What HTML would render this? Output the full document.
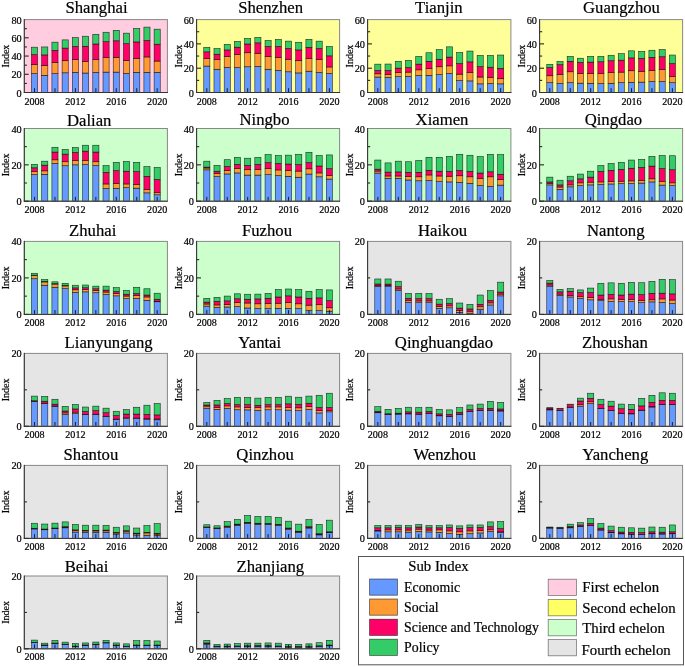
<!DOCTYPE html>
<html><head><meta charset="utf-8"><style>
html,body{margin:0;padding:0;background:#fff;}
svg{display:block;will-change:transform;}
text{font-family:"Liberation Serif",serif;fill:#000;stroke:#000;stroke-width:0.2px;}
</style></head><body>
<svg width="685" height="667" viewBox="0 0 685 667">
<rect width="685" height="667" fill="#fff"/>
<rect x="24.3" y="19.6" width="143.1" height="72.9" fill="#FFCCE0"/>
<rect x="31.46" y="73.6" width="6.13" height="18.9" fill="#6699FF" stroke="#000" stroke-opacity="0.8" stroke-width="0.6"/>
<rect x="31.46" y="64.71" width="6.13" height="8.89" fill="#FF9933" stroke="#000" stroke-opacity="0.8" stroke-width="0.6"/>
<rect x="31.46" y="54.57" width="6.13" height="10.14" fill="#FF0066" stroke="#000" stroke-opacity="0.8" stroke-width="0.6"/>
<rect x="31.46" y="47.17" width="6.13" height="7.4" fill="#33CC66" stroke="#000" stroke-opacity="0.8" stroke-width="0.6"/>
<rect x="41.68" y="75.31" width="6.13" height="17.19" fill="#6699FF" stroke="#000" stroke-opacity="0.8" stroke-width="0.6"/>
<rect x="41.68" y="65.62" width="6.13" height="9.69" fill="#FF9933" stroke="#000" stroke-opacity="0.8" stroke-width="0.6"/>
<rect x="41.68" y="54.91" width="6.13" height="10.71" fill="#FF0066" stroke="#000" stroke-opacity="0.8" stroke-width="0.6"/>
<rect x="41.68" y="46.94" width="6.13" height="7.97" fill="#33CC66" stroke="#000" stroke-opacity="0.8" stroke-width="0.6"/>
<rect x="51.9" y="73.6" width="6.13" height="18.9" fill="#6699FF" stroke="#000" stroke-opacity="0.8" stroke-width="0.6"/>
<rect x="51.9" y="62.43" width="6.13" height="11.17" fill="#FF9933" stroke="#000" stroke-opacity="0.8" stroke-width="0.6"/>
<rect x="51.9" y="50.36" width="6.13" height="12.07" fill="#FF0066" stroke="#000" stroke-opacity="0.8" stroke-width="0.6"/>
<rect x="51.9" y="42.15" width="6.13" height="8.21" fill="#33CC66" stroke="#000" stroke-opacity="0.8" stroke-width="0.6"/>
<rect x="62.12" y="72.8" width="6.13" height="19.7" fill="#6699FF" stroke="#000" stroke-opacity="0.8" stroke-width="0.6"/>
<rect x="62.12" y="60.73" width="6.13" height="12.07" fill="#FF9933" stroke="#000" stroke-opacity="0.8" stroke-width="0.6"/>
<rect x="62.12" y="48.08" width="6.13" height="12.65" fill="#FF0066" stroke="#000" stroke-opacity="0.8" stroke-width="0.6"/>
<rect x="62.12" y="39.88" width="6.13" height="8.2" fill="#33CC66" stroke="#000" stroke-opacity="0.8" stroke-width="0.6"/>
<rect x="72.34" y="72.35" width="6.13" height="20.15" fill="#6699FF" stroke="#000" stroke-opacity="0.8" stroke-width="0.6"/>
<rect x="72.34" y="59.7" width="6.13" height="12.65" fill="#FF9933" stroke="#000" stroke-opacity="0.8" stroke-width="0.6"/>
<rect x="72.34" y="46.48" width="6.13" height="13.22" fill="#FF0066" stroke="#000" stroke-opacity="0.8" stroke-width="0.6"/>
<rect x="72.34" y="37.6" width="6.13" height="8.88" fill="#33CC66" stroke="#000" stroke-opacity="0.8" stroke-width="0.6"/>
<rect x="82.56" y="73.03" width="6.13" height="19.47" fill="#6699FF" stroke="#000" stroke-opacity="0.8" stroke-width="0.6"/>
<rect x="82.56" y="61.29" width="6.13" height="11.74" fill="#FF9933" stroke="#000" stroke-opacity="0.8" stroke-width="0.6"/>
<rect x="82.56" y="46.26" width="6.13" height="15.03" fill="#FF0066" stroke="#000" stroke-opacity="0.8" stroke-width="0.6"/>
<rect x="82.56" y="36.23" width="6.13" height="10.03" fill="#33CC66" stroke="#000" stroke-opacity="0.8" stroke-width="0.6"/>
<rect x="92.78" y="72.46" width="6.13" height="20.04" fill="#6699FF" stroke="#000" stroke-opacity="0.8" stroke-width="0.6"/>
<rect x="92.78" y="59.7" width="6.13" height="12.76" fill="#FF9933" stroke="#000" stroke-opacity="0.8" stroke-width="0.6"/>
<rect x="92.78" y="43.98" width="6.13" height="15.72" fill="#FF0066" stroke="#000" stroke-opacity="0.8" stroke-width="0.6"/>
<rect x="92.78" y="34.29" width="6.13" height="9.69" fill="#33CC66" stroke="#000" stroke-opacity="0.8" stroke-width="0.6"/>
<rect x="103" y="72.12" width="6.13" height="20.38" fill="#6699FF" stroke="#000" stroke-opacity="0.8" stroke-width="0.6"/>
<rect x="103" y="57.65" width="6.13" height="14.47" fill="#FF9933" stroke="#000" stroke-opacity="0.8" stroke-width="0.6"/>
<rect x="103" y="41.7" width="6.13" height="15.95" fill="#FF0066" stroke="#000" stroke-opacity="0.8" stroke-width="0.6"/>
<rect x="103" y="32.24" width="6.13" height="9.46" fill="#33CC66" stroke="#000" stroke-opacity="0.8" stroke-width="0.6"/>
<rect x="113.23" y="72.12" width="6.13" height="20.38" fill="#6699FF" stroke="#000" stroke-opacity="0.8" stroke-width="0.6"/>
<rect x="113.23" y="57.31" width="6.13" height="14.81" fill="#FF9933" stroke="#000" stroke-opacity="0.8" stroke-width="0.6"/>
<rect x="113.23" y="40.79" width="6.13" height="16.52" fill="#FF0066" stroke="#000" stroke-opacity="0.8" stroke-width="0.6"/>
<rect x="113.23" y="30.3" width="6.13" height="10.49" fill="#33CC66" stroke="#000" stroke-opacity="0.8" stroke-width="0.6"/>
<rect x="123.45" y="73.49" width="6.13" height="19.01" fill="#6699FF" stroke="#000" stroke-opacity="0.8" stroke-width="0.6"/>
<rect x="123.45" y="60.5" width="6.13" height="12.99" fill="#FF9933" stroke="#000" stroke-opacity="0.8" stroke-width="0.6"/>
<rect x="123.45" y="43.64" width="6.13" height="16.86" fill="#FF0066" stroke="#000" stroke-opacity="0.8" stroke-width="0.6"/>
<rect x="123.45" y="33.15" width="6.13" height="10.49" fill="#33CC66" stroke="#000" stroke-opacity="0.8" stroke-width="0.6"/>
<rect x="133.67" y="72.35" width="6.13" height="20.15" fill="#6699FF" stroke="#000" stroke-opacity="0.8" stroke-width="0.6"/>
<rect x="133.67" y="58.67" width="6.13" height="13.68" fill="#FF9933" stroke="#000" stroke-opacity="0.8" stroke-width="0.6"/>
<rect x="133.67" y="41.93" width="6.13" height="16.74" fill="#FF0066" stroke="#000" stroke-opacity="0.8" stroke-width="0.6"/>
<rect x="133.67" y="28.48" width="6.13" height="13.45" fill="#33CC66" stroke="#000" stroke-opacity="0.8" stroke-width="0.6"/>
<rect x="143.89" y="72.35" width="6.13" height="20.15" fill="#6699FF" stroke="#000" stroke-opacity="0.8" stroke-width="0.6"/>
<rect x="143.89" y="56.97" width="6.13" height="15.38" fill="#FF9933" stroke="#000" stroke-opacity="0.8" stroke-width="0.6"/>
<rect x="143.89" y="40.45" width="6.13" height="16.52" fill="#FF0066" stroke="#000" stroke-opacity="0.8" stroke-width="0.6"/>
<rect x="143.89" y="27.11" width="6.13" height="13.34" fill="#33CC66" stroke="#000" stroke-opacity="0.8" stroke-width="0.6"/>
<rect x="154.11" y="72.35" width="6.13" height="20.15" fill="#6699FF" stroke="#000" stroke-opacity="0.8" stroke-width="0.6"/>
<rect x="154.11" y="61.07" width="6.13" height="11.28" fill="#FF9933" stroke="#000" stroke-opacity="0.8" stroke-width="0.6"/>
<rect x="154.11" y="44.2" width="6.13" height="16.87" fill="#FF0066" stroke="#000" stroke-opacity="0.8" stroke-width="0.6"/>
<rect x="154.11" y="29.17" width="6.13" height="15.03" fill="#33CC66" stroke="#000" stroke-opacity="0.8" stroke-width="0.6"/>
<line x1="34.52" y1="92.5" x2="34.52" y2="88.2" stroke="#111" stroke-width="0.9"/>
<line x1="54.96" y1="92.5" x2="54.96" y2="88.2" stroke="#111" stroke-width="0.9"/>
<line x1="75.41" y1="92.5" x2="75.41" y2="88.2" stroke="#111" stroke-width="0.9"/>
<line x1="95.85" y1="92.5" x2="95.85" y2="88.2" stroke="#111" stroke-width="0.9"/>
<line x1="116.29" y1="92.5" x2="116.29" y2="88.2" stroke="#111" stroke-width="0.9"/>
<line x1="136.74" y1="92.5" x2="136.74" y2="88.2" stroke="#111" stroke-width="0.9"/>
<line x1="157.18" y1="92.5" x2="157.18" y2="88.2" stroke="#111" stroke-width="0.9"/>
<rect x="24.3" y="19.6" width="143.1" height="72.9" fill="none" stroke="#888" stroke-width="1"/>
<line x1="24.3" y1="92.5" x2="28.7" y2="92.5" stroke="#111" stroke-width="1"/>
<text x="21.7" y="96.5" font-size="10.3" text-anchor="end">0</text>
<line x1="24.3" y1="83.39" x2="26.9" y2="83.39" stroke="#111" stroke-width="1"/>
<line x1="24.3" y1="74.28" x2="28.7" y2="74.28" stroke="#111" stroke-width="1"/>
<text x="21.7" y="78.28" font-size="10.3" text-anchor="end">20</text>
<line x1="24.3" y1="65.16" x2="26.9" y2="65.16" stroke="#111" stroke-width="1"/>
<line x1="24.3" y1="56.05" x2="28.7" y2="56.05" stroke="#111" stroke-width="1"/>
<text x="21.7" y="60.05" font-size="10.3" text-anchor="end">40</text>
<line x1="24.3" y1="46.94" x2="26.9" y2="46.94" stroke="#111" stroke-width="1"/>
<line x1="24.3" y1="37.83" x2="28.7" y2="37.83" stroke="#111" stroke-width="1"/>
<text x="21.7" y="41.83" font-size="10.3" text-anchor="end">60</text>
<line x1="24.3" y1="28.71" x2="26.9" y2="28.71" stroke="#111" stroke-width="1"/>
<text x="21.7" y="23.6" font-size="10.3" text-anchor="end">80</text>
<line x1="23.8" y1="92.5" x2="167.9" y2="92.5" stroke="#333" stroke-width="1"/>
<line x1="24.3" y1="19.1" x2="24.3" y2="93" stroke="#333" stroke-width="1"/>
<text x="34.52" y="104.7" font-size="10.1" text-anchor="middle">2008</text>
<text x="75.41" y="104.7" font-size="10.1" text-anchor="middle">2012</text>
<text x="116.29" y="104.7" font-size="10.1" text-anchor="middle">2016</text>
<text x="157.18" y="104.7" font-size="10.1" text-anchor="middle">2020</text>
<text x="9.5" y="56.05" font-size="10" text-anchor="middle" transform="rotate(-90 9.5 56.05)">Index</text>
<text x="96.5" y="12.8" font-size="16.7" text-anchor="middle">Shanghai</text>
<rect x="196.6" y="19.6" width="143" height="72.9" fill="#FFFF99"/>
<rect x="203.75" y="66.08" width="6.13" height="26.42" fill="#6699FF" stroke="#000" stroke-opacity="0.8" stroke-width="0.6"/>
<rect x="203.75" y="58.67" width="6.13" height="7.41" fill="#FF9933" stroke="#000" stroke-opacity="0.8" stroke-width="0.6"/>
<rect x="203.75" y="51.84" width="6.13" height="6.83" fill="#FF0066" stroke="#000" stroke-opacity="0.8" stroke-width="0.6"/>
<rect x="203.75" y="47.28" width="6.13" height="4.56" fill="#33CC66" stroke="#000" stroke-opacity="0.8" stroke-width="0.6"/>
<rect x="213.96" y="69.27" width="6.13" height="23.23" fill="#6699FF" stroke="#000" stroke-opacity="0.8" stroke-width="0.6"/>
<rect x="213.96" y="59.59" width="6.13" height="9.68" fill="#FF9933" stroke="#000" stroke-opacity="0.8" stroke-width="0.6"/>
<rect x="213.96" y="54.23" width="6.13" height="5.36" fill="#FF0066" stroke="#000" stroke-opacity="0.8" stroke-width="0.6"/>
<rect x="213.96" y="48.53" width="6.13" height="5.7" fill="#33CC66" stroke="#000" stroke-opacity="0.8" stroke-width="0.6"/>
<rect x="224.18" y="67.45" width="6.13" height="25.05" fill="#6699FF" stroke="#000" stroke-opacity="0.8" stroke-width="0.6"/>
<rect x="224.18" y="56.51" width="6.13" height="10.94" fill="#FF9933" stroke="#000" stroke-opacity="0.8" stroke-width="0.6"/>
<rect x="224.18" y="49.9" width="6.13" height="6.61" fill="#FF0066" stroke="#000" stroke-opacity="0.8" stroke-width="0.6"/>
<rect x="224.18" y="44.32" width="6.13" height="5.58" fill="#33CC66" stroke="#000" stroke-opacity="0.8" stroke-width="0.6"/>
<rect x="234.39" y="67.56" width="6.13" height="24.94" fill="#6699FF" stroke="#000" stroke-opacity="0.8" stroke-width="0.6"/>
<rect x="234.39" y="54.46" width="6.13" height="13.1" fill="#FF9933" stroke="#000" stroke-opacity="0.8" stroke-width="0.6"/>
<rect x="234.39" y="47.17" width="6.13" height="7.29" fill="#FF0066" stroke="#000" stroke-opacity="0.8" stroke-width="0.6"/>
<rect x="234.39" y="41.36" width="6.13" height="5.81" fill="#33CC66" stroke="#000" stroke-opacity="0.8" stroke-width="0.6"/>
<rect x="244.61" y="66.76" width="6.13" height="25.74" fill="#6699FF" stroke="#000" stroke-opacity="0.8" stroke-width="0.6"/>
<rect x="244.61" y="52.75" width="6.13" height="14.01" fill="#FF9933" stroke="#000" stroke-opacity="0.8" stroke-width="0.6"/>
<rect x="244.61" y="43.98" width="6.13" height="8.77" fill="#FF0066" stroke="#000" stroke-opacity="0.8" stroke-width="0.6"/>
<rect x="244.61" y="38.51" width="6.13" height="5.47" fill="#33CC66" stroke="#000" stroke-opacity="0.8" stroke-width="0.6"/>
<rect x="254.82" y="66.42" width="6.13" height="26.08" fill="#6699FF" stroke="#000" stroke-opacity="0.8" stroke-width="0.6"/>
<rect x="254.82" y="53.55" width="6.13" height="12.87" fill="#FF9933" stroke="#000" stroke-opacity="0.8" stroke-width="0.6"/>
<rect x="254.82" y="42.84" width="6.13" height="10.71" fill="#FF0066" stroke="#000" stroke-opacity="0.8" stroke-width="0.6"/>
<rect x="254.82" y="37.37" width="6.13" height="5.47" fill="#33CC66" stroke="#000" stroke-opacity="0.8" stroke-width="0.6"/>
<rect x="265.04" y="69.27" width="6.13" height="23.23" fill="#6699FF" stroke="#000" stroke-opacity="0.8" stroke-width="0.6"/>
<rect x="265.04" y="56.51" width="6.13" height="12.76" fill="#FF9933" stroke="#000" stroke-opacity="0.8" stroke-width="0.6"/>
<rect x="265.04" y="46.48" width="6.13" height="10.03" fill="#FF0066" stroke="#000" stroke-opacity="0.8" stroke-width="0.6"/>
<rect x="265.04" y="40.45" width="6.13" height="6.03" fill="#33CC66" stroke="#000" stroke-opacity="0.8" stroke-width="0.6"/>
<rect x="275.25" y="70.41" width="6.13" height="22.09" fill="#6699FF" stroke="#000" stroke-opacity="0.8" stroke-width="0.6"/>
<rect x="275.25" y="57.54" width="6.13" height="12.87" fill="#FF9933" stroke="#000" stroke-opacity="0.8" stroke-width="0.6"/>
<rect x="275.25" y="46.48" width="6.13" height="11.06" fill="#FF0066" stroke="#000" stroke-opacity="0.8" stroke-width="0.6"/>
<rect x="275.25" y="39.42" width="6.13" height="7.06" fill="#33CC66" stroke="#000" stroke-opacity="0.8" stroke-width="0.6"/>
<rect x="285.46" y="71.78" width="6.13" height="20.72" fill="#6699FF" stroke="#000" stroke-opacity="0.8" stroke-width="0.6"/>
<rect x="285.46" y="59.24" width="6.13" height="12.54" fill="#FF9933" stroke="#000" stroke-opacity="0.8" stroke-width="0.6"/>
<rect x="285.46" y="48.42" width="6.13" height="10.82" fill="#FF0066" stroke="#000" stroke-opacity="0.8" stroke-width="0.6"/>
<rect x="285.46" y="41.13" width="6.13" height="7.29" fill="#33CC66" stroke="#000" stroke-opacity="0.8" stroke-width="0.6"/>
<rect x="295.68" y="72.92" width="6.13" height="19.58" fill="#6699FF" stroke="#000" stroke-opacity="0.8" stroke-width="0.6"/>
<rect x="295.68" y="60.73" width="6.13" height="12.19" fill="#FF9933" stroke="#000" stroke-opacity="0.8" stroke-width="0.6"/>
<rect x="295.68" y="49.9" width="6.13" height="10.83" fill="#FF0066" stroke="#000" stroke-opacity="0.8" stroke-width="0.6"/>
<rect x="295.68" y="42.27" width="6.13" height="7.63" fill="#33CC66" stroke="#000" stroke-opacity="0.8" stroke-width="0.6"/>
<rect x="305.89" y="71.21" width="6.13" height="21.29" fill="#6699FF" stroke="#000" stroke-opacity="0.8" stroke-width="0.6"/>
<rect x="305.89" y="58.67" width="6.13" height="12.54" fill="#FF9933" stroke="#000" stroke-opacity="0.8" stroke-width="0.6"/>
<rect x="305.89" y="47.28" width="6.13" height="11.39" fill="#FF0066" stroke="#000" stroke-opacity="0.8" stroke-width="0.6"/>
<rect x="305.89" y="39.31" width="6.13" height="7.97" fill="#33CC66" stroke="#000" stroke-opacity="0.8" stroke-width="0.6"/>
<rect x="316.11" y="72.46" width="6.13" height="20.04" fill="#6699FF" stroke="#000" stroke-opacity="0.8" stroke-width="0.6"/>
<rect x="316.11" y="59.59" width="6.13" height="12.87" fill="#FF9933" stroke="#000" stroke-opacity="0.8" stroke-width="0.6"/>
<rect x="316.11" y="48.53" width="6.13" height="11.06" fill="#FF0066" stroke="#000" stroke-opacity="0.8" stroke-width="0.6"/>
<rect x="316.11" y="41.13" width="6.13" height="7.4" fill="#33CC66" stroke="#000" stroke-opacity="0.8" stroke-width="0.6"/>
<rect x="326.32" y="73.49" width="6.13" height="19.01" fill="#6699FF" stroke="#000" stroke-opacity="0.8" stroke-width="0.6"/>
<rect x="326.32" y="66.99" width="6.13" height="6.5" fill="#FF9933" stroke="#000" stroke-opacity="0.8" stroke-width="0.6"/>
<rect x="326.32" y="55.83" width="6.13" height="11.16" fill="#FF0066" stroke="#000" stroke-opacity="0.8" stroke-width="0.6"/>
<rect x="326.32" y="46.48" width="6.13" height="9.35" fill="#33CC66" stroke="#000" stroke-opacity="0.8" stroke-width="0.6"/>
<line x1="206.81" y1="92.5" x2="206.81" y2="88.2" stroke="#111" stroke-width="0.9"/>
<line x1="227.24" y1="92.5" x2="227.24" y2="88.2" stroke="#111" stroke-width="0.9"/>
<line x1="247.67" y1="92.5" x2="247.67" y2="88.2" stroke="#111" stroke-width="0.9"/>
<line x1="268.1" y1="92.5" x2="268.1" y2="88.2" stroke="#111" stroke-width="0.9"/>
<line x1="288.53" y1="92.5" x2="288.53" y2="88.2" stroke="#111" stroke-width="0.9"/>
<line x1="308.96" y1="92.5" x2="308.96" y2="88.2" stroke="#111" stroke-width="0.9"/>
<line x1="329.39" y1="92.5" x2="329.39" y2="88.2" stroke="#111" stroke-width="0.9"/>
<rect x="196.6" y="19.6" width="143" height="72.9" fill="none" stroke="#888" stroke-width="1"/>
<line x1="196.6" y1="92.5" x2="201" y2="92.5" stroke="#111" stroke-width="1"/>
<text x="194" y="96.5" font-size="10.3" text-anchor="end">0</text>
<line x1="196.6" y1="80.35" x2="199.2" y2="80.35" stroke="#111" stroke-width="1"/>
<line x1="196.6" y1="68.2" x2="201" y2="68.2" stroke="#111" stroke-width="1"/>
<text x="194" y="72.2" font-size="10.3" text-anchor="end">20</text>
<line x1="196.6" y1="56.05" x2="199.2" y2="56.05" stroke="#111" stroke-width="1"/>
<line x1="196.6" y1="43.9" x2="201" y2="43.9" stroke="#111" stroke-width="1"/>
<text x="194" y="47.9" font-size="10.3" text-anchor="end">40</text>
<line x1="196.6" y1="31.75" x2="199.2" y2="31.75" stroke="#111" stroke-width="1"/>
<text x="194" y="23.6" font-size="10.3" text-anchor="end">60</text>
<line x1="196.1" y1="92.5" x2="340.1" y2="92.5" stroke="#333" stroke-width="1"/>
<line x1="196.6" y1="19.1" x2="196.6" y2="93" stroke="#333" stroke-width="1"/>
<text x="206.81" y="104.7" font-size="10.1" text-anchor="middle">2008</text>
<text x="247.67" y="104.7" font-size="10.1" text-anchor="middle">2012</text>
<text x="288.53" y="104.7" font-size="10.1" text-anchor="middle">2016</text>
<text x="329.39" y="104.7" font-size="10.1" text-anchor="middle">2020</text>
<text x="181.8" y="56.05" font-size="10" text-anchor="middle" transform="rotate(-90 181.8 56.05)">Index</text>
<text x="270.6" y="13" font-size="16.7" text-anchor="middle">Shenzhen</text>
<rect x="367.6" y="19.6" width="143.3" height="72.9" fill="#FFFF99"/>
<rect x="374.76" y="77.02" width="6.14" height="15.48" fill="#6699FF" stroke="#000" stroke-opacity="0.8" stroke-width="0.6"/>
<rect x="374.76" y="73.83" width="6.14" height="3.19" fill="#FF9933" stroke="#000" stroke-opacity="0.8" stroke-width="0.6"/>
<rect x="374.76" y="70.41" width="6.14" height="3.42" fill="#FF0066" stroke="#000" stroke-opacity="0.8" stroke-width="0.6"/>
<rect x="374.76" y="64.14" width="6.14" height="6.27" fill="#33CC66" stroke="#000" stroke-opacity="0.8" stroke-width="0.6"/>
<rect x="385" y="77.47" width="6.14" height="15.03" fill="#6699FF" stroke="#000" stroke-opacity="0.8" stroke-width="0.6"/>
<rect x="385" y="74.28" width="6.14" height="3.19" fill="#FF9933" stroke="#000" stroke-opacity="0.8" stroke-width="0.6"/>
<rect x="385" y="70.41" width="6.14" height="3.87" fill="#FF0066" stroke="#000" stroke-opacity="0.8" stroke-width="0.6"/>
<rect x="385" y="64.03" width="6.14" height="6.38" fill="#33CC66" stroke="#000" stroke-opacity="0.8" stroke-width="0.6"/>
<rect x="395.24" y="76.68" width="6.14" height="15.82" fill="#6699FF" stroke="#000" stroke-opacity="0.8" stroke-width="0.6"/>
<rect x="395.24" y="72.69" width="6.14" height="3.99" fill="#FF9933" stroke="#000" stroke-opacity="0.8" stroke-width="0.6"/>
<rect x="395.24" y="68.13" width="6.14" height="4.56" fill="#FF0066" stroke="#000" stroke-opacity="0.8" stroke-width="0.6"/>
<rect x="395.24" y="61.29" width="6.14" height="6.84" fill="#33CC66" stroke="#000" stroke-opacity="0.8" stroke-width="0.6"/>
<rect x="405.47" y="76.45" width="6.14" height="16.05" fill="#6699FF" stroke="#000" stroke-opacity="0.8" stroke-width="0.6"/>
<rect x="405.47" y="72.12" width="6.14" height="4.33" fill="#FF9933" stroke="#000" stroke-opacity="0.8" stroke-width="0.6"/>
<rect x="405.47" y="67.56" width="6.14" height="4.56" fill="#FF0066" stroke="#000" stroke-opacity="0.8" stroke-width="0.6"/>
<rect x="405.47" y="60.38" width="6.14" height="7.18" fill="#33CC66" stroke="#000" stroke-opacity="0.8" stroke-width="0.6"/>
<rect x="415.71" y="75.54" width="6.14" height="16.96" fill="#6699FF" stroke="#000" stroke-opacity="0.8" stroke-width="0.6"/>
<rect x="415.71" y="69.84" width="6.14" height="5.7" fill="#FF9933" stroke="#000" stroke-opacity="0.8" stroke-width="0.6"/>
<rect x="415.71" y="64.14" width="6.14" height="5.7" fill="#FF0066" stroke="#000" stroke-opacity="0.8" stroke-width="0.6"/>
<rect x="415.71" y="56.4" width="6.14" height="7.74" fill="#33CC66" stroke="#000" stroke-opacity="0.8" stroke-width="0.6"/>
<rect x="425.94" y="75.31" width="6.14" height="17.19" fill="#6699FF" stroke="#000" stroke-opacity="0.8" stroke-width="0.6"/>
<rect x="425.94" y="68.7" width="6.14" height="6.61" fill="#FF9933" stroke="#000" stroke-opacity="0.8" stroke-width="0.6"/>
<rect x="425.94" y="61.29" width="6.14" height="7.41" fill="#FF0066" stroke="#000" stroke-opacity="0.8" stroke-width="0.6"/>
<rect x="425.94" y="52.75" width="6.14" height="8.54" fill="#33CC66" stroke="#000" stroke-opacity="0.8" stroke-width="0.6"/>
<rect x="436.18" y="74.63" width="6.14" height="17.87" fill="#6699FF" stroke="#000" stroke-opacity="0.8" stroke-width="0.6"/>
<rect x="436.18" y="66.76" width="6.14" height="7.87" fill="#FF9933" stroke="#000" stroke-opacity="0.8" stroke-width="0.6"/>
<rect x="436.18" y="59.24" width="6.14" height="7.52" fill="#FF0066" stroke="#000" stroke-opacity="0.8" stroke-width="0.6"/>
<rect x="436.18" y="49.56" width="6.14" height="9.68" fill="#33CC66" stroke="#000" stroke-opacity="0.8" stroke-width="0.6"/>
<rect x="446.41" y="73.49" width="6.14" height="19.01" fill="#6699FF" stroke="#000" stroke-opacity="0.8" stroke-width="0.6"/>
<rect x="446.41" y="65.85" width="6.14" height="7.64" fill="#FF9933" stroke="#000" stroke-opacity="0.8" stroke-width="0.6"/>
<rect x="446.41" y="57.08" width="6.14" height="8.77" fill="#FF0066" stroke="#000" stroke-opacity="0.8" stroke-width="0.6"/>
<rect x="446.41" y="46.83" width="6.14" height="10.25" fill="#33CC66" stroke="#000" stroke-opacity="0.8" stroke-width="0.6"/>
<rect x="456.65" y="80.66" width="6.14" height="11.84" fill="#6699FF" stroke="#000" stroke-opacity="0.8" stroke-width="0.6"/>
<rect x="456.65" y="74.17" width="6.14" height="6.49" fill="#FF9933" stroke="#000" stroke-opacity="0.8" stroke-width="0.6"/>
<rect x="456.65" y="63.57" width="6.14" height="10.6" fill="#FF0066" stroke="#000" stroke-opacity="0.8" stroke-width="0.6"/>
<rect x="456.65" y="52.52" width="6.14" height="11.05" fill="#33CC66" stroke="#000" stroke-opacity="0.8" stroke-width="0.6"/>
<rect x="466.89" y="80.89" width="6.14" height="11.61" fill="#6699FF" stroke="#000" stroke-opacity="0.8" stroke-width="0.6"/>
<rect x="466.89" y="72.69" width="6.14" height="8.2" fill="#FF9933" stroke="#000" stroke-opacity="0.8" stroke-width="0.6"/>
<rect x="466.89" y="61.86" width="6.14" height="10.83" fill="#FF0066" stroke="#000" stroke-opacity="0.8" stroke-width="0.6"/>
<rect x="466.89" y="51.04" width="6.14" height="10.82" fill="#33CC66" stroke="#000" stroke-opacity="0.8" stroke-width="0.6"/>
<rect x="477.12" y="83.85" width="6.14" height="8.65" fill="#6699FF" stroke="#000" stroke-opacity="0.8" stroke-width="0.6"/>
<rect x="477.12" y="77.02" width="6.14" height="6.83" fill="#FF9933" stroke="#000" stroke-opacity="0.8" stroke-width="0.6"/>
<rect x="477.12" y="66.65" width="6.14" height="10.37" fill="#FF0066" stroke="#000" stroke-opacity="0.8" stroke-width="0.6"/>
<rect x="477.12" y="55.37" width="6.14" height="11.28" fill="#33CC66" stroke="#000" stroke-opacity="0.8" stroke-width="0.6"/>
<rect x="487.36" y="83.51" width="6.14" height="8.99" fill="#6699FF" stroke="#000" stroke-opacity="0.8" stroke-width="0.6"/>
<rect x="487.36" y="77.47" width="6.14" height="6.04" fill="#FF9933" stroke="#000" stroke-opacity="0.8" stroke-width="0.6"/>
<rect x="487.36" y="67.22" width="6.14" height="10.25" fill="#FF0066" stroke="#000" stroke-opacity="0.8" stroke-width="0.6"/>
<rect x="487.36" y="55.37" width="6.14" height="11.85" fill="#33CC66" stroke="#000" stroke-opacity="0.8" stroke-width="0.6"/>
<rect x="497.59" y="83.85" width="6.14" height="8.65" fill="#6699FF" stroke="#000" stroke-opacity="0.8" stroke-width="0.6"/>
<rect x="497.59" y="78.73" width="6.14" height="5.12" fill="#FF9933" stroke="#000" stroke-opacity="0.8" stroke-width="0.6"/>
<rect x="497.59" y="68.36" width="6.14" height="10.37" fill="#FF0066" stroke="#000" stroke-opacity="0.8" stroke-width="0.6"/>
<rect x="497.59" y="55.03" width="6.14" height="13.33" fill="#33CC66" stroke="#000" stroke-opacity="0.8" stroke-width="0.6"/>
<line x1="377.84" y1="92.5" x2="377.84" y2="88.2" stroke="#111" stroke-width="0.9"/>
<line x1="398.31" y1="92.5" x2="398.31" y2="88.2" stroke="#111" stroke-width="0.9"/>
<line x1="418.78" y1="92.5" x2="418.78" y2="88.2" stroke="#111" stroke-width="0.9"/>
<line x1="439.25" y1="92.5" x2="439.25" y2="88.2" stroke="#111" stroke-width="0.9"/>
<line x1="459.72" y1="92.5" x2="459.72" y2="88.2" stroke="#111" stroke-width="0.9"/>
<line x1="480.19" y1="92.5" x2="480.19" y2="88.2" stroke="#111" stroke-width="0.9"/>
<line x1="500.66" y1="92.5" x2="500.66" y2="88.2" stroke="#111" stroke-width="0.9"/>
<rect x="367.6" y="19.6" width="143.3" height="72.9" fill="none" stroke="#888" stroke-width="1"/>
<line x1="367.6" y1="92.5" x2="372" y2="92.5" stroke="#111" stroke-width="1"/>
<text x="365" y="96.5" font-size="10.3" text-anchor="end">0</text>
<line x1="367.6" y1="80.35" x2="370.2" y2="80.35" stroke="#111" stroke-width="1"/>
<line x1="367.6" y1="68.2" x2="372" y2="68.2" stroke="#111" stroke-width="1"/>
<text x="365" y="72.2" font-size="10.3" text-anchor="end">20</text>
<line x1="367.6" y1="56.05" x2="370.2" y2="56.05" stroke="#111" stroke-width="1"/>
<line x1="367.6" y1="43.9" x2="372" y2="43.9" stroke="#111" stroke-width="1"/>
<text x="365" y="47.9" font-size="10.3" text-anchor="end">40</text>
<line x1="367.6" y1="31.75" x2="370.2" y2="31.75" stroke="#111" stroke-width="1"/>
<text x="365" y="23.6" font-size="10.3" text-anchor="end">60</text>
<line x1="367.1" y1="92.5" x2="511.4" y2="92.5" stroke="#333" stroke-width="1"/>
<line x1="367.6" y1="19.1" x2="367.6" y2="93" stroke="#333" stroke-width="1"/>
<text x="377.84" y="104.7" font-size="10.1" text-anchor="middle">2008</text>
<text x="418.78" y="104.7" font-size="10.1" text-anchor="middle">2012</text>
<text x="459.72" y="104.7" font-size="10.1" text-anchor="middle">2016</text>
<text x="500.66" y="104.7" font-size="10.1" text-anchor="middle">2020</text>
<text x="352.8" y="56.05" font-size="10" text-anchor="middle" transform="rotate(-90 352.8 56.05)">Index</text>
<text x="438.9" y="13" font-size="16.7" text-anchor="middle">Tianjin</text>
<rect x="539.6" y="19.6" width="143" height="72.9" fill="#FFFF99"/>
<rect x="546.75" y="82.71" width="6.13" height="9.79" fill="#6699FF" stroke="#000" stroke-opacity="0.8" stroke-width="0.6"/>
<rect x="546.75" y="75.76" width="6.13" height="6.95" fill="#FF9933" stroke="#000" stroke-opacity="0.8" stroke-width="0.6"/>
<rect x="546.75" y="67.56" width="6.13" height="8.2" fill="#FF0066" stroke="#000" stroke-opacity="0.8" stroke-width="0.6"/>
<rect x="546.75" y="64.37" width="6.13" height="3.19" fill="#33CC66" stroke="#000" stroke-opacity="0.8" stroke-width="0.6"/>
<rect x="556.96" y="83.51" width="6.13" height="8.99" fill="#6699FF" stroke="#000" stroke-opacity="0.8" stroke-width="0.6"/>
<rect x="556.96" y="74.4" width="6.13" height="9.11" fill="#FF9933" stroke="#000" stroke-opacity="0.8" stroke-width="0.6"/>
<rect x="556.96" y="64.71" width="6.13" height="9.69" fill="#FF0066" stroke="#000" stroke-opacity="0.8" stroke-width="0.6"/>
<rect x="556.96" y="61.52" width="6.13" height="3.19" fill="#33CC66" stroke="#000" stroke-opacity="0.8" stroke-width="0.6"/>
<rect x="567.18" y="82.71" width="6.13" height="9.79" fill="#6699FF" stroke="#000" stroke-opacity="0.8" stroke-width="0.6"/>
<rect x="567.18" y="71.78" width="6.13" height="10.93" fill="#FF9933" stroke="#000" stroke-opacity="0.8" stroke-width="0.6"/>
<rect x="567.18" y="61.29" width="6.13" height="10.49" fill="#FF0066" stroke="#000" stroke-opacity="0.8" stroke-width="0.6"/>
<rect x="567.18" y="56.4" width="6.13" height="4.89" fill="#33CC66" stroke="#000" stroke-opacity="0.8" stroke-width="0.6"/>
<rect x="577.39" y="83.17" width="6.13" height="9.33" fill="#6699FF" stroke="#000" stroke-opacity="0.8" stroke-width="0.6"/>
<rect x="577.39" y="73.49" width="6.13" height="9.68" fill="#FF9933" stroke="#000" stroke-opacity="0.8" stroke-width="0.6"/>
<rect x="577.39" y="62.43" width="6.13" height="11.06" fill="#FF0066" stroke="#000" stroke-opacity="0.8" stroke-width="0.6"/>
<rect x="577.39" y="58.22" width="6.13" height="4.21" fill="#33CC66" stroke="#000" stroke-opacity="0.8" stroke-width="0.6"/>
<rect x="587.61" y="83.28" width="6.13" height="9.22" fill="#6699FF" stroke="#000" stroke-opacity="0.8" stroke-width="0.6"/>
<rect x="587.61" y="73.49" width="6.13" height="9.79" fill="#FF9933" stroke="#000" stroke-opacity="0.8" stroke-width="0.6"/>
<rect x="587.61" y="62.09" width="6.13" height="11.4" fill="#FF0066" stroke="#000" stroke-opacity="0.8" stroke-width="0.6"/>
<rect x="587.61" y="56.4" width="6.13" height="5.69" fill="#33CC66" stroke="#000" stroke-opacity="0.8" stroke-width="0.6"/>
<rect x="597.82" y="83.63" width="6.13" height="8.87" fill="#6699FF" stroke="#000" stroke-opacity="0.8" stroke-width="0.6"/>
<rect x="597.82" y="73.6" width="6.13" height="10.03" fill="#FF9933" stroke="#000" stroke-opacity="0.8" stroke-width="0.6"/>
<rect x="597.82" y="61.75" width="6.13" height="11.85" fill="#FF0066" stroke="#000" stroke-opacity="0.8" stroke-width="0.6"/>
<rect x="597.82" y="56.4" width="6.13" height="5.35" fill="#33CC66" stroke="#000" stroke-opacity="0.8" stroke-width="0.6"/>
<rect x="608.04" y="83.28" width="6.13" height="9.22" fill="#6699FF" stroke="#000" stroke-opacity="0.8" stroke-width="0.6"/>
<rect x="608.04" y="72.46" width="6.13" height="10.82" fill="#FF9933" stroke="#000" stroke-opacity="0.8" stroke-width="0.6"/>
<rect x="608.04" y="60.73" width="6.13" height="11.73" fill="#FF0066" stroke="#000" stroke-opacity="0.8" stroke-width="0.6"/>
<rect x="608.04" y="55.26" width="6.13" height="5.47" fill="#33CC66" stroke="#000" stroke-opacity="0.8" stroke-width="0.6"/>
<rect x="618.25" y="82.71" width="6.13" height="9.79" fill="#6699FF" stroke="#000" stroke-opacity="0.8" stroke-width="0.6"/>
<rect x="618.25" y="72.12" width="6.13" height="10.59" fill="#FF9933" stroke="#000" stroke-opacity="0.8" stroke-width="0.6"/>
<rect x="618.25" y="60.16" width="6.13" height="11.96" fill="#FF0066" stroke="#000" stroke-opacity="0.8" stroke-width="0.6"/>
<rect x="618.25" y="53.66" width="6.13" height="6.5" fill="#33CC66" stroke="#000" stroke-opacity="0.8" stroke-width="0.6"/>
<rect x="628.46" y="82.37" width="6.13" height="10.13" fill="#6699FF" stroke="#000" stroke-opacity="0.8" stroke-width="0.6"/>
<rect x="628.46" y="70.75" width="6.13" height="11.62" fill="#FF9933" stroke="#000" stroke-opacity="0.8" stroke-width="0.6"/>
<rect x="628.46" y="57.88" width="6.13" height="12.87" fill="#FF0066" stroke="#000" stroke-opacity="0.8" stroke-width="0.6"/>
<rect x="628.46" y="50.81" width="6.13" height="7.07" fill="#33CC66" stroke="#000" stroke-opacity="0.8" stroke-width="0.6"/>
<rect x="638.68" y="82.14" width="6.13" height="10.36" fill="#6699FF" stroke="#000" stroke-opacity="0.8" stroke-width="0.6"/>
<rect x="638.68" y="71.55" width="6.13" height="10.59" fill="#FF9933" stroke="#000" stroke-opacity="0.8" stroke-width="0.6"/>
<rect x="638.68" y="58.45" width="6.13" height="13.1" fill="#FF0066" stroke="#000" stroke-opacity="0.8" stroke-width="0.6"/>
<rect x="638.68" y="51.38" width="6.13" height="7.07" fill="#33CC66" stroke="#000" stroke-opacity="0.8" stroke-width="0.6"/>
<rect x="648.89" y="81.46" width="6.13" height="11.04" fill="#6699FF" stroke="#000" stroke-opacity="0.8" stroke-width="0.6"/>
<rect x="648.89" y="70.41" width="6.13" height="11.05" fill="#FF9933" stroke="#000" stroke-opacity="0.8" stroke-width="0.6"/>
<rect x="648.89" y="57.31" width="6.13" height="13.1" fill="#FF0066" stroke="#000" stroke-opacity="0.8" stroke-width="0.6"/>
<rect x="648.89" y="50.24" width="6.13" height="7.07" fill="#33CC66" stroke="#000" stroke-opacity="0.8" stroke-width="0.6"/>
<rect x="659.11" y="81.46" width="6.13" height="11.04" fill="#6699FF" stroke="#000" stroke-opacity="0.8" stroke-width="0.6"/>
<rect x="659.11" y="69.5" width="6.13" height="11.96" fill="#FF9933" stroke="#000" stroke-opacity="0.8" stroke-width="0.6"/>
<rect x="659.11" y="56.74" width="6.13" height="12.76" fill="#FF0066" stroke="#000" stroke-opacity="0.8" stroke-width="0.6"/>
<rect x="659.11" y="49.56" width="6.13" height="7.18" fill="#33CC66" stroke="#000" stroke-opacity="0.8" stroke-width="0.6"/>
<rect x="669.32" y="82.71" width="6.13" height="9.79" fill="#6699FF" stroke="#000" stroke-opacity="0.8" stroke-width="0.6"/>
<rect x="669.32" y="76.45" width="6.13" height="6.26" fill="#FF9933" stroke="#000" stroke-opacity="0.8" stroke-width="0.6"/>
<rect x="669.32" y="63.57" width="6.13" height="12.88" fill="#FF0066" stroke="#000" stroke-opacity="0.8" stroke-width="0.6"/>
<rect x="669.32" y="55.03" width="6.13" height="8.54" fill="#33CC66" stroke="#000" stroke-opacity="0.8" stroke-width="0.6"/>
<line x1="549.81" y1="92.5" x2="549.81" y2="88.2" stroke="#111" stroke-width="0.9"/>
<line x1="570.24" y1="92.5" x2="570.24" y2="88.2" stroke="#111" stroke-width="0.9"/>
<line x1="590.67" y1="92.5" x2="590.67" y2="88.2" stroke="#111" stroke-width="0.9"/>
<line x1="611.1" y1="92.5" x2="611.1" y2="88.2" stroke="#111" stroke-width="0.9"/>
<line x1="631.53" y1="92.5" x2="631.53" y2="88.2" stroke="#111" stroke-width="0.9"/>
<line x1="651.96" y1="92.5" x2="651.96" y2="88.2" stroke="#111" stroke-width="0.9"/>
<line x1="672.39" y1="92.5" x2="672.39" y2="88.2" stroke="#111" stroke-width="0.9"/>
<rect x="539.6" y="19.6" width="143" height="72.9" fill="none" stroke="#888" stroke-width="1"/>
<line x1="539.6" y1="92.5" x2="544" y2="92.5" stroke="#111" stroke-width="1"/>
<text x="537" y="96.5" font-size="10.3" text-anchor="end">0</text>
<line x1="539.6" y1="80.35" x2="542.2" y2="80.35" stroke="#111" stroke-width="1"/>
<line x1="539.6" y1="68.2" x2="544" y2="68.2" stroke="#111" stroke-width="1"/>
<text x="537" y="72.2" font-size="10.3" text-anchor="end">20</text>
<line x1="539.6" y1="56.05" x2="542.2" y2="56.05" stroke="#111" stroke-width="1"/>
<line x1="539.6" y1="43.9" x2="544" y2="43.9" stroke="#111" stroke-width="1"/>
<text x="537" y="47.9" font-size="10.3" text-anchor="end">40</text>
<line x1="539.6" y1="31.75" x2="542.2" y2="31.75" stroke="#111" stroke-width="1"/>
<text x="537" y="23.6" font-size="10.3" text-anchor="end">60</text>
<line x1="539.1" y1="92.5" x2="683.1" y2="92.5" stroke="#333" stroke-width="1"/>
<line x1="539.6" y1="19.1" x2="539.6" y2="93" stroke="#333" stroke-width="1"/>
<text x="549.81" y="104.7" font-size="10.1" text-anchor="middle">2008</text>
<text x="590.67" y="104.7" font-size="10.1" text-anchor="middle">2012</text>
<text x="631.53" y="104.7" font-size="10.1" text-anchor="middle">2016</text>
<text x="672.39" y="104.7" font-size="10.1" text-anchor="middle">2020</text>
<text x="524.8" y="56.05" font-size="10" text-anchor="middle" transform="rotate(-90 524.8 56.05)">Index</text>
<text x="621.5" y="13" font-size="16.7" text-anchor="middle">Guangzhou</text>
<rect x="24.3" y="128.5" width="143.1" height="72.7" fill="#CCFFCC"/>
<rect x="31.46" y="174.62" width="6.13" height="26.58" fill="#6699FF" stroke="#000" stroke-opacity="0.8" stroke-width="0.6"/>
<rect x="31.46" y="171.66" width="6.13" height="2.96" fill="#FF9933" stroke="#000" stroke-opacity="0.8" stroke-width="0.6"/>
<rect x="31.46" y="167.79" width="6.13" height="3.87" fill="#FF0066" stroke="#000" stroke-opacity="0.8" stroke-width="0.6"/>
<rect x="31.46" y="164.37" width="6.13" height="3.42" fill="#33CC66" stroke="#000" stroke-opacity="0.8" stroke-width="0.6"/>
<rect x="41.68" y="174.28" width="6.13" height="26.92" fill="#6699FF" stroke="#000" stroke-opacity="0.8" stroke-width="0.6"/>
<rect x="41.68" y="170.86" width="6.13" height="3.42" fill="#FF9933" stroke="#000" stroke-opacity="0.8" stroke-width="0.6"/>
<rect x="41.68" y="165.17" width="6.13" height="5.69" fill="#FF0066" stroke="#000" stroke-opacity="0.8" stroke-width="0.6"/>
<rect x="41.68" y="161.18" width="6.13" height="3.99" fill="#33CC66" stroke="#000" stroke-opacity="0.8" stroke-width="0.6"/>
<rect x="51.9" y="163.46" width="6.13" height="37.74" fill="#6699FF" stroke="#000" stroke-opacity="0.8" stroke-width="0.6"/>
<rect x="51.9" y="159.81" width="6.13" height="3.65" fill="#FF9933" stroke="#000" stroke-opacity="0.8" stroke-width="0.6"/>
<rect x="51.9" y="152.07" width="6.13" height="7.74" fill="#FF0066" stroke="#000" stroke-opacity="0.8" stroke-width="0.6"/>
<rect x="51.9" y="147.28" width="6.13" height="4.79" fill="#33CC66" stroke="#000" stroke-opacity="0.8" stroke-width="0.6"/>
<rect x="62.12" y="165.74" width="6.13" height="35.46" fill="#6699FF" stroke="#000" stroke-opacity="0.8" stroke-width="0.6"/>
<rect x="62.12" y="161.75" width="6.13" height="3.99" fill="#FF9933" stroke="#000" stroke-opacity="0.8" stroke-width="0.6"/>
<rect x="62.12" y="154.12" width="6.13" height="7.63" fill="#FF0066" stroke="#000" stroke-opacity="0.8" stroke-width="0.6"/>
<rect x="62.12" y="149.45" width="6.13" height="4.67" fill="#33CC66" stroke="#000" stroke-opacity="0.8" stroke-width="0.6"/>
<rect x="72.34" y="164.83" width="6.13" height="36.37" fill="#6699FF" stroke="#000" stroke-opacity="0.8" stroke-width="0.6"/>
<rect x="72.34" y="160.61" width="6.13" height="4.22" fill="#FF9933" stroke="#000" stroke-opacity="0.8" stroke-width="0.6"/>
<rect x="72.34" y="152.41" width="6.13" height="8.2" fill="#FF0066" stroke="#000" stroke-opacity="0.8" stroke-width="0.6"/>
<rect x="72.34" y="147.51" width="6.13" height="4.9" fill="#33CC66" stroke="#000" stroke-opacity="0.8" stroke-width="0.6"/>
<rect x="82.56" y="164.6" width="6.13" height="36.6" fill="#6699FF" stroke="#000" stroke-opacity="0.8" stroke-width="0.6"/>
<rect x="82.56" y="160.61" width="6.13" height="3.99" fill="#FF9933" stroke="#000" stroke-opacity="0.8" stroke-width="0.6"/>
<rect x="82.56" y="151.15" width="6.13" height="9.46" fill="#FF0066" stroke="#000" stroke-opacity="0.8" stroke-width="0.6"/>
<rect x="82.56" y="145.23" width="6.13" height="5.92" fill="#33CC66" stroke="#000" stroke-opacity="0.8" stroke-width="0.6"/>
<rect x="92.78" y="165.51" width="6.13" height="35.69" fill="#6699FF" stroke="#000" stroke-opacity="0.8" stroke-width="0.6"/>
<rect x="92.78" y="161.75" width="6.13" height="3.76" fill="#FF9933" stroke="#000" stroke-opacity="0.8" stroke-width="0.6"/>
<rect x="92.78" y="152.07" width="6.13" height="9.68" fill="#FF0066" stroke="#000" stroke-opacity="0.8" stroke-width="0.6"/>
<rect x="92.78" y="145.23" width="6.13" height="6.84" fill="#33CC66" stroke="#000" stroke-opacity="0.8" stroke-width="0.6"/>
<rect x="103" y="188.52" width="6.13" height="12.68" fill="#6699FF" stroke="#000" stroke-opacity="0.8" stroke-width="0.6"/>
<rect x="103" y="183.97" width="6.13" height="4.55" fill="#FF9933" stroke="#000" stroke-opacity="0.8" stroke-width="0.6"/>
<rect x="103" y="172.35" width="6.13" height="11.62" fill="#FF0066" stroke="#000" stroke-opacity="0.8" stroke-width="0.6"/>
<rect x="103" y="165.51" width="6.13" height="6.84" fill="#33CC66" stroke="#000" stroke-opacity="0.8" stroke-width="0.6"/>
<rect x="113.23" y="188.3" width="6.13" height="12.9" fill="#6699FF" stroke="#000" stroke-opacity="0.8" stroke-width="0.6"/>
<rect x="113.23" y="183.4" width="6.13" height="4.9" fill="#FF9933" stroke="#000" stroke-opacity="0.8" stroke-width="0.6"/>
<rect x="113.23" y="170.64" width="6.13" height="12.76" fill="#FF0066" stroke="#000" stroke-opacity="0.8" stroke-width="0.6"/>
<rect x="113.23" y="162.32" width="6.13" height="8.32" fill="#33CC66" stroke="#000" stroke-opacity="0.8" stroke-width="0.6"/>
<rect x="123.45" y="187.61" width="6.13" height="13.59" fill="#6699FF" stroke="#000" stroke-opacity="0.8" stroke-width="0.6"/>
<rect x="123.45" y="183.97" width="6.13" height="3.64" fill="#FF9933" stroke="#000" stroke-opacity="0.8" stroke-width="0.6"/>
<rect x="123.45" y="171.21" width="6.13" height="12.76" fill="#FF0066" stroke="#000" stroke-opacity="0.8" stroke-width="0.6"/>
<rect x="123.45" y="161.41" width="6.13" height="9.8" fill="#33CC66" stroke="#000" stroke-opacity="0.8" stroke-width="0.6"/>
<rect x="133.67" y="188.18" width="6.13" height="13.02" fill="#6699FF" stroke="#000" stroke-opacity="0.8" stroke-width="0.6"/>
<rect x="133.67" y="184.31" width="6.13" height="3.87" fill="#FF9933" stroke="#000" stroke-opacity="0.8" stroke-width="0.6"/>
<rect x="133.67" y="171.66" width="6.13" height="12.65" fill="#FF0066" stroke="#000" stroke-opacity="0.8" stroke-width="0.6"/>
<rect x="133.67" y="162.32" width="6.13" height="9.34" fill="#33CC66" stroke="#000" stroke-opacity="0.8" stroke-width="0.6"/>
<rect x="143.89" y="192.85" width="6.13" height="8.35" fill="#6699FF" stroke="#000" stroke-opacity="0.8" stroke-width="0.6"/>
<rect x="143.89" y="189.44" width="6.13" height="3.41" fill="#FF9933" stroke="#000" stroke-opacity="0.8" stroke-width="0.6"/>
<rect x="143.89" y="176.33" width="6.13" height="13.11" fill="#FF0066" stroke="#000" stroke-opacity="0.8" stroke-width="0.6"/>
<rect x="143.89" y="166.65" width="6.13" height="9.68" fill="#33CC66" stroke="#000" stroke-opacity="0.8" stroke-width="0.6"/>
<rect x="154.11" y="194.79" width="6.13" height="6.41" fill="#6699FF" stroke="#000" stroke-opacity="0.8" stroke-width="0.6"/>
<rect x="154.11" y="192.74" width="6.13" height="2.05" fill="#FF9933" stroke="#000" stroke-opacity="0.8" stroke-width="0.6"/>
<rect x="154.11" y="179.41" width="6.13" height="13.33" fill="#FF0066" stroke="#000" stroke-opacity="0.8" stroke-width="0.6"/>
<rect x="154.11" y="167.45" width="6.13" height="11.96" fill="#33CC66" stroke="#000" stroke-opacity="0.8" stroke-width="0.6"/>
<line x1="34.52" y1="201.2" x2="34.52" y2="196.9" stroke="#111" stroke-width="0.9"/>
<line x1="54.96" y1="201.2" x2="54.96" y2="196.9" stroke="#111" stroke-width="0.9"/>
<line x1="75.41" y1="201.2" x2="75.41" y2="196.9" stroke="#111" stroke-width="0.9"/>
<line x1="95.85" y1="201.2" x2="95.85" y2="196.9" stroke="#111" stroke-width="0.9"/>
<line x1="116.29" y1="201.2" x2="116.29" y2="196.9" stroke="#111" stroke-width="0.9"/>
<line x1="136.74" y1="201.2" x2="136.74" y2="196.9" stroke="#111" stroke-width="0.9"/>
<line x1="157.18" y1="201.2" x2="157.18" y2="196.9" stroke="#111" stroke-width="0.9"/>
<rect x="24.3" y="128.5" width="143.1" height="72.7" fill="none" stroke="#888" stroke-width="1"/>
<line x1="24.3" y1="201.2" x2="28.7" y2="201.2" stroke="#111" stroke-width="1"/>
<text x="21.7" y="205.2" font-size="10.3" text-anchor="end">0</text>
<line x1="24.3" y1="183.02" x2="26.9" y2="183.02" stroke="#111" stroke-width="1"/>
<line x1="24.3" y1="164.85" x2="28.7" y2="164.85" stroke="#111" stroke-width="1"/>
<text x="21.7" y="168.85" font-size="10.3" text-anchor="end">20</text>
<line x1="24.3" y1="146.68" x2="26.9" y2="146.68" stroke="#111" stroke-width="1"/>
<text x="21.7" y="132.5" font-size="10.3" text-anchor="end">40</text>
<line x1="23.8" y1="201.2" x2="167.9" y2="201.2" stroke="#333" stroke-width="1"/>
<line x1="24.3" y1="128" x2="24.3" y2="201.7" stroke="#333" stroke-width="1"/>
<text x="34.52" y="212.8" font-size="10.1" text-anchor="middle">2008</text>
<text x="75.41" y="212.8" font-size="10.1" text-anchor="middle">2012</text>
<text x="116.29" y="212.8" font-size="10.1" text-anchor="middle">2016</text>
<text x="157.18" y="212.8" font-size="10.1" text-anchor="middle">2020</text>
<text x="9.5" y="164.85" font-size="10" text-anchor="middle" transform="rotate(-90 9.5 164.85)">Index</text>
<text x="89.2" y="125.7" font-size="16.7" text-anchor="middle">Dalian</text>
<rect x="196.6" y="128.5" width="143" height="72.7" fill="#CCFFCC"/>
<rect x="203.75" y="169.84" width="6.13" height="31.36" fill="#6699FF" stroke="#000" stroke-opacity="0.8" stroke-width="0.6"/>
<rect x="203.75" y="168.02" width="6.13" height="1.82" fill="#FF9933" stroke="#000" stroke-opacity="0.8" stroke-width="0.6"/>
<rect x="203.75" y="167.1" width="6.13" height="0.92" fill="#FF0066" stroke="#000" stroke-opacity="0.8" stroke-width="0.6"/>
<rect x="203.75" y="161.18" width="6.13" height="5.92" fill="#33CC66" stroke="#000" stroke-opacity="0.8" stroke-width="0.6"/>
<rect x="213.96" y="176.56" width="6.13" height="24.64" fill="#6699FF" stroke="#000" stroke-opacity="0.8" stroke-width="0.6"/>
<rect x="213.96" y="173.49" width="6.13" height="3.07" fill="#FF9933" stroke="#000" stroke-opacity="0.8" stroke-width="0.6"/>
<rect x="213.96" y="171.21" width="6.13" height="2.28" fill="#FF0066" stroke="#000" stroke-opacity="0.8" stroke-width="0.6"/>
<rect x="213.96" y="165.4" width="6.13" height="5.81" fill="#33CC66" stroke="#000" stroke-opacity="0.8" stroke-width="0.6"/>
<rect x="224.18" y="173.94" width="6.13" height="27.26" fill="#6699FF" stroke="#000" stroke-opacity="0.8" stroke-width="0.6"/>
<rect x="224.18" y="170.29" width="6.13" height="3.65" fill="#FF9933" stroke="#000" stroke-opacity="0.8" stroke-width="0.6"/>
<rect x="224.18" y="166.54" width="6.13" height="3.75" fill="#FF0066" stroke="#000" stroke-opacity="0.8" stroke-width="0.6"/>
<rect x="224.18" y="159.7" width="6.13" height="6.84" fill="#33CC66" stroke="#000" stroke-opacity="0.8" stroke-width="0.6"/>
<rect x="234.39" y="172.92" width="6.13" height="28.28" fill="#6699FF" stroke="#000" stroke-opacity="0.8" stroke-width="0.6"/>
<rect x="234.39" y="168.36" width="6.13" height="4.56" fill="#FF9933" stroke="#000" stroke-opacity="0.8" stroke-width="0.6"/>
<rect x="234.39" y="164.37" width="6.13" height="3.99" fill="#FF0066" stroke="#000" stroke-opacity="0.8" stroke-width="0.6"/>
<rect x="234.39" y="157.42" width="6.13" height="6.95" fill="#33CC66" stroke="#000" stroke-opacity="0.8" stroke-width="0.6"/>
<rect x="244.61" y="175.08" width="6.13" height="26.12" fill="#6699FF" stroke="#000" stroke-opacity="0.8" stroke-width="0.6"/>
<rect x="244.61" y="169.73" width="6.13" height="5.35" fill="#FF9933" stroke="#000" stroke-opacity="0.8" stroke-width="0.6"/>
<rect x="244.61" y="165.4" width="6.13" height="4.33" fill="#FF0066" stroke="#000" stroke-opacity="0.8" stroke-width="0.6"/>
<rect x="244.61" y="158.22" width="6.13" height="7.18" fill="#33CC66" stroke="#000" stroke-opacity="0.8" stroke-width="0.6"/>
<rect x="254.82" y="175.08" width="6.13" height="26.12" fill="#6699FF" stroke="#000" stroke-opacity="0.8" stroke-width="0.6"/>
<rect x="254.82" y="169.5" width="6.13" height="5.58" fill="#FF9933" stroke="#000" stroke-opacity="0.8" stroke-width="0.6"/>
<rect x="254.82" y="164.37" width="6.13" height="5.13" fill="#FF0066" stroke="#000" stroke-opacity="0.8" stroke-width="0.6"/>
<rect x="254.82" y="157.42" width="6.13" height="6.95" fill="#33CC66" stroke="#000" stroke-opacity="0.8" stroke-width="0.6"/>
<rect x="265.04" y="174.62" width="6.13" height="26.58" fill="#6699FF" stroke="#000" stroke-opacity="0.8" stroke-width="0.6"/>
<rect x="265.04" y="168.7" width="6.13" height="5.92" fill="#FF9933" stroke="#000" stroke-opacity="0.8" stroke-width="0.6"/>
<rect x="265.04" y="162.66" width="6.13" height="6.04" fill="#FF0066" stroke="#000" stroke-opacity="0.8" stroke-width="0.6"/>
<rect x="265.04" y="154.57" width="6.13" height="8.09" fill="#33CC66" stroke="#000" stroke-opacity="0.8" stroke-width="0.6"/>
<rect x="275.25" y="175.65" width="6.13" height="25.55" fill="#6699FF" stroke="#000" stroke-opacity="0.8" stroke-width="0.6"/>
<rect x="275.25" y="169.95" width="6.13" height="5.7" fill="#FF9933" stroke="#000" stroke-opacity="0.8" stroke-width="0.6"/>
<rect x="275.25" y="163.46" width="6.13" height="6.49" fill="#FF0066" stroke="#000" stroke-opacity="0.8" stroke-width="0.6"/>
<rect x="275.25" y="155.48" width="6.13" height="7.98" fill="#33CC66" stroke="#000" stroke-opacity="0.8" stroke-width="0.6"/>
<rect x="285.46" y="176.33" width="6.13" height="24.87" fill="#6699FF" stroke="#000" stroke-opacity="0.8" stroke-width="0.6"/>
<rect x="285.46" y="170.52" width="6.13" height="5.81" fill="#FF9933" stroke="#000" stroke-opacity="0.8" stroke-width="0.6"/>
<rect x="285.46" y="164.03" width="6.13" height="6.49" fill="#FF0066" stroke="#000" stroke-opacity="0.8" stroke-width="0.6"/>
<rect x="285.46" y="155.14" width="6.13" height="8.89" fill="#33CC66" stroke="#000" stroke-opacity="0.8" stroke-width="0.6"/>
<rect x="295.68" y="177.24" width="6.13" height="23.96" fill="#6699FF" stroke="#000" stroke-opacity="0.8" stroke-width="0.6"/>
<rect x="295.68" y="171.09" width="6.13" height="6.15" fill="#FF9933" stroke="#000" stroke-opacity="0.8" stroke-width="0.6"/>
<rect x="295.68" y="164.6" width="6.13" height="6.49" fill="#FF0066" stroke="#000" stroke-opacity="0.8" stroke-width="0.6"/>
<rect x="295.68" y="154.34" width="6.13" height="10.26" fill="#33CC66" stroke="#000" stroke-opacity="0.8" stroke-width="0.6"/>
<rect x="305.89" y="174.05" width="6.13" height="27.15" fill="#6699FF" stroke="#000" stroke-opacity="0.8" stroke-width="0.6"/>
<rect x="305.89" y="168.81" width="6.13" height="5.24" fill="#FF9933" stroke="#000" stroke-opacity="0.8" stroke-width="0.6"/>
<rect x="305.89" y="162.55" width="6.13" height="6.26" fill="#FF0066" stroke="#000" stroke-opacity="0.8" stroke-width="0.6"/>
<rect x="305.89" y="152.29" width="6.13" height="10.26" fill="#33CC66" stroke="#000" stroke-opacity="0.8" stroke-width="0.6"/>
<rect x="316.11" y="176.79" width="6.13" height="24.41" fill="#6699FF" stroke="#000" stroke-opacity="0.8" stroke-width="0.6"/>
<rect x="316.11" y="172.92" width="6.13" height="3.87" fill="#FF9933" stroke="#000" stroke-opacity="0.8" stroke-width="0.6"/>
<rect x="316.11" y="165.97" width="6.13" height="6.95" fill="#FF0066" stroke="#000" stroke-opacity="0.8" stroke-width="0.6"/>
<rect x="316.11" y="155.48" width="6.13" height="10.49" fill="#33CC66" stroke="#000" stroke-opacity="0.8" stroke-width="0.6"/>
<rect x="326.32" y="179.07" width="6.13" height="22.13" fill="#6699FF" stroke="#000" stroke-opacity="0.8" stroke-width="0.6"/>
<rect x="326.32" y="175.65" width="6.13" height="3.42" fill="#FF9933" stroke="#000" stroke-opacity="0.8" stroke-width="0.6"/>
<rect x="326.32" y="168.7" width="6.13" height="6.95" fill="#FF0066" stroke="#000" stroke-opacity="0.8" stroke-width="0.6"/>
<rect x="326.32" y="154.91" width="6.13" height="13.79" fill="#33CC66" stroke="#000" stroke-opacity="0.8" stroke-width="0.6"/>
<line x1="206.81" y1="201.2" x2="206.81" y2="196.9" stroke="#111" stroke-width="0.9"/>
<line x1="227.24" y1="201.2" x2="227.24" y2="196.9" stroke="#111" stroke-width="0.9"/>
<line x1="247.67" y1="201.2" x2="247.67" y2="196.9" stroke="#111" stroke-width="0.9"/>
<line x1="268.1" y1="201.2" x2="268.1" y2="196.9" stroke="#111" stroke-width="0.9"/>
<line x1="288.53" y1="201.2" x2="288.53" y2="196.9" stroke="#111" stroke-width="0.9"/>
<line x1="308.96" y1="201.2" x2="308.96" y2="196.9" stroke="#111" stroke-width="0.9"/>
<line x1="329.39" y1="201.2" x2="329.39" y2="196.9" stroke="#111" stroke-width="0.9"/>
<rect x="196.6" y="128.5" width="143" height="72.7" fill="none" stroke="#888" stroke-width="1"/>
<line x1="196.6" y1="201.2" x2="201" y2="201.2" stroke="#111" stroke-width="1"/>
<text x="194" y="205.2" font-size="10.3" text-anchor="end">0</text>
<line x1="196.6" y1="183.02" x2="199.2" y2="183.02" stroke="#111" stroke-width="1"/>
<line x1="196.6" y1="164.85" x2="201" y2="164.85" stroke="#111" stroke-width="1"/>
<text x="194" y="168.85" font-size="10.3" text-anchor="end">20</text>
<line x1="196.6" y1="146.68" x2="199.2" y2="146.68" stroke="#111" stroke-width="1"/>
<text x="194" y="132.5" font-size="10.3" text-anchor="end">40</text>
<line x1="196.1" y1="201.2" x2="340.1" y2="201.2" stroke="#333" stroke-width="1"/>
<line x1="196.6" y1="128" x2="196.6" y2="201.7" stroke="#333" stroke-width="1"/>
<text x="206.81" y="212.8" font-size="10.1" text-anchor="middle">2008</text>
<text x="247.67" y="212.8" font-size="10.1" text-anchor="middle">2012</text>
<text x="288.53" y="212.8" font-size="10.1" text-anchor="middle">2016</text>
<text x="329.39" y="212.8" font-size="10.1" text-anchor="middle">2020</text>
<text x="181.8" y="164.85" font-size="10" text-anchor="middle" transform="rotate(-90 181.8 164.85)">Index</text>
<text x="264.5" y="125" font-size="16.7" text-anchor="middle">Ningbo</text>
<rect x="367.6" y="128.5" width="143.3" height="72.7" fill="#CCFFCC"/>
<rect x="374.76" y="173.03" width="6.14" height="28.17" fill="#6699FF" stroke="#000" stroke-opacity="0.8" stroke-width="0.6"/>
<rect x="374.76" y="171.09" width="6.14" height="1.94" fill="#FF9933" stroke="#000" stroke-opacity="0.8" stroke-width="0.6"/>
<rect x="374.76" y="169.16" width="6.14" height="1.93" fill="#FF0066" stroke="#000" stroke-opacity="0.8" stroke-width="0.6"/>
<rect x="374.76" y="160.04" width="6.14" height="9.12" fill="#33CC66" stroke="#000" stroke-opacity="0.8" stroke-width="0.6"/>
<rect x="385" y="178.27" width="6.14" height="22.93" fill="#6699FF" stroke="#000" stroke-opacity="0.8" stroke-width="0.6"/>
<rect x="385" y="175.99" width="6.14" height="2.28" fill="#FF9933" stroke="#000" stroke-opacity="0.8" stroke-width="0.6"/>
<rect x="385" y="172.12" width="6.14" height="3.87" fill="#FF0066" stroke="#000" stroke-opacity="0.8" stroke-width="0.6"/>
<rect x="385" y="162.89" width="6.14" height="9.23" fill="#33CC66" stroke="#000" stroke-opacity="0.8" stroke-width="0.6"/>
<rect x="395.24" y="178.27" width="6.14" height="22.93" fill="#6699FF" stroke="#000" stroke-opacity="0.8" stroke-width="0.6"/>
<rect x="395.24" y="175.99" width="6.14" height="2.28" fill="#FF9933" stroke="#000" stroke-opacity="0.8" stroke-width="0.6"/>
<rect x="395.24" y="171.89" width="6.14" height="4.1" fill="#FF0066" stroke="#000" stroke-opacity="0.8" stroke-width="0.6"/>
<rect x="395.24" y="161.18" width="6.14" height="10.71" fill="#33CC66" stroke="#000" stroke-opacity="0.8" stroke-width="0.6"/>
<rect x="405.47" y="179.98" width="6.14" height="21.22" fill="#6699FF" stroke="#000" stroke-opacity="0.8" stroke-width="0.6"/>
<rect x="405.47" y="176.56" width="6.14" height="3.42" fill="#FF9933" stroke="#000" stroke-opacity="0.8" stroke-width="0.6"/>
<rect x="405.47" y="172.35" width="6.14" height="4.21" fill="#FF0066" stroke="#000" stroke-opacity="0.8" stroke-width="0.6"/>
<rect x="405.47" y="161.75" width="6.14" height="10.6" fill="#33CC66" stroke="#000" stroke-opacity="0.8" stroke-width="0.6"/>
<rect x="415.71" y="180.78" width="6.14" height="20.42" fill="#6699FF" stroke="#000" stroke-opacity="0.8" stroke-width="0.6"/>
<rect x="415.71" y="176.79" width="6.14" height="3.99" fill="#FF9933" stroke="#000" stroke-opacity="0.8" stroke-width="0.6"/>
<rect x="415.71" y="172.35" width="6.14" height="4.44" fill="#FF0066" stroke="#000" stroke-opacity="0.8" stroke-width="0.6"/>
<rect x="415.71" y="160.5" width="6.14" height="11.85" fill="#33CC66" stroke="#000" stroke-opacity="0.8" stroke-width="0.6"/>
<rect x="425.94" y="180.55" width="6.14" height="20.65" fill="#6699FF" stroke="#000" stroke-opacity="0.8" stroke-width="0.6"/>
<rect x="425.94" y="174.97" width="6.14" height="5.58" fill="#FF9933" stroke="#000" stroke-opacity="0.8" stroke-width="0.6"/>
<rect x="425.94" y="170.29" width="6.14" height="4.68" fill="#FF0066" stroke="#000" stroke-opacity="0.8" stroke-width="0.6"/>
<rect x="425.94" y="157.31" width="6.14" height="12.98" fill="#33CC66" stroke="#000" stroke-opacity="0.8" stroke-width="0.6"/>
<rect x="436.18" y="181.69" width="6.14" height="19.51" fill="#6699FF" stroke="#000" stroke-opacity="0.8" stroke-width="0.6"/>
<rect x="436.18" y="175.99" width="6.14" height="5.7" fill="#FF9933" stroke="#000" stroke-opacity="0.8" stroke-width="0.6"/>
<rect x="436.18" y="171.21" width="6.14" height="4.78" fill="#FF0066" stroke="#000" stroke-opacity="0.8" stroke-width="0.6"/>
<rect x="436.18" y="157.31" width="6.14" height="13.9" fill="#33CC66" stroke="#000" stroke-opacity="0.8" stroke-width="0.6"/>
<rect x="446.41" y="181.92" width="6.14" height="19.28" fill="#6699FF" stroke="#000" stroke-opacity="0.8" stroke-width="0.6"/>
<rect x="446.41" y="176.22" width="6.14" height="5.7" fill="#FF9933" stroke="#000" stroke-opacity="0.8" stroke-width="0.6"/>
<rect x="446.41" y="171.43" width="6.14" height="4.79" fill="#FF0066" stroke="#000" stroke-opacity="0.8" stroke-width="0.6"/>
<rect x="446.41" y="156.4" width="6.14" height="15.03" fill="#33CC66" stroke="#000" stroke-opacity="0.8" stroke-width="0.6"/>
<rect x="456.65" y="182.49" width="6.14" height="18.71" fill="#6699FF" stroke="#000" stroke-opacity="0.8" stroke-width="0.6"/>
<rect x="456.65" y="175.76" width="6.14" height="6.73" fill="#FF9933" stroke="#000" stroke-opacity="0.8" stroke-width="0.6"/>
<rect x="456.65" y="170.52" width="6.14" height="5.24" fill="#FF0066" stroke="#000" stroke-opacity="0.8" stroke-width="0.6"/>
<rect x="456.65" y="154.34" width="6.14" height="16.18" fill="#33CC66" stroke="#000" stroke-opacity="0.8" stroke-width="0.6"/>
<rect x="466.89" y="183.4" width="6.14" height="17.8" fill="#6699FF" stroke="#000" stroke-opacity="0.8" stroke-width="0.6"/>
<rect x="466.89" y="176.79" width="6.14" height="6.61" fill="#FF9933" stroke="#000" stroke-opacity="0.8" stroke-width="0.6"/>
<rect x="466.89" y="171.43" width="6.14" height="5.36" fill="#FF0066" stroke="#000" stroke-opacity="0.8" stroke-width="0.6"/>
<rect x="466.89" y="155.26" width="6.14" height="16.17" fill="#33CC66" stroke="#000" stroke-opacity="0.8" stroke-width="0.6"/>
<rect x="477.12" y="185.56" width="6.14" height="15.64" fill="#6699FF" stroke="#000" stroke-opacity="0.8" stroke-width="0.6"/>
<rect x="477.12" y="178.27" width="6.14" height="7.29" fill="#FF9933" stroke="#000" stroke-opacity="0.8" stroke-width="0.6"/>
<rect x="477.12" y="173.03" width="6.14" height="5.24" fill="#FF0066" stroke="#000" stroke-opacity="0.8" stroke-width="0.6"/>
<rect x="477.12" y="156.62" width="6.14" height="16.41" fill="#33CC66" stroke="#000" stroke-opacity="0.8" stroke-width="0.6"/>
<rect x="487.36" y="186.47" width="6.14" height="14.73" fill="#6699FF" stroke="#000" stroke-opacity="0.8" stroke-width="0.6"/>
<rect x="487.36" y="176.79" width="6.14" height="9.68" fill="#FF9933" stroke="#000" stroke-opacity="0.8" stroke-width="0.6"/>
<rect x="487.36" y="171.78" width="6.14" height="5.01" fill="#FF0066" stroke="#000" stroke-opacity="0.8" stroke-width="0.6"/>
<rect x="487.36" y="154.34" width="6.14" height="17.44" fill="#33CC66" stroke="#000" stroke-opacity="0.8" stroke-width="0.6"/>
<rect x="497.59" y="185.11" width="6.14" height="16.09" fill="#6699FF" stroke="#000" stroke-opacity="0.8" stroke-width="0.6"/>
<rect x="497.59" y="179.64" width="6.14" height="5.47" fill="#FF9933" stroke="#000" stroke-opacity="0.8" stroke-width="0.6"/>
<rect x="497.59" y="174.28" width="6.14" height="5.36" fill="#FF0066" stroke="#000" stroke-opacity="0.8" stroke-width="0.6"/>
<rect x="497.59" y="154.69" width="6.14" height="19.59" fill="#33CC66" stroke="#000" stroke-opacity="0.8" stroke-width="0.6"/>
<line x1="377.84" y1="201.2" x2="377.84" y2="196.9" stroke="#111" stroke-width="0.9"/>
<line x1="398.31" y1="201.2" x2="398.31" y2="196.9" stroke="#111" stroke-width="0.9"/>
<line x1="418.78" y1="201.2" x2="418.78" y2="196.9" stroke="#111" stroke-width="0.9"/>
<line x1="439.25" y1="201.2" x2="439.25" y2="196.9" stroke="#111" stroke-width="0.9"/>
<line x1="459.72" y1="201.2" x2="459.72" y2="196.9" stroke="#111" stroke-width="0.9"/>
<line x1="480.19" y1="201.2" x2="480.19" y2="196.9" stroke="#111" stroke-width="0.9"/>
<line x1="500.66" y1="201.2" x2="500.66" y2="196.9" stroke="#111" stroke-width="0.9"/>
<rect x="367.6" y="128.5" width="143.3" height="72.7" fill="none" stroke="#888" stroke-width="1"/>
<line x1="367.6" y1="201.2" x2="372" y2="201.2" stroke="#111" stroke-width="1"/>
<text x="365" y="205.2" font-size="10.3" text-anchor="end">0</text>
<line x1="367.6" y1="183.02" x2="370.2" y2="183.02" stroke="#111" stroke-width="1"/>
<line x1="367.6" y1="164.85" x2="372" y2="164.85" stroke="#111" stroke-width="1"/>
<text x="365" y="168.85" font-size="10.3" text-anchor="end">20</text>
<line x1="367.6" y1="146.68" x2="370.2" y2="146.68" stroke="#111" stroke-width="1"/>
<text x="365" y="132.5" font-size="10.3" text-anchor="end">40</text>
<line x1="367.1" y1="201.2" x2="511.4" y2="201.2" stroke="#333" stroke-width="1"/>
<line x1="367.6" y1="128" x2="367.6" y2="201.7" stroke="#333" stroke-width="1"/>
<text x="377.84" y="212.8" font-size="10.1" text-anchor="middle">2008</text>
<text x="418.78" y="212.8" font-size="10.1" text-anchor="middle">2012</text>
<text x="459.72" y="212.8" font-size="10.1" text-anchor="middle">2016</text>
<text x="500.66" y="212.8" font-size="10.1" text-anchor="middle">2020</text>
<text x="352.8" y="164.85" font-size="10" text-anchor="middle" transform="rotate(-90 352.8 164.85)">Index</text>
<text x="442" y="125" font-size="16.7" text-anchor="middle">Xiamen</text>
<rect x="539.6" y="128.5" width="143" height="72.7" fill="#CCFFCC"/>
<rect x="546.75" y="184.88" width="6.13" height="16.32" fill="#6699FF" stroke="#000" stroke-opacity="0.8" stroke-width="0.6"/>
<rect x="546.75" y="183.28" width="6.13" height="1.6" fill="#FF9933" stroke="#000" stroke-opacity="0.8" stroke-width="0.6"/>
<rect x="546.75" y="181.92" width="6.13" height="1.36" fill="#FF0066" stroke="#000" stroke-opacity="0.8" stroke-width="0.6"/>
<rect x="546.75" y="177.13" width="6.13" height="4.79" fill="#33CC66" stroke="#000" stroke-opacity="0.8" stroke-width="0.6"/>
<rect x="556.96" y="189.32" width="6.13" height="11.88" fill="#6699FF" stroke="#000" stroke-opacity="0.8" stroke-width="0.6"/>
<rect x="556.96" y="187.04" width="6.13" height="2.28" fill="#FF9933" stroke="#000" stroke-opacity="0.8" stroke-width="0.6"/>
<rect x="556.96" y="184.88" width="6.13" height="2.16" fill="#FF0066" stroke="#000" stroke-opacity="0.8" stroke-width="0.6"/>
<rect x="556.96" y="180.21" width="6.13" height="4.67" fill="#33CC66" stroke="#000" stroke-opacity="0.8" stroke-width="0.6"/>
<rect x="567.18" y="186.82" width="6.13" height="14.38" fill="#6699FF" stroke="#000" stroke-opacity="0.8" stroke-width="0.6"/>
<rect x="567.18" y="184.88" width="6.13" height="1.94" fill="#FF9933" stroke="#000" stroke-opacity="0.8" stroke-width="0.6"/>
<rect x="567.18" y="180.78" width="6.13" height="4.1" fill="#FF0066" stroke="#000" stroke-opacity="0.8" stroke-width="0.6"/>
<rect x="567.18" y="176.22" width="6.13" height="4.56" fill="#33CC66" stroke="#000" stroke-opacity="0.8" stroke-width="0.6"/>
<rect x="577.39" y="185.68" width="6.13" height="15.52" fill="#6699FF" stroke="#000" stroke-opacity="0.8" stroke-width="0.6"/>
<rect x="577.39" y="182.83" width="6.13" height="2.85" fill="#FF9933" stroke="#000" stroke-opacity="0.8" stroke-width="0.6"/>
<rect x="577.39" y="178.84" width="6.13" height="3.99" fill="#FF0066" stroke="#000" stroke-opacity="0.8" stroke-width="0.6"/>
<rect x="577.39" y="174.05" width="6.13" height="4.79" fill="#33CC66" stroke="#000" stroke-opacity="0.8" stroke-width="0.6"/>
<rect x="587.61" y="184.88" width="6.13" height="16.32" fill="#6699FF" stroke="#000" stroke-opacity="0.8" stroke-width="0.6"/>
<rect x="587.61" y="182.14" width="6.13" height="2.74" fill="#FF9933" stroke="#000" stroke-opacity="0.8" stroke-width="0.6"/>
<rect x="587.61" y="177.13" width="6.13" height="5.01" fill="#FF0066" stroke="#000" stroke-opacity="0.8" stroke-width="0.6"/>
<rect x="587.61" y="171.21" width="6.13" height="5.92" fill="#33CC66" stroke="#000" stroke-opacity="0.8" stroke-width="0.6"/>
<rect x="597.82" y="184.54" width="6.13" height="16.66" fill="#6699FF" stroke="#000" stroke-opacity="0.8" stroke-width="0.6"/>
<rect x="597.82" y="181.92" width="6.13" height="2.62" fill="#FF9933" stroke="#000" stroke-opacity="0.8" stroke-width="0.6"/>
<rect x="597.82" y="171.43" width="6.13" height="10.49" fill="#FF0066" stroke="#000" stroke-opacity="0.8" stroke-width="0.6"/>
<rect x="597.82" y="165.51" width="6.13" height="5.92" fill="#33CC66" stroke="#000" stroke-opacity="0.8" stroke-width="0.6"/>
<rect x="608.04" y="183.97" width="6.13" height="17.23" fill="#6699FF" stroke="#000" stroke-opacity="0.8" stroke-width="0.6"/>
<rect x="608.04" y="181.69" width="6.13" height="2.28" fill="#FF9933" stroke="#000" stroke-opacity="0.8" stroke-width="0.6"/>
<rect x="608.04" y="170.29" width="6.13" height="11.4" fill="#FF0066" stroke="#000" stroke-opacity="0.8" stroke-width="0.6"/>
<rect x="608.04" y="163.46" width="6.13" height="6.83" fill="#33CC66" stroke="#000" stroke-opacity="0.8" stroke-width="0.6"/>
<rect x="618.25" y="183.63" width="6.13" height="17.57" fill="#6699FF" stroke="#000" stroke-opacity="0.8" stroke-width="0.6"/>
<rect x="618.25" y="181.23" width="6.13" height="2.4" fill="#FF9933" stroke="#000" stroke-opacity="0.8" stroke-width="0.6"/>
<rect x="618.25" y="169.38" width="6.13" height="11.85" fill="#FF0066" stroke="#000" stroke-opacity="0.8" stroke-width="0.6"/>
<rect x="618.25" y="162.32" width="6.13" height="7.06" fill="#33CC66" stroke="#000" stroke-opacity="0.8" stroke-width="0.6"/>
<rect x="628.46" y="183.63" width="6.13" height="17.57" fill="#6699FF" stroke="#000" stroke-opacity="0.8" stroke-width="0.6"/>
<rect x="628.46" y="180.89" width="6.13" height="2.74" fill="#FF9933" stroke="#000" stroke-opacity="0.8" stroke-width="0.6"/>
<rect x="628.46" y="168.24" width="6.13" height="12.65" fill="#FF0066" stroke="#000" stroke-opacity="0.8" stroke-width="0.6"/>
<rect x="628.46" y="160.04" width="6.13" height="8.2" fill="#33CC66" stroke="#000" stroke-opacity="0.8" stroke-width="0.6"/>
<rect x="638.68" y="183.06" width="6.13" height="18.14" fill="#6699FF" stroke="#000" stroke-opacity="0.8" stroke-width="0.6"/>
<rect x="638.68" y="180.55" width="6.13" height="2.51" fill="#FF9933" stroke="#000" stroke-opacity="0.8" stroke-width="0.6"/>
<rect x="638.68" y="167.45" width="6.13" height="13.1" fill="#FF0066" stroke="#000" stroke-opacity="0.8" stroke-width="0.6"/>
<rect x="638.68" y="159.47" width="6.13" height="7.98" fill="#33CC66" stroke="#000" stroke-opacity="0.8" stroke-width="0.6"/>
<rect x="648.89" y="181.92" width="6.13" height="19.28" fill="#6699FF" stroke="#000" stroke-opacity="0.8" stroke-width="0.6"/>
<rect x="648.89" y="178.84" width="6.13" height="3.08" fill="#FF9933" stroke="#000" stroke-opacity="0.8" stroke-width="0.6"/>
<rect x="648.89" y="166.08" width="6.13" height="12.76" fill="#FF0066" stroke="#000" stroke-opacity="0.8" stroke-width="0.6"/>
<rect x="648.89" y="156.4" width="6.13" height="9.68" fill="#33CC66" stroke="#000" stroke-opacity="0.8" stroke-width="0.6"/>
<rect x="659.11" y="185.11" width="6.13" height="16.09" fill="#6699FF" stroke="#000" stroke-opacity="0.8" stroke-width="0.6"/>
<rect x="659.11" y="181.46" width="6.13" height="3.65" fill="#FF9933" stroke="#000" stroke-opacity="0.8" stroke-width="0.6"/>
<rect x="659.11" y="168.59" width="6.13" height="12.87" fill="#FF0066" stroke="#000" stroke-opacity="0.8" stroke-width="0.6"/>
<rect x="659.11" y="155.48" width="6.13" height="13.11" fill="#33CC66" stroke="#000" stroke-opacity="0.8" stroke-width="0.6"/>
<rect x="669.32" y="185.68" width="6.13" height="15.52" fill="#6699FF" stroke="#000" stroke-opacity="0.8" stroke-width="0.6"/>
<rect x="669.32" y="182.83" width="6.13" height="2.85" fill="#FF9933" stroke="#000" stroke-opacity="0.8" stroke-width="0.6"/>
<rect x="669.32" y="169.73" width="6.13" height="13.1" fill="#FF0066" stroke="#000" stroke-opacity="0.8" stroke-width="0.6"/>
<rect x="669.32" y="155.71" width="6.13" height="14.02" fill="#33CC66" stroke="#000" stroke-opacity="0.8" stroke-width="0.6"/>
<line x1="549.81" y1="201.2" x2="549.81" y2="196.9" stroke="#111" stroke-width="0.9"/>
<line x1="570.24" y1="201.2" x2="570.24" y2="196.9" stroke="#111" stroke-width="0.9"/>
<line x1="590.67" y1="201.2" x2="590.67" y2="196.9" stroke="#111" stroke-width="0.9"/>
<line x1="611.1" y1="201.2" x2="611.1" y2="196.9" stroke="#111" stroke-width="0.9"/>
<line x1="631.53" y1="201.2" x2="631.53" y2="196.9" stroke="#111" stroke-width="0.9"/>
<line x1="651.96" y1="201.2" x2="651.96" y2="196.9" stroke="#111" stroke-width="0.9"/>
<line x1="672.39" y1="201.2" x2="672.39" y2="196.9" stroke="#111" stroke-width="0.9"/>
<rect x="539.6" y="128.5" width="143" height="72.7" fill="none" stroke="#888" stroke-width="1"/>
<line x1="539.6" y1="201.2" x2="544" y2="201.2" stroke="#111" stroke-width="1"/>
<text x="537" y="205.2" font-size="10.3" text-anchor="end">0</text>
<line x1="539.6" y1="183.02" x2="542.2" y2="183.02" stroke="#111" stroke-width="1"/>
<line x1="539.6" y1="164.85" x2="544" y2="164.85" stroke="#111" stroke-width="1"/>
<text x="537" y="168.85" font-size="10.3" text-anchor="end">20</text>
<line x1="539.6" y1="146.68" x2="542.2" y2="146.68" stroke="#111" stroke-width="1"/>
<text x="537" y="132.5" font-size="10.3" text-anchor="end">40</text>
<line x1="539.1" y1="201.2" x2="683.1" y2="201.2" stroke="#333" stroke-width="1"/>
<line x1="539.6" y1="128" x2="539.6" y2="201.7" stroke="#333" stroke-width="1"/>
<text x="549.81" y="212.8" font-size="10.1" text-anchor="middle">2008</text>
<text x="590.67" y="212.8" font-size="10.1" text-anchor="middle">2012</text>
<text x="631.53" y="212.8" font-size="10.1" text-anchor="middle">2016</text>
<text x="672.39" y="212.8" font-size="10.1" text-anchor="middle">2020</text>
<text x="524.8" y="164.85" font-size="10" text-anchor="middle" transform="rotate(-90 524.8 164.85)">Index</text>
<text x="613.4" y="125" font-size="16.7" text-anchor="middle">Qingdao</text>
<rect x="24.3" y="241.4" width="143.1" height="73" fill="#CCFFCC"/>
<rect x="31.46" y="278.74" width="6.13" height="35.66" fill="#6699FF" stroke="#000" stroke-opacity="0.8" stroke-width="0.6"/>
<rect x="31.46" y="275.55" width="6.13" height="3.19" fill="#FF9933" stroke="#000" stroke-opacity="0.8" stroke-width="0.6"/>
<rect x="31.46" y="275.21" width="6.13" height="0.34" fill="#FF0066" stroke="#000" stroke-opacity="0.8" stroke-width="0.6"/>
<rect x="31.46" y="273.27" width="6.13" height="1.94" fill="#33CC66" stroke="#000" stroke-opacity="0.8" stroke-width="0.6"/>
<rect x="41.68" y="285.23" width="6.13" height="29.17" fill="#6699FF" stroke="#000" stroke-opacity="0.8" stroke-width="0.6"/>
<rect x="41.68" y="281.93" width="6.13" height="3.3" fill="#FF9933" stroke="#000" stroke-opacity="0.8" stroke-width="0.6"/>
<rect x="41.68" y="281.47" width="6.13" height="0.46" fill="#FF0066" stroke="#000" stroke-opacity="0.8" stroke-width="0.6"/>
<rect x="41.68" y="279.54" width="6.13" height="1.93" fill="#33CC66" stroke="#000" stroke-opacity="0.8" stroke-width="0.6"/>
<rect x="51.9" y="287.28" width="6.13" height="27.12" fill="#6699FF" stroke="#000" stroke-opacity="0.8" stroke-width="0.6"/>
<rect x="51.9" y="284.09" width="6.13" height="3.19" fill="#FF9933" stroke="#000" stroke-opacity="0.8" stroke-width="0.6"/>
<rect x="51.9" y="283.64" width="6.13" height="0.45" fill="#FF0066" stroke="#000" stroke-opacity="0.8" stroke-width="0.6"/>
<rect x="51.9" y="281.81" width="6.13" height="1.83" fill="#33CC66" stroke="#000" stroke-opacity="0.8" stroke-width="0.6"/>
<rect x="62.12" y="288.65" width="6.13" height="25.75" fill="#6699FF" stroke="#000" stroke-opacity="0.8" stroke-width="0.6"/>
<rect x="62.12" y="285.92" width="6.13" height="2.73" fill="#FF9933" stroke="#000" stroke-opacity="0.8" stroke-width="0.6"/>
<rect x="62.12" y="285.46" width="6.13" height="0.46" fill="#FF0066" stroke="#000" stroke-opacity="0.8" stroke-width="0.6"/>
<rect x="62.12" y="283.29" width="6.13" height="2.17" fill="#33CC66" stroke="#000" stroke-opacity="0.8" stroke-width="0.6"/>
<rect x="72.34" y="292.41" width="6.13" height="21.99" fill="#6699FF" stroke="#000" stroke-opacity="0.8" stroke-width="0.6"/>
<rect x="72.34" y="289.79" width="6.13" height="2.62" fill="#FF9933" stroke="#000" stroke-opacity="0.8" stroke-width="0.6"/>
<rect x="72.34" y="287.85" width="6.13" height="1.94" fill="#FF0066" stroke="#000" stroke-opacity="0.8" stroke-width="0.6"/>
<rect x="72.34" y="285.23" width="6.13" height="2.62" fill="#33CC66" stroke="#000" stroke-opacity="0.8" stroke-width="0.6"/>
<rect x="82.56" y="291.84" width="6.13" height="22.56" fill="#6699FF" stroke="#000" stroke-opacity="0.8" stroke-width="0.6"/>
<rect x="82.56" y="289.68" width="6.13" height="2.16" fill="#FF9933" stroke="#000" stroke-opacity="0.8" stroke-width="0.6"/>
<rect x="82.56" y="287.74" width="6.13" height="1.94" fill="#FF0066" stroke="#000" stroke-opacity="0.8" stroke-width="0.6"/>
<rect x="82.56" y="285" width="6.13" height="2.74" fill="#33CC66" stroke="#000" stroke-opacity="0.8" stroke-width="0.6"/>
<rect x="92.78" y="292.75" width="6.13" height="21.65" fill="#6699FF" stroke="#000" stroke-opacity="0.8" stroke-width="0.6"/>
<rect x="92.78" y="290.7" width="6.13" height="2.05" fill="#FF9933" stroke="#000" stroke-opacity="0.8" stroke-width="0.6"/>
<rect x="92.78" y="288.76" width="6.13" height="1.94" fill="#FF0066" stroke="#000" stroke-opacity="0.8" stroke-width="0.6"/>
<rect x="92.78" y="286.14" width="6.13" height="2.62" fill="#33CC66" stroke="#000" stroke-opacity="0.8" stroke-width="0.6"/>
<rect x="103" y="294.46" width="6.13" height="19.94" fill="#6699FF" stroke="#000" stroke-opacity="0.8" stroke-width="0.6"/>
<rect x="103" y="292.07" width="6.13" height="2.39" fill="#FF9933" stroke="#000" stroke-opacity="0.8" stroke-width="0.6"/>
<rect x="103" y="290.13" width="6.13" height="1.94" fill="#FF0066" stroke="#000" stroke-opacity="0.8" stroke-width="0.6"/>
<rect x="103" y="286.14" width="6.13" height="3.99" fill="#33CC66" stroke="#000" stroke-opacity="0.8" stroke-width="0.6"/>
<rect x="113.23" y="295.83" width="6.13" height="18.57" fill="#6699FF" stroke="#000" stroke-opacity="0.8" stroke-width="0.6"/>
<rect x="113.23" y="293.55" width="6.13" height="2.28" fill="#FF9933" stroke="#000" stroke-opacity="0.8" stroke-width="0.6"/>
<rect x="113.23" y="291.5" width="6.13" height="2.05" fill="#FF0066" stroke="#000" stroke-opacity="0.8" stroke-width="0.6"/>
<rect x="113.23" y="287.62" width="6.13" height="3.88" fill="#33CC66" stroke="#000" stroke-opacity="0.8" stroke-width="0.6"/>
<rect x="123.45" y="298.68" width="6.13" height="15.72" fill="#6699FF" stroke="#000" stroke-opacity="0.8" stroke-width="0.6"/>
<rect x="123.45" y="296.06" width="6.13" height="2.62" fill="#FF9933" stroke="#000" stroke-opacity="0.8" stroke-width="0.6"/>
<rect x="123.45" y="294.23" width="6.13" height="1.83" fill="#FF0066" stroke="#000" stroke-opacity="0.8" stroke-width="0.6"/>
<rect x="123.45" y="290.36" width="6.13" height="3.87" fill="#33CC66" stroke="#000" stroke-opacity="0.8" stroke-width="0.6"/>
<rect x="133.67" y="298.45" width="6.13" height="15.95" fill="#6699FF" stroke="#000" stroke-opacity="0.8" stroke-width="0.6"/>
<rect x="133.67" y="295.49" width="6.13" height="2.96" fill="#FF9933" stroke="#000" stroke-opacity="0.8" stroke-width="0.6"/>
<rect x="133.67" y="293.55" width="6.13" height="1.94" fill="#FF0066" stroke="#000" stroke-opacity="0.8" stroke-width="0.6"/>
<rect x="133.67" y="287.28" width="6.13" height="6.27" fill="#33CC66" stroke="#000" stroke-opacity="0.8" stroke-width="0.6"/>
<rect x="143.89" y="300.39" width="6.13" height="14.01" fill="#6699FF" stroke="#000" stroke-opacity="0.8" stroke-width="0.6"/>
<rect x="143.89" y="296.97" width="6.13" height="3.42" fill="#FF9933" stroke="#000" stroke-opacity="0.8" stroke-width="0.6"/>
<rect x="143.89" y="295.03" width="6.13" height="1.94" fill="#FF0066" stroke="#000" stroke-opacity="0.8" stroke-width="0.6"/>
<rect x="143.89" y="288.76" width="6.13" height="6.27" fill="#33CC66" stroke="#000" stroke-opacity="0.8" stroke-width="0.6"/>
<rect x="154.11" y="301.75" width="6.13" height="12.65" fill="#6699FF" stroke="#000" stroke-opacity="0.8" stroke-width="0.6"/>
<rect x="154.11" y="301.3" width="6.13" height="0.45" fill="#FF9933" stroke="#000" stroke-opacity="0.8" stroke-width="0.6"/>
<rect x="154.11" y="299.25" width="6.13" height="2.05" fill="#FF0066" stroke="#000" stroke-opacity="0.8" stroke-width="0.6"/>
<rect x="154.11" y="293.21" width="6.13" height="6.04" fill="#33CC66" stroke="#000" stroke-opacity="0.8" stroke-width="0.6"/>
<line x1="34.52" y1="314.4" x2="34.52" y2="310.1" stroke="#111" stroke-width="0.9"/>
<line x1="54.96" y1="314.4" x2="54.96" y2="310.1" stroke="#111" stroke-width="0.9"/>
<line x1="75.41" y1="314.4" x2="75.41" y2="310.1" stroke="#111" stroke-width="0.9"/>
<line x1="95.85" y1="314.4" x2="95.85" y2="310.1" stroke="#111" stroke-width="0.9"/>
<line x1="116.29" y1="314.4" x2="116.29" y2="310.1" stroke="#111" stroke-width="0.9"/>
<line x1="136.74" y1="314.4" x2="136.74" y2="310.1" stroke="#111" stroke-width="0.9"/>
<line x1="157.18" y1="314.4" x2="157.18" y2="310.1" stroke="#111" stroke-width="0.9"/>
<rect x="24.3" y="241.4" width="143.1" height="73" fill="none" stroke="#888" stroke-width="1"/>
<line x1="24.3" y1="314.4" x2="28.7" y2="314.4" stroke="#111" stroke-width="1"/>
<text x="21.7" y="318.4" font-size="10.3" text-anchor="end">0</text>
<line x1="24.3" y1="296.15" x2="26.9" y2="296.15" stroke="#111" stroke-width="1"/>
<line x1="24.3" y1="277.9" x2="28.7" y2="277.9" stroke="#111" stroke-width="1"/>
<text x="21.7" y="281.9" font-size="10.3" text-anchor="end">20</text>
<line x1="24.3" y1="259.65" x2="26.9" y2="259.65" stroke="#111" stroke-width="1"/>
<text x="21.7" y="245.4" font-size="10.3" text-anchor="end">40</text>
<line x1="23.8" y1="314.4" x2="167.9" y2="314.4" stroke="#333" stroke-width="1"/>
<line x1="24.3" y1="240.9" x2="24.3" y2="314.9" stroke="#333" stroke-width="1"/>
<text x="34.52" y="326" font-size="10.1" text-anchor="middle">2008</text>
<text x="75.41" y="326" font-size="10.1" text-anchor="middle">2012</text>
<text x="116.29" y="326" font-size="10.1" text-anchor="middle">2016</text>
<text x="157.18" y="326" font-size="10.1" text-anchor="middle">2020</text>
<text x="9.5" y="277.9" font-size="10" text-anchor="middle" transform="rotate(-90 9.5 277.9)">Index</text>
<text x="92.7" y="235.5" font-size="16.7" text-anchor="middle">Zhuhai</text>
<rect x="196.6" y="241.4" width="143" height="73" fill="#CCFFCC"/>
<rect x="203.75" y="306.08" width="6.13" height="8.32" fill="#6699FF" stroke="#000" stroke-opacity="0.8" stroke-width="0.6"/>
<rect x="203.75" y="304.03" width="6.13" height="2.05" fill="#FF9933" stroke="#000" stroke-opacity="0.8" stroke-width="0.6"/>
<rect x="203.75" y="302.09" width="6.13" height="1.94" fill="#FF0066" stroke="#000" stroke-opacity="0.8" stroke-width="0.6"/>
<rect x="203.75" y="298.33" width="6.13" height="3.76" fill="#33CC66" stroke="#000" stroke-opacity="0.8" stroke-width="0.6"/>
<rect x="213.96" y="307.45" width="6.13" height="6.95" fill="#6699FF" stroke="#000" stroke-opacity="0.8" stroke-width="0.6"/>
<rect x="213.96" y="304.94" width="6.13" height="2.51" fill="#FF9933" stroke="#000" stroke-opacity="0.8" stroke-width="0.6"/>
<rect x="213.96" y="301.3" width="6.13" height="3.64" fill="#FF0066" stroke="#000" stroke-opacity="0.8" stroke-width="0.6"/>
<rect x="213.96" y="297.31" width="6.13" height="3.99" fill="#33CC66" stroke="#000" stroke-opacity="0.8" stroke-width="0.6"/>
<rect x="224.18" y="306.99" width="6.13" height="7.41" fill="#6699FF" stroke="#000" stroke-opacity="0.8" stroke-width="0.6"/>
<rect x="224.18" y="304.71" width="6.13" height="2.28" fill="#FF9933" stroke="#000" stroke-opacity="0.8" stroke-width="0.6"/>
<rect x="224.18" y="300.84" width="6.13" height="3.87" fill="#FF0066" stroke="#000" stroke-opacity="0.8" stroke-width="0.6"/>
<rect x="224.18" y="296.06" width="6.13" height="4.78" fill="#33CC66" stroke="#000" stroke-opacity="0.8" stroke-width="0.6"/>
<rect x="234.39" y="306.65" width="6.13" height="7.75" fill="#6699FF" stroke="#000" stroke-opacity="0.8" stroke-width="0.6"/>
<rect x="234.39" y="302.66" width="6.13" height="3.99" fill="#FF9933" stroke="#000" stroke-opacity="0.8" stroke-width="0.6"/>
<rect x="234.39" y="298.79" width="6.13" height="3.87" fill="#FF0066" stroke="#000" stroke-opacity="0.8" stroke-width="0.6"/>
<rect x="234.39" y="293.78" width="6.13" height="5.01" fill="#33CC66" stroke="#000" stroke-opacity="0.8" stroke-width="0.6"/>
<rect x="244.61" y="308.02" width="6.13" height="6.38" fill="#6699FF" stroke="#000" stroke-opacity="0.8" stroke-width="0.6"/>
<rect x="244.61" y="303.01" width="6.13" height="5.01" fill="#FF9933" stroke="#000" stroke-opacity="0.8" stroke-width="0.6"/>
<rect x="244.61" y="299.25" width="6.13" height="3.76" fill="#FF0066" stroke="#000" stroke-opacity="0.8" stroke-width="0.6"/>
<rect x="244.61" y="294.23" width="6.13" height="5.02" fill="#33CC66" stroke="#000" stroke-opacity="0.8" stroke-width="0.6"/>
<rect x="254.82" y="308.59" width="6.13" height="5.81" fill="#6699FF" stroke="#000" stroke-opacity="0.8" stroke-width="0.6"/>
<rect x="254.82" y="303.8" width="6.13" height="4.79" fill="#FF9933" stroke="#000" stroke-opacity="0.8" stroke-width="0.6"/>
<rect x="254.82" y="298.9" width="6.13" height="4.9" fill="#FF0066" stroke="#000" stroke-opacity="0.8" stroke-width="0.6"/>
<rect x="254.82" y="294.12" width="6.13" height="4.78" fill="#33CC66" stroke="#000" stroke-opacity="0.8" stroke-width="0.6"/>
<rect x="265.04" y="308.59" width="6.13" height="5.81" fill="#6699FF" stroke="#000" stroke-opacity="0.8" stroke-width="0.6"/>
<rect x="265.04" y="303.46" width="6.13" height="5.13" fill="#FF9933" stroke="#000" stroke-opacity="0.8" stroke-width="0.6"/>
<rect x="265.04" y="298.33" width="6.13" height="5.13" fill="#FF0066" stroke="#000" stroke-opacity="0.8" stroke-width="0.6"/>
<rect x="265.04" y="293.32" width="6.13" height="5.01" fill="#33CC66" stroke="#000" stroke-opacity="0.8" stroke-width="0.6"/>
<rect x="275.25" y="308.36" width="6.13" height="6.04" fill="#6699FF" stroke="#000" stroke-opacity="0.8" stroke-width="0.6"/>
<rect x="275.25" y="303.23" width="6.13" height="5.13" fill="#FF9933" stroke="#000" stroke-opacity="0.8" stroke-width="0.6"/>
<rect x="275.25" y="296.97" width="6.13" height="6.26" fill="#FF0066" stroke="#000" stroke-opacity="0.8" stroke-width="0.6"/>
<rect x="275.25" y="289.56" width="6.13" height="7.41" fill="#33CC66" stroke="#000" stroke-opacity="0.8" stroke-width="0.6"/>
<rect x="285.46" y="308.36" width="6.13" height="6.04" fill="#6699FF" stroke="#000" stroke-opacity="0.8" stroke-width="0.6"/>
<rect x="285.46" y="302.66" width="6.13" height="5.7" fill="#FF9933" stroke="#000" stroke-opacity="0.8" stroke-width="0.6"/>
<rect x="285.46" y="295.83" width="6.13" height="6.83" fill="#FF0066" stroke="#000" stroke-opacity="0.8" stroke-width="0.6"/>
<rect x="285.46" y="288.99" width="6.13" height="6.84" fill="#33CC66" stroke="#000" stroke-opacity="0.8" stroke-width="0.6"/>
<rect x="295.68" y="308.7" width="6.13" height="5.7" fill="#6699FF" stroke="#000" stroke-opacity="0.8" stroke-width="0.6"/>
<rect x="295.68" y="303.8" width="6.13" height="4.9" fill="#FF9933" stroke="#000" stroke-opacity="0.8" stroke-width="0.6"/>
<rect x="295.68" y="296.97" width="6.13" height="6.83" fill="#FF0066" stroke="#000" stroke-opacity="0.8" stroke-width="0.6"/>
<rect x="295.68" y="289.56" width="6.13" height="7.41" fill="#33CC66" stroke="#000" stroke-opacity="0.8" stroke-width="0.6"/>
<rect x="305.89" y="310.64" width="6.13" height="3.76" fill="#6699FF" stroke="#000" stroke-opacity="0.8" stroke-width="0.6"/>
<rect x="305.89" y="305.17" width="6.13" height="5.47" fill="#FF9933" stroke="#000" stroke-opacity="0.8" stroke-width="0.6"/>
<rect x="305.89" y="298.33" width="6.13" height="6.84" fill="#FF0066" stroke="#000" stroke-opacity="0.8" stroke-width="0.6"/>
<rect x="305.89" y="291.27" width="6.13" height="7.06" fill="#33CC66" stroke="#000" stroke-opacity="0.8" stroke-width="0.6"/>
<rect x="316.11" y="310.64" width="6.13" height="3.76" fill="#6699FF" stroke="#000" stroke-opacity="0.8" stroke-width="0.6"/>
<rect x="316.11" y="304.71" width="6.13" height="5.93" fill="#FF9933" stroke="#000" stroke-opacity="0.8" stroke-width="0.6"/>
<rect x="316.11" y="297.88" width="6.13" height="6.83" fill="#FF0066" stroke="#000" stroke-opacity="0.8" stroke-width="0.6"/>
<rect x="316.11" y="289.56" width="6.13" height="8.32" fill="#33CC66" stroke="#000" stroke-opacity="0.8" stroke-width="0.6"/>
<rect x="326.32" y="311.21" width="6.13" height="3.19" fill="#6699FF" stroke="#000" stroke-opacity="0.8" stroke-width="0.6"/>
<rect x="326.32" y="307.79" width="6.13" height="3.42" fill="#FF9933" stroke="#000" stroke-opacity="0.8" stroke-width="0.6"/>
<rect x="326.32" y="300.61" width="6.13" height="7.18" fill="#FF0066" stroke="#000" stroke-opacity="0.8" stroke-width="0.6"/>
<rect x="326.32" y="289.9" width="6.13" height="10.71" fill="#33CC66" stroke="#000" stroke-opacity="0.8" stroke-width="0.6"/>
<line x1="206.81" y1="314.4" x2="206.81" y2="310.1" stroke="#111" stroke-width="0.9"/>
<line x1="227.24" y1="314.4" x2="227.24" y2="310.1" stroke="#111" stroke-width="0.9"/>
<line x1="247.67" y1="314.4" x2="247.67" y2="310.1" stroke="#111" stroke-width="0.9"/>
<line x1="268.1" y1="314.4" x2="268.1" y2="310.1" stroke="#111" stroke-width="0.9"/>
<line x1="288.53" y1="314.4" x2="288.53" y2="310.1" stroke="#111" stroke-width="0.9"/>
<line x1="308.96" y1="314.4" x2="308.96" y2="310.1" stroke="#111" stroke-width="0.9"/>
<line x1="329.39" y1="314.4" x2="329.39" y2="310.1" stroke="#111" stroke-width="0.9"/>
<rect x="196.6" y="241.4" width="143" height="73" fill="none" stroke="#888" stroke-width="1"/>
<line x1="196.6" y1="314.4" x2="201" y2="314.4" stroke="#111" stroke-width="1"/>
<text x="194" y="318.4" font-size="10.3" text-anchor="end">0</text>
<line x1="196.6" y1="296.15" x2="199.2" y2="296.15" stroke="#111" stroke-width="1"/>
<line x1="196.6" y1="277.9" x2="201" y2="277.9" stroke="#111" stroke-width="1"/>
<text x="194" y="281.9" font-size="10.3" text-anchor="end">20</text>
<line x1="196.6" y1="259.65" x2="199.2" y2="259.65" stroke="#111" stroke-width="1"/>
<text x="194" y="245.4" font-size="10.3" text-anchor="end">40</text>
<line x1="196.1" y1="314.4" x2="340.1" y2="314.4" stroke="#333" stroke-width="1"/>
<line x1="196.6" y1="240.9" x2="196.6" y2="314.9" stroke="#333" stroke-width="1"/>
<text x="206.81" y="326" font-size="10.1" text-anchor="middle">2008</text>
<text x="247.67" y="326" font-size="10.1" text-anchor="middle">2012</text>
<text x="288.53" y="326" font-size="10.1" text-anchor="middle">2016</text>
<text x="329.39" y="326" font-size="10.1" text-anchor="middle">2020</text>
<text x="181.8" y="277.9" font-size="10" text-anchor="middle" transform="rotate(-90 181.8 277.9)">Index</text>
<text x="267" y="236" font-size="16.7" text-anchor="middle">Fuzhou</text>
<rect x="367.6" y="241.4" width="143.3" height="73" fill="#E5E5E5"/>
<rect x="374.76" y="286.37" width="6.14" height="28.03" fill="#6699FF" stroke="#000" stroke-opacity="0.8" stroke-width="0.6"/>
<rect x="374.76" y="285.35" width="6.14" height="1.02" fill="#FF9933" stroke="#000" stroke-opacity="0.8" stroke-width="0.6"/>
<rect x="374.76" y="283.98" width="6.14" height="1.37" fill="#FF0066" stroke="#000" stroke-opacity="0.8" stroke-width="0.6"/>
<rect x="374.76" y="278.97" width="6.14" height="5.01" fill="#33CC66" stroke="#000" stroke-opacity="0.8" stroke-width="0.6"/>
<rect x="385" y="286.14" width="6.14" height="28.26" fill="#6699FF" stroke="#000" stroke-opacity="0.8" stroke-width="0.6"/>
<rect x="385" y="285.35" width="6.14" height="0.79" fill="#FF9933" stroke="#000" stroke-opacity="0.8" stroke-width="0.6"/>
<rect x="385" y="284.09" width="6.14" height="1.26" fill="#FF0066" stroke="#000" stroke-opacity="0.8" stroke-width="0.6"/>
<rect x="385" y="278.97" width="6.14" height="5.12" fill="#33CC66" stroke="#000" stroke-opacity="0.8" stroke-width="0.6"/>
<rect x="395.24" y="290.47" width="6.14" height="23.93" fill="#6699FF" stroke="#000" stroke-opacity="0.8" stroke-width="0.6"/>
<rect x="395.24" y="288.99" width="6.14" height="1.48" fill="#FF9933" stroke="#000" stroke-opacity="0.8" stroke-width="0.6"/>
<rect x="395.24" y="286.71" width="6.14" height="2.28" fill="#FF0066" stroke="#000" stroke-opacity="0.8" stroke-width="0.6"/>
<rect x="395.24" y="281.24" width="6.14" height="5.47" fill="#33CC66" stroke="#000" stroke-opacity="0.8" stroke-width="0.6"/>
<rect x="405.47" y="302.44" width="6.14" height="11.96" fill="#6699FF" stroke="#000" stroke-opacity="0.8" stroke-width="0.6"/>
<rect x="405.47" y="300.73" width="6.14" height="1.71" fill="#FF9933" stroke="#000" stroke-opacity="0.8" stroke-width="0.6"/>
<rect x="405.47" y="298.33" width="6.14" height="2.4" fill="#FF0066" stroke="#000" stroke-opacity="0.8" stroke-width="0.6"/>
<rect x="405.47" y="293.32" width="6.14" height="5.01" fill="#33CC66" stroke="#000" stroke-opacity="0.8" stroke-width="0.6"/>
<rect x="415.71" y="302.66" width="6.14" height="11.74" fill="#6699FF" stroke="#000" stroke-opacity="0.8" stroke-width="0.6"/>
<rect x="415.71" y="300.95" width="6.14" height="1.71" fill="#FF9933" stroke="#000" stroke-opacity="0.8" stroke-width="0.6"/>
<rect x="415.71" y="298.68" width="6.14" height="2.27" fill="#FF0066" stroke="#000" stroke-opacity="0.8" stroke-width="0.6"/>
<rect x="415.71" y="293.32" width="6.14" height="5.36" fill="#33CC66" stroke="#000" stroke-opacity="0.8" stroke-width="0.6"/>
<rect x="425.94" y="302.66" width="6.14" height="11.74" fill="#6699FF" stroke="#000" stroke-opacity="0.8" stroke-width="0.6"/>
<rect x="425.94" y="300.95" width="6.14" height="1.71" fill="#FF9933" stroke="#000" stroke-opacity="0.8" stroke-width="0.6"/>
<rect x="425.94" y="298.68" width="6.14" height="2.27" fill="#FF0066" stroke="#000" stroke-opacity="0.8" stroke-width="0.6"/>
<rect x="425.94" y="293.55" width="6.14" height="5.13" fill="#33CC66" stroke="#000" stroke-opacity="0.8" stroke-width="0.6"/>
<rect x="436.18" y="308.36" width="6.14" height="6.04" fill="#6699FF" stroke="#000" stroke-opacity="0.8" stroke-width="0.6"/>
<rect x="436.18" y="306.31" width="6.14" height="2.05" fill="#FF9933" stroke="#000" stroke-opacity="0.8" stroke-width="0.6"/>
<rect x="436.18" y="304.14" width="6.14" height="2.17" fill="#FF0066" stroke="#000" stroke-opacity="0.8" stroke-width="0.6"/>
<rect x="436.18" y="299.25" width="6.14" height="4.89" fill="#33CC66" stroke="#000" stroke-opacity="0.8" stroke-width="0.6"/>
<rect x="446.41" y="307.79" width="6.14" height="6.61" fill="#6699FF" stroke="#000" stroke-opacity="0.8" stroke-width="0.6"/>
<rect x="446.41" y="305.85" width="6.14" height="1.94" fill="#FF9933" stroke="#000" stroke-opacity="0.8" stroke-width="0.6"/>
<rect x="446.41" y="303.58" width="6.14" height="2.27" fill="#FF0066" stroke="#000" stroke-opacity="0.8" stroke-width="0.6"/>
<rect x="446.41" y="298.68" width="6.14" height="4.9" fill="#33CC66" stroke="#000" stroke-opacity="0.8" stroke-width="0.6"/>
<rect x="456.65" y="312.35" width="6.14" height="2.05" fill="#6699FF" stroke="#000" stroke-opacity="0.8" stroke-width="0.6"/>
<rect x="456.65" y="310.41" width="6.14" height="1.94" fill="#FF9933" stroke="#000" stroke-opacity="0.8" stroke-width="0.6"/>
<rect x="456.65" y="308.13" width="6.14" height="2.28" fill="#FF0066" stroke="#000" stroke-opacity="0.8" stroke-width="0.6"/>
<rect x="456.65" y="303.01" width="6.14" height="5.12" fill="#33CC66" stroke="#000" stroke-opacity="0.8" stroke-width="0.6"/>
<rect x="466.89" y="313.15" width="6.14" height="1.25" fill="#6699FF" stroke="#000" stroke-opacity="0.8" stroke-width="0.6"/>
<rect x="466.89" y="311.21" width="6.14" height="1.94" fill="#FF9933" stroke="#000" stroke-opacity="0.8" stroke-width="0.6"/>
<rect x="466.89" y="308.93" width="6.14" height="2.28" fill="#FF0066" stroke="#000" stroke-opacity="0.8" stroke-width="0.6"/>
<rect x="466.89" y="304.37" width="6.14" height="4.56" fill="#33CC66" stroke="#000" stroke-opacity="0.8" stroke-width="0.6"/>
<rect x="477.12" y="309.16" width="6.14" height="5.24" fill="#6699FF" stroke="#000" stroke-opacity="0.8" stroke-width="0.6"/>
<rect x="477.12" y="306.77" width="6.14" height="2.39" fill="#FF9933" stroke="#000" stroke-opacity="0.8" stroke-width="0.6"/>
<rect x="477.12" y="304.37" width="6.14" height="2.4" fill="#FF0066" stroke="#000" stroke-opacity="0.8" stroke-width="0.6"/>
<rect x="477.12" y="295.03" width="6.14" height="9.34" fill="#33CC66" stroke="#000" stroke-opacity="0.8" stroke-width="0.6"/>
<rect x="487.36" y="304.94" width="6.14" height="9.46" fill="#6699FF" stroke="#000" stroke-opacity="0.8" stroke-width="0.6"/>
<rect x="487.36" y="302.89" width="6.14" height="2.05" fill="#FF9933" stroke="#000" stroke-opacity="0.8" stroke-width="0.6"/>
<rect x="487.36" y="300.39" width="6.14" height="2.5" fill="#FF0066" stroke="#000" stroke-opacity="0.8" stroke-width="0.6"/>
<rect x="487.36" y="290.47" width="6.14" height="9.92" fill="#33CC66" stroke="#000" stroke-opacity="0.8" stroke-width="0.6"/>
<rect x="497.59" y="295.83" width="6.14" height="18.57" fill="#6699FF" stroke="#000" stroke-opacity="0.8" stroke-width="0.6"/>
<rect x="497.59" y="294.12" width="6.14" height="1.71" fill="#FF9933" stroke="#000" stroke-opacity="0.8" stroke-width="0.6"/>
<rect x="497.59" y="292.07" width="6.14" height="2.05" fill="#FF0066" stroke="#000" stroke-opacity="0.8" stroke-width="0.6"/>
<rect x="497.59" y="282.16" width="6.14" height="9.91" fill="#33CC66" stroke="#000" stroke-opacity="0.8" stroke-width="0.6"/>
<line x1="377.84" y1="314.4" x2="377.84" y2="310.1" stroke="#111" stroke-width="0.9"/>
<line x1="398.31" y1="314.4" x2="398.31" y2="310.1" stroke="#111" stroke-width="0.9"/>
<line x1="418.78" y1="314.4" x2="418.78" y2="310.1" stroke="#111" stroke-width="0.9"/>
<line x1="439.25" y1="314.4" x2="439.25" y2="310.1" stroke="#111" stroke-width="0.9"/>
<line x1="459.72" y1="314.4" x2="459.72" y2="310.1" stroke="#111" stroke-width="0.9"/>
<line x1="480.19" y1="314.4" x2="480.19" y2="310.1" stroke="#111" stroke-width="0.9"/>
<line x1="500.66" y1="314.4" x2="500.66" y2="310.1" stroke="#111" stroke-width="0.9"/>
<rect x="367.6" y="241.4" width="143.3" height="73" fill="none" stroke="#888" stroke-width="1"/>
<line x1="367.6" y1="314.4" x2="372" y2="314.4" stroke="#111" stroke-width="1"/>
<text x="365" y="318.4" font-size="10.3" text-anchor="end">0</text>
<line x1="367.6" y1="277.9" x2="370.2" y2="277.9" stroke="#111" stroke-width="1"/>
<text x="365" y="245.4" font-size="10.3" text-anchor="end">20</text>
<line x1="367.1" y1="314.4" x2="511.4" y2="314.4" stroke="#333" stroke-width="1"/>
<line x1="367.6" y1="240.9" x2="367.6" y2="314.9" stroke="#333" stroke-width="1"/>
<text x="377.84" y="326" font-size="10.1" text-anchor="middle">2008</text>
<text x="418.78" y="326" font-size="10.1" text-anchor="middle">2012</text>
<text x="459.72" y="326" font-size="10.1" text-anchor="middle">2016</text>
<text x="500.66" y="326" font-size="10.1" text-anchor="middle">2020</text>
<text x="352.8" y="277.9" font-size="10" text-anchor="middle" transform="rotate(-90 352.8 277.9)">Index</text>
<text x="442.6" y="236" font-size="16.7" text-anchor="middle">Haikou</text>
<rect x="539.6" y="241.4" width="143" height="73" fill="#E5E5E5"/>
<rect x="546.75" y="286.14" width="6.13" height="28.26" fill="#6699FF" stroke="#000" stroke-opacity="0.8" stroke-width="0.6"/>
<rect x="546.75" y="285" width="6.13" height="1.14" fill="#FF9933" stroke="#000" stroke-opacity="0.8" stroke-width="0.6"/>
<rect x="546.75" y="283.07" width="6.13" height="1.93" fill="#FF0066" stroke="#000" stroke-opacity="0.8" stroke-width="0.6"/>
<rect x="546.75" y="280.45" width="6.13" height="2.62" fill="#33CC66" stroke="#000" stroke-opacity="0.8" stroke-width="0.6"/>
<rect x="556.96" y="295.49" width="6.13" height="18.91" fill="#6699FF" stroke="#000" stroke-opacity="0.8" stroke-width="0.6"/>
<rect x="556.96" y="294.12" width="6.13" height="1.37" fill="#FF9933" stroke="#000" stroke-opacity="0.8" stroke-width="0.6"/>
<rect x="556.96" y="291.84" width="6.13" height="2.28" fill="#FF0066" stroke="#000" stroke-opacity="0.8" stroke-width="0.6"/>
<rect x="556.96" y="289.33" width="6.13" height="2.51" fill="#33CC66" stroke="#000" stroke-opacity="0.8" stroke-width="0.6"/>
<rect x="567.18" y="296.97" width="6.13" height="17.43" fill="#6699FF" stroke="#000" stroke-opacity="0.8" stroke-width="0.6"/>
<rect x="567.18" y="295.49" width="6.13" height="1.48" fill="#FF9933" stroke="#000" stroke-opacity="0.8" stroke-width="0.6"/>
<rect x="567.18" y="291.27" width="6.13" height="4.22" fill="#FF0066" stroke="#000" stroke-opacity="0.8" stroke-width="0.6"/>
<rect x="567.18" y="288.65" width="6.13" height="2.62" fill="#33CC66" stroke="#000" stroke-opacity="0.8" stroke-width="0.6"/>
<rect x="577.39" y="298.45" width="6.13" height="15.95" fill="#6699FF" stroke="#000" stroke-opacity="0.8" stroke-width="0.6"/>
<rect x="577.39" y="296.74" width="6.13" height="1.71" fill="#FF9933" stroke="#000" stroke-opacity="0.8" stroke-width="0.6"/>
<rect x="577.39" y="292.64" width="6.13" height="4.1" fill="#FF0066" stroke="#000" stroke-opacity="0.8" stroke-width="0.6"/>
<rect x="577.39" y="289.9" width="6.13" height="2.74" fill="#33CC66" stroke="#000" stroke-opacity="0.8" stroke-width="0.6"/>
<rect x="587.61" y="299.82" width="6.13" height="14.58" fill="#6699FF" stroke="#000" stroke-opacity="0.8" stroke-width="0.6"/>
<rect x="587.61" y="297.54" width="6.13" height="2.28" fill="#FF9933" stroke="#000" stroke-opacity="0.8" stroke-width="0.6"/>
<rect x="587.61" y="292.64" width="6.13" height="4.9" fill="#FF0066" stroke="#000" stroke-opacity="0.8" stroke-width="0.6"/>
<rect x="587.61" y="288.08" width="6.13" height="4.56" fill="#33CC66" stroke="#000" stroke-opacity="0.8" stroke-width="0.6"/>
<rect x="597.82" y="300.61" width="6.13" height="13.79" fill="#6699FF" stroke="#000" stroke-opacity="0.8" stroke-width="0.6"/>
<rect x="597.82" y="299.25" width="6.13" height="1.36" fill="#FF9933" stroke="#000" stroke-opacity="0.8" stroke-width="0.6"/>
<rect x="597.82" y="295.03" width="6.13" height="4.22" fill="#FF0066" stroke="#000" stroke-opacity="0.8" stroke-width="0.6"/>
<rect x="597.82" y="283.29" width="6.13" height="11.74" fill="#33CC66" stroke="#000" stroke-opacity="0.8" stroke-width="0.6"/>
<rect x="608.04" y="301.52" width="6.13" height="12.88" fill="#6699FF" stroke="#000" stroke-opacity="0.8" stroke-width="0.6"/>
<rect x="608.04" y="298.9" width="6.13" height="2.62" fill="#FF9933" stroke="#000" stroke-opacity="0.8" stroke-width="0.6"/>
<rect x="608.04" y="294.46" width="6.13" height="4.44" fill="#FF0066" stroke="#000" stroke-opacity="0.8" stroke-width="0.6"/>
<rect x="608.04" y="282.84" width="6.13" height="11.62" fill="#33CC66" stroke="#000" stroke-opacity="0.8" stroke-width="0.6"/>
<rect x="618.25" y="301.52" width="6.13" height="12.88" fill="#6699FF" stroke="#000" stroke-opacity="0.8" stroke-width="0.6"/>
<rect x="618.25" y="299.47" width="6.13" height="2.05" fill="#FF9933" stroke="#000" stroke-opacity="0.8" stroke-width="0.6"/>
<rect x="618.25" y="295.03" width="6.13" height="4.44" fill="#FF0066" stroke="#000" stroke-opacity="0.8" stroke-width="0.6"/>
<rect x="618.25" y="283.29" width="6.13" height="11.74" fill="#33CC66" stroke="#000" stroke-opacity="0.8" stroke-width="0.6"/>
<rect x="628.46" y="301.52" width="6.13" height="12.88" fill="#6699FF" stroke="#000" stroke-opacity="0.8" stroke-width="0.6"/>
<rect x="628.46" y="299.47" width="6.13" height="2.05" fill="#FF9933" stroke="#000" stroke-opacity="0.8" stroke-width="0.6"/>
<rect x="628.46" y="294.12" width="6.13" height="5.35" fill="#FF0066" stroke="#000" stroke-opacity="0.8" stroke-width="0.6"/>
<rect x="628.46" y="282.38" width="6.13" height="11.74" fill="#33CC66" stroke="#000" stroke-opacity="0.8" stroke-width="0.6"/>
<rect x="638.68" y="302.66" width="6.13" height="11.74" fill="#6699FF" stroke="#000" stroke-opacity="0.8" stroke-width="0.6"/>
<rect x="638.68" y="300.61" width="6.13" height="2.05" fill="#FF9933" stroke="#000" stroke-opacity="0.8" stroke-width="0.6"/>
<rect x="638.68" y="294.69" width="6.13" height="5.92" fill="#FF0066" stroke="#000" stroke-opacity="0.8" stroke-width="0.6"/>
<rect x="638.68" y="282.73" width="6.13" height="11.96" fill="#33CC66" stroke="#000" stroke-opacity="0.8" stroke-width="0.6"/>
<rect x="648.89" y="301.87" width="6.13" height="12.53" fill="#6699FF" stroke="#000" stroke-opacity="0.8" stroke-width="0.6"/>
<rect x="648.89" y="299.82" width="6.13" height="2.05" fill="#FF9933" stroke="#000" stroke-opacity="0.8" stroke-width="0.6"/>
<rect x="648.89" y="293.32" width="6.13" height="6.5" fill="#FF0066" stroke="#000" stroke-opacity="0.8" stroke-width="0.6"/>
<rect x="648.89" y="281.36" width="6.13" height="11.96" fill="#33CC66" stroke="#000" stroke-opacity="0.8" stroke-width="0.6"/>
<rect x="659.11" y="302.44" width="6.13" height="11.96" fill="#6699FF" stroke="#000" stroke-opacity="0.8" stroke-width="0.6"/>
<rect x="659.11" y="298.9" width="6.13" height="3.54" fill="#FF9933" stroke="#000" stroke-opacity="0.8" stroke-width="0.6"/>
<rect x="659.11" y="293.21" width="6.13" height="5.69" fill="#FF0066" stroke="#000" stroke-opacity="0.8" stroke-width="0.6"/>
<rect x="659.11" y="279.31" width="6.13" height="13.9" fill="#33CC66" stroke="#000" stroke-opacity="0.8" stroke-width="0.6"/>
<rect x="669.32" y="303.58" width="6.13" height="10.82" fill="#6699FF" stroke="#000" stroke-opacity="0.8" stroke-width="0.6"/>
<rect x="669.32" y="300.04" width="6.13" height="3.54" fill="#FF9933" stroke="#000" stroke-opacity="0.8" stroke-width="0.6"/>
<rect x="669.32" y="293.89" width="6.13" height="6.15" fill="#FF0066" stroke="#000" stroke-opacity="0.8" stroke-width="0.6"/>
<rect x="669.32" y="279.65" width="6.13" height="14.24" fill="#33CC66" stroke="#000" stroke-opacity="0.8" stroke-width="0.6"/>
<line x1="549.81" y1="314.4" x2="549.81" y2="310.1" stroke="#111" stroke-width="0.9"/>
<line x1="570.24" y1="314.4" x2="570.24" y2="310.1" stroke="#111" stroke-width="0.9"/>
<line x1="590.67" y1="314.4" x2="590.67" y2="310.1" stroke="#111" stroke-width="0.9"/>
<line x1="611.1" y1="314.4" x2="611.1" y2="310.1" stroke="#111" stroke-width="0.9"/>
<line x1="631.53" y1="314.4" x2="631.53" y2="310.1" stroke="#111" stroke-width="0.9"/>
<line x1="651.96" y1="314.4" x2="651.96" y2="310.1" stroke="#111" stroke-width="0.9"/>
<line x1="672.39" y1="314.4" x2="672.39" y2="310.1" stroke="#111" stroke-width="0.9"/>
<rect x="539.6" y="241.4" width="143" height="73" fill="none" stroke="#888" stroke-width="1"/>
<line x1="539.6" y1="314.4" x2="544" y2="314.4" stroke="#111" stroke-width="1"/>
<text x="537" y="318.4" font-size="10.3" text-anchor="end">0</text>
<line x1="539.6" y1="277.9" x2="542.2" y2="277.9" stroke="#111" stroke-width="1"/>
<text x="537" y="245.4" font-size="10.3" text-anchor="end">20</text>
<line x1="539.1" y1="314.4" x2="683.1" y2="314.4" stroke="#333" stroke-width="1"/>
<line x1="539.6" y1="240.9" x2="539.6" y2="314.9" stroke="#333" stroke-width="1"/>
<text x="549.81" y="326" font-size="10.1" text-anchor="middle">2008</text>
<text x="590.67" y="326" font-size="10.1" text-anchor="middle">2012</text>
<text x="631.53" y="326" font-size="10.1" text-anchor="middle">2016</text>
<text x="672.39" y="326" font-size="10.1" text-anchor="middle">2020</text>
<text x="524.8" y="277.9" font-size="10" text-anchor="middle" transform="rotate(-90 524.8 277.9)">Index</text>
<text x="615.75" y="236" font-size="16.7" text-anchor="middle">Nantong</text>
<rect x="24.3" y="353.4" width="143.1" height="72.9" fill="#E5E5E5"/>
<rect x="31.46" y="401.56" width="6.13" height="24.74" fill="#6699FF" stroke="#000" stroke-opacity="0.8" stroke-width="0.6"/>
<rect x="31.46" y="401.22" width="6.13" height="0.34" fill="#FF9933" stroke="#000" stroke-opacity="0.8" stroke-width="0.6"/>
<rect x="31.46" y="400.76" width="6.13" height="0.46" fill="#FF0066" stroke="#000" stroke-opacity="0.8" stroke-width="0.6"/>
<rect x="31.46" y="396.09" width="6.13" height="4.67" fill="#33CC66" stroke="#000" stroke-opacity="0.8" stroke-width="0.6"/>
<rect x="41.68" y="403.5" width="6.13" height="22.8" fill="#6699FF" stroke="#000" stroke-opacity="0.8" stroke-width="0.6"/>
<rect x="41.68" y="403.16" width="6.13" height="0.34" fill="#FF9933" stroke="#000" stroke-opacity="0.8" stroke-width="0.6"/>
<rect x="41.68" y="401.22" width="6.13" height="1.94" fill="#FF0066" stroke="#000" stroke-opacity="0.8" stroke-width="0.6"/>
<rect x="41.68" y="396.43" width="6.13" height="4.79" fill="#33CC66" stroke="#000" stroke-opacity="0.8" stroke-width="0.6"/>
<rect x="51.9" y="406.35" width="6.13" height="19.95" fill="#6699FF" stroke="#000" stroke-opacity="0.8" stroke-width="0.6"/>
<rect x="51.9" y="406" width="6.13" height="0.35" fill="#FF9933" stroke="#000" stroke-opacity="0.8" stroke-width="0.6"/>
<rect x="51.9" y="404.18" width="6.13" height="1.82" fill="#FF0066" stroke="#000" stroke-opacity="0.8" stroke-width="0.6"/>
<rect x="51.9" y="399.28" width="6.13" height="4.9" fill="#33CC66" stroke="#000" stroke-opacity="0.8" stroke-width="0.6"/>
<rect x="62.12" y="414.44" width="6.13" height="11.86" fill="#6699FF" stroke="#000" stroke-opacity="0.8" stroke-width="0.6"/>
<rect x="62.12" y="412.95" width="6.13" height="1.49" fill="#FF9933" stroke="#000" stroke-opacity="0.8" stroke-width="0.6"/>
<rect x="62.12" y="411.02" width="6.13" height="1.93" fill="#FF0066" stroke="#000" stroke-opacity="0.8" stroke-width="0.6"/>
<rect x="62.12" y="406.35" width="6.13" height="4.67" fill="#33CC66" stroke="#000" stroke-opacity="0.8" stroke-width="0.6"/>
<rect x="72.34" y="413.52" width="6.13" height="12.78" fill="#6699FF" stroke="#000" stroke-opacity="0.8" stroke-width="0.6"/>
<rect x="72.34" y="412.16" width="6.13" height="1.36" fill="#FF9933" stroke="#000" stroke-opacity="0.8" stroke-width="0.6"/>
<rect x="72.34" y="408.97" width="6.13" height="3.19" fill="#FF0066" stroke="#000" stroke-opacity="0.8" stroke-width="0.6"/>
<rect x="72.34" y="404.41" width="6.13" height="4.56" fill="#33CC66" stroke="#000" stroke-opacity="0.8" stroke-width="0.6"/>
<rect x="82.56" y="414.66" width="6.13" height="11.64" fill="#6699FF" stroke="#000" stroke-opacity="0.8" stroke-width="0.6"/>
<rect x="82.56" y="414.32" width="6.13" height="0.34" fill="#FF9933" stroke="#000" stroke-opacity="0.8" stroke-width="0.6"/>
<rect x="82.56" y="411.47" width="6.13" height="2.85" fill="#FF0066" stroke="#000" stroke-opacity="0.8" stroke-width="0.6"/>
<rect x="82.56" y="407.03" width="6.13" height="4.44" fill="#33CC66" stroke="#000" stroke-opacity="0.8" stroke-width="0.6"/>
<rect x="92.78" y="414.44" width="6.13" height="11.86" fill="#6699FF" stroke="#000" stroke-opacity="0.8" stroke-width="0.6"/>
<rect x="92.78" y="414.21" width="6.13" height="0.23" fill="#FF9933" stroke="#000" stroke-opacity="0.8" stroke-width="0.6"/>
<rect x="92.78" y="410.68" width="6.13" height="3.53" fill="#FF0066" stroke="#000" stroke-opacity="0.8" stroke-width="0.6"/>
<rect x="92.78" y="406.12" width="6.13" height="4.56" fill="#33CC66" stroke="#000" stroke-opacity="0.8" stroke-width="0.6"/>
<rect x="103" y="416.6" width="6.13" height="9.7" fill="#6699FF" stroke="#000" stroke-opacity="0.8" stroke-width="0.6"/>
<rect x="103" y="416.26" width="6.13" height="0.34" fill="#FF9933" stroke="#000" stroke-opacity="0.8" stroke-width="0.6"/>
<rect x="103" y="412.73" width="6.13" height="3.53" fill="#FF0066" stroke="#000" stroke-opacity="0.8" stroke-width="0.6"/>
<rect x="103" y="408.17" width="6.13" height="4.56" fill="#33CC66" stroke="#000" stroke-opacity="0.8" stroke-width="0.6"/>
<rect x="113.23" y="419.45" width="6.13" height="6.85" fill="#6699FF" stroke="#000" stroke-opacity="0.8" stroke-width="0.6"/>
<rect x="113.23" y="419.11" width="6.13" height="0.34" fill="#FF9933" stroke="#000" stroke-opacity="0.8" stroke-width="0.6"/>
<rect x="113.23" y="415.58" width="6.13" height="3.53" fill="#FF0066" stroke="#000" stroke-opacity="0.8" stroke-width="0.6"/>
<rect x="113.23" y="411.25" width="6.13" height="4.33" fill="#33CC66" stroke="#000" stroke-opacity="0.8" stroke-width="0.6"/>
<rect x="123.45" y="418.65" width="6.13" height="7.65" fill="#6699FF" stroke="#000" stroke-opacity="0.8" stroke-width="0.6"/>
<rect x="123.45" y="417.85" width="6.13" height="0.8" fill="#FF9933" stroke="#000" stroke-opacity="0.8" stroke-width="0.6"/>
<rect x="123.45" y="414.09" width="6.13" height="3.76" fill="#FF0066" stroke="#000" stroke-opacity="0.8" stroke-width="0.6"/>
<rect x="123.45" y="409.54" width="6.13" height="4.55" fill="#33CC66" stroke="#000" stroke-opacity="0.8" stroke-width="0.6"/>
<rect x="133.67" y="418.65" width="6.13" height="7.65" fill="#6699FF" stroke="#000" stroke-opacity="0.8" stroke-width="0.6"/>
<rect x="133.67" y="418.08" width="6.13" height="0.57" fill="#FF9933" stroke="#000" stroke-opacity="0.8" stroke-width="0.6"/>
<rect x="133.67" y="414.09" width="6.13" height="3.99" fill="#FF0066" stroke="#000" stroke-opacity="0.8" stroke-width="0.6"/>
<rect x="133.67" y="407.26" width="6.13" height="6.83" fill="#33CC66" stroke="#000" stroke-opacity="0.8" stroke-width="0.6"/>
<rect x="143.89" y="419.22" width="6.13" height="7.08" fill="#6699FF" stroke="#000" stroke-opacity="0.8" stroke-width="0.6"/>
<rect x="143.89" y="418.65" width="6.13" height="0.57" fill="#FF9933" stroke="#000" stroke-opacity="0.8" stroke-width="0.6"/>
<rect x="143.89" y="414.44" width="6.13" height="4.21" fill="#FF0066" stroke="#000" stroke-opacity="0.8" stroke-width="0.6"/>
<rect x="143.89" y="405.21" width="6.13" height="9.23" fill="#33CC66" stroke="#000" stroke-opacity="0.8" stroke-width="0.6"/>
<rect x="154.11" y="419.79" width="6.13" height="6.51" fill="#6699FF" stroke="#000" stroke-opacity="0.8" stroke-width="0.6"/>
<rect x="154.11" y="418.99" width="6.13" height="0.8" fill="#FF9933" stroke="#000" stroke-opacity="0.8" stroke-width="0.6"/>
<rect x="154.11" y="414.89" width="6.13" height="4.1" fill="#FF0066" stroke="#000" stroke-opacity="0.8" stroke-width="0.6"/>
<rect x="154.11" y="403.5" width="6.13" height="11.39" fill="#33CC66" stroke="#000" stroke-opacity="0.8" stroke-width="0.6"/>
<line x1="34.52" y1="426.3" x2="34.52" y2="422" stroke="#111" stroke-width="0.9"/>
<line x1="54.96" y1="426.3" x2="54.96" y2="422" stroke="#111" stroke-width="0.9"/>
<line x1="75.41" y1="426.3" x2="75.41" y2="422" stroke="#111" stroke-width="0.9"/>
<line x1="95.85" y1="426.3" x2="95.85" y2="422" stroke="#111" stroke-width="0.9"/>
<line x1="116.29" y1="426.3" x2="116.29" y2="422" stroke="#111" stroke-width="0.9"/>
<line x1="136.74" y1="426.3" x2="136.74" y2="422" stroke="#111" stroke-width="0.9"/>
<line x1="157.18" y1="426.3" x2="157.18" y2="422" stroke="#111" stroke-width="0.9"/>
<rect x="24.3" y="353.4" width="143.1" height="72.9" fill="none" stroke="#888" stroke-width="1"/>
<line x1="24.3" y1="426.3" x2="28.7" y2="426.3" stroke="#111" stroke-width="1"/>
<text x="21.7" y="430.3" font-size="10.3" text-anchor="end">0</text>
<line x1="24.3" y1="389.85" x2="26.9" y2="389.85" stroke="#111" stroke-width="1"/>
<text x="21.7" y="357.4" font-size="10.3" text-anchor="end">20</text>
<line x1="23.8" y1="426.3" x2="167.9" y2="426.3" stroke="#333" stroke-width="1"/>
<line x1="24.3" y1="352.9" x2="24.3" y2="426.8" stroke="#333" stroke-width="1"/>
<text x="34.52" y="437.9" font-size="10.1" text-anchor="middle">2008</text>
<text x="75.41" y="437.9" font-size="10.1" text-anchor="middle">2012</text>
<text x="116.29" y="437.9" font-size="10.1" text-anchor="middle">2016</text>
<text x="157.18" y="437.9" font-size="10.1" text-anchor="middle">2020</text>
<text x="9.5" y="389.85" font-size="10" text-anchor="middle" transform="rotate(-90 9.5 389.85)">Index</text>
<text x="108.6" y="348.1" font-size="16.7" text-anchor="middle">Lianyungang</text>
<rect x="196.6" y="353.4" width="143" height="72.9" fill="#E5E5E5"/>
<rect x="203.75" y="408.17" width="6.13" height="18.13" fill="#6699FF" stroke="#000" stroke-opacity="0.8" stroke-width="0.6"/>
<rect x="203.75" y="406.12" width="6.13" height="2.05" fill="#FF9933" stroke="#000" stroke-opacity="0.8" stroke-width="0.6"/>
<rect x="203.75" y="404.98" width="6.13" height="1.14" fill="#FF0066" stroke="#000" stroke-opacity="0.8" stroke-width="0.6"/>
<rect x="203.75" y="402.36" width="6.13" height="2.62" fill="#33CC66" stroke="#000" stroke-opacity="0.8" stroke-width="0.6"/>
<rect x="213.96" y="409.31" width="6.13" height="16.99" fill="#6699FF" stroke="#000" stroke-opacity="0.8" stroke-width="0.6"/>
<rect x="213.96" y="407.6" width="6.13" height="1.71" fill="#FF9933" stroke="#000" stroke-opacity="0.8" stroke-width="0.6"/>
<rect x="213.96" y="404.98" width="6.13" height="2.62" fill="#FF0066" stroke="#000" stroke-opacity="0.8" stroke-width="0.6"/>
<rect x="213.96" y="400.31" width="6.13" height="4.67" fill="#33CC66" stroke="#000" stroke-opacity="0.8" stroke-width="0.6"/>
<rect x="224.18" y="408.4" width="6.13" height="17.9" fill="#6699FF" stroke="#000" stroke-opacity="0.8" stroke-width="0.6"/>
<rect x="224.18" y="405.89" width="6.13" height="2.51" fill="#FF9933" stroke="#000" stroke-opacity="0.8" stroke-width="0.6"/>
<rect x="224.18" y="403.5" width="6.13" height="2.39" fill="#FF0066" stroke="#000" stroke-opacity="0.8" stroke-width="0.6"/>
<rect x="224.18" y="398.49" width="6.13" height="5.01" fill="#33CC66" stroke="#000" stroke-opacity="0.8" stroke-width="0.6"/>
<rect x="234.39" y="409.76" width="6.13" height="16.54" fill="#6699FF" stroke="#000" stroke-opacity="0.8" stroke-width="0.6"/>
<rect x="234.39" y="406.92" width="6.13" height="2.84" fill="#FF9933" stroke="#000" stroke-opacity="0.8" stroke-width="0.6"/>
<rect x="234.39" y="404.64" width="6.13" height="2.28" fill="#FF0066" stroke="#000" stroke-opacity="0.8" stroke-width="0.6"/>
<rect x="234.39" y="397.35" width="6.13" height="7.29" fill="#33CC66" stroke="#000" stroke-opacity="0.8" stroke-width="0.6"/>
<rect x="244.61" y="409.88" width="6.13" height="16.42" fill="#6699FF" stroke="#000" stroke-opacity="0.8" stroke-width="0.6"/>
<rect x="244.61" y="407.37" width="6.13" height="2.51" fill="#FF9933" stroke="#000" stroke-opacity="0.8" stroke-width="0.6"/>
<rect x="244.61" y="404.64" width="6.13" height="2.73" fill="#FF0066" stroke="#000" stroke-opacity="0.8" stroke-width="0.6"/>
<rect x="244.61" y="397.46" width="6.13" height="7.18" fill="#33CC66" stroke="#000" stroke-opacity="0.8" stroke-width="0.6"/>
<rect x="254.82" y="410.45" width="6.13" height="15.85" fill="#6699FF" stroke="#000" stroke-opacity="0.8" stroke-width="0.6"/>
<rect x="254.82" y="407.6" width="6.13" height="2.85" fill="#FF9933" stroke="#000" stroke-opacity="0.8" stroke-width="0.6"/>
<rect x="254.82" y="405.32" width="6.13" height="2.28" fill="#FF0066" stroke="#000" stroke-opacity="0.8" stroke-width="0.6"/>
<rect x="254.82" y="398.14" width="6.13" height="7.18" fill="#33CC66" stroke="#000" stroke-opacity="0.8" stroke-width="0.6"/>
<rect x="265.04" y="409.76" width="6.13" height="16.54" fill="#6699FF" stroke="#000" stroke-opacity="0.8" stroke-width="0.6"/>
<rect x="265.04" y="406.92" width="6.13" height="2.84" fill="#FF9933" stroke="#000" stroke-opacity="0.8" stroke-width="0.6"/>
<rect x="265.04" y="404.64" width="6.13" height="2.28" fill="#FF0066" stroke="#000" stroke-opacity="0.8" stroke-width="0.6"/>
<rect x="265.04" y="397.35" width="6.13" height="7.29" fill="#33CC66" stroke="#000" stroke-opacity="0.8" stroke-width="0.6"/>
<rect x="275.25" y="409.76" width="6.13" height="16.54" fill="#6699FF" stroke="#000" stroke-opacity="0.8" stroke-width="0.6"/>
<rect x="275.25" y="406.92" width="6.13" height="2.84" fill="#FF9933" stroke="#000" stroke-opacity="0.8" stroke-width="0.6"/>
<rect x="275.25" y="404.64" width="6.13" height="2.28" fill="#FF0066" stroke="#000" stroke-opacity="0.8" stroke-width="0.6"/>
<rect x="275.25" y="397.35" width="6.13" height="7.29" fill="#33CC66" stroke="#000" stroke-opacity="0.8" stroke-width="0.6"/>
<rect x="285.46" y="410.11" width="6.13" height="16.19" fill="#6699FF" stroke="#000" stroke-opacity="0.8" stroke-width="0.6"/>
<rect x="285.46" y="407.26" width="6.13" height="2.85" fill="#FF9933" stroke="#000" stroke-opacity="0.8" stroke-width="0.6"/>
<rect x="285.46" y="403.84" width="6.13" height="3.42" fill="#FF0066" stroke="#000" stroke-opacity="0.8" stroke-width="0.6"/>
<rect x="285.46" y="396.21" width="6.13" height="7.63" fill="#33CC66" stroke="#000" stroke-opacity="0.8" stroke-width="0.6"/>
<rect x="295.68" y="410.68" width="6.13" height="15.62" fill="#6699FF" stroke="#000" stroke-opacity="0.8" stroke-width="0.6"/>
<rect x="295.68" y="407.83" width="6.13" height="2.85" fill="#FF9933" stroke="#000" stroke-opacity="0.8" stroke-width="0.6"/>
<rect x="295.68" y="404.41" width="6.13" height="3.42" fill="#FF0066" stroke="#000" stroke-opacity="0.8" stroke-width="0.6"/>
<rect x="295.68" y="397.23" width="6.13" height="7.18" fill="#33CC66" stroke="#000" stroke-opacity="0.8" stroke-width="0.6"/>
<rect x="305.89" y="409.54" width="6.13" height="16.76" fill="#6699FF" stroke="#000" stroke-opacity="0.8" stroke-width="0.6"/>
<rect x="305.89" y="406.69" width="6.13" height="2.85" fill="#FF9933" stroke="#000" stroke-opacity="0.8" stroke-width="0.6"/>
<rect x="305.89" y="403.27" width="6.13" height="3.42" fill="#FF0066" stroke="#000" stroke-opacity="0.8" stroke-width="0.6"/>
<rect x="305.89" y="396.09" width="6.13" height="7.18" fill="#33CC66" stroke="#000" stroke-opacity="0.8" stroke-width="0.6"/>
<rect x="316.11" y="412.95" width="6.13" height="13.35" fill="#6699FF" stroke="#000" stroke-opacity="0.8" stroke-width="0.6"/>
<rect x="316.11" y="410.68" width="6.13" height="2.27" fill="#FF9933" stroke="#000" stroke-opacity="0.8" stroke-width="0.6"/>
<rect x="316.11" y="407.49" width="6.13" height="3.19" fill="#FF0066" stroke="#000" stroke-opacity="0.8" stroke-width="0.6"/>
<rect x="316.11" y="395.29" width="6.13" height="12.2" fill="#33CC66" stroke="#000" stroke-opacity="0.8" stroke-width="0.6"/>
<rect x="326.32" y="411.82" width="6.13" height="14.48" fill="#6699FF" stroke="#000" stroke-opacity="0.8" stroke-width="0.6"/>
<rect x="326.32" y="410.68" width="6.13" height="1.14" fill="#FF9933" stroke="#000" stroke-opacity="0.8" stroke-width="0.6"/>
<rect x="326.32" y="407.49" width="6.13" height="3.19" fill="#FF0066" stroke="#000" stroke-opacity="0.8" stroke-width="0.6"/>
<rect x="326.32" y="393.24" width="6.13" height="14.25" fill="#33CC66" stroke="#000" stroke-opacity="0.8" stroke-width="0.6"/>
<line x1="206.81" y1="426.3" x2="206.81" y2="422" stroke="#111" stroke-width="0.9"/>
<line x1="227.24" y1="426.3" x2="227.24" y2="422" stroke="#111" stroke-width="0.9"/>
<line x1="247.67" y1="426.3" x2="247.67" y2="422" stroke="#111" stroke-width="0.9"/>
<line x1="268.1" y1="426.3" x2="268.1" y2="422" stroke="#111" stroke-width="0.9"/>
<line x1="288.53" y1="426.3" x2="288.53" y2="422" stroke="#111" stroke-width="0.9"/>
<line x1="308.96" y1="426.3" x2="308.96" y2="422" stroke="#111" stroke-width="0.9"/>
<line x1="329.39" y1="426.3" x2="329.39" y2="422" stroke="#111" stroke-width="0.9"/>
<rect x="196.6" y="353.4" width="143" height="72.9" fill="none" stroke="#888" stroke-width="1"/>
<line x1="196.6" y1="426.3" x2="201" y2="426.3" stroke="#111" stroke-width="1"/>
<text x="194" y="430.3" font-size="10.3" text-anchor="end">0</text>
<line x1="196.6" y1="389.85" x2="199.2" y2="389.85" stroke="#111" stroke-width="1"/>
<text x="194" y="357.4" font-size="10.3" text-anchor="end">20</text>
<line x1="196.1" y1="426.3" x2="340.1" y2="426.3" stroke="#333" stroke-width="1"/>
<line x1="196.6" y1="352.9" x2="196.6" y2="426.8" stroke="#333" stroke-width="1"/>
<text x="206.81" y="437.9" font-size="10.1" text-anchor="middle">2008</text>
<text x="247.67" y="437.9" font-size="10.1" text-anchor="middle">2012</text>
<text x="288.53" y="437.9" font-size="10.1" text-anchor="middle">2016</text>
<text x="329.39" y="437.9" font-size="10.1" text-anchor="middle">2020</text>
<text x="181.8" y="389.85" font-size="10" text-anchor="middle" transform="rotate(-90 181.8 389.85)">Index</text>
<text x="259.75" y="348" font-size="16.7" text-anchor="middle">Yantai</text>
<rect x="367.6" y="353.4" width="143.3" height="72.9" fill="#E5E5E5"/>
<rect x="374.76" y="412.73" width="6.14" height="13.57" fill="#6699FF" stroke="#000" stroke-opacity="0.8" stroke-width="0.6"/>
<rect x="374.76" y="412.39" width="6.14" height="0.34" fill="#FF9933" stroke="#000" stroke-opacity="0.8" stroke-width="0.6"/>
<rect x="374.76" y="411.25" width="6.14" height="1.14" fill="#FF0066" stroke="#000" stroke-opacity="0.8" stroke-width="0.6"/>
<rect x="374.76" y="406.69" width="6.14" height="4.56" fill="#33CC66" stroke="#000" stroke-opacity="0.8" stroke-width="0.6"/>
<rect x="385" y="414.66" width="6.14" height="11.64" fill="#6699FF" stroke="#000" stroke-opacity="0.8" stroke-width="0.6"/>
<rect x="385" y="414.44" width="6.14" height="0.22" fill="#FF9933" stroke="#000" stroke-opacity="0.8" stroke-width="0.6"/>
<rect x="385" y="413.75" width="6.14" height="0.69" fill="#FF0066" stroke="#000" stroke-opacity="0.8" stroke-width="0.6"/>
<rect x="385" y="409.31" width="6.14" height="4.44" fill="#33CC66" stroke="#000" stroke-opacity="0.8" stroke-width="0.6"/>
<rect x="395.24" y="414.09" width="6.14" height="12.21" fill="#6699FF" stroke="#000" stroke-opacity="0.8" stroke-width="0.6"/>
<rect x="395.24" y="413.87" width="6.14" height="0.22" fill="#FF9933" stroke="#000" stroke-opacity="0.8" stroke-width="0.6"/>
<rect x="395.24" y="413.18" width="6.14" height="0.69" fill="#FF0066" stroke="#000" stroke-opacity="0.8" stroke-width="0.6"/>
<rect x="395.24" y="408.4" width="6.14" height="4.78" fill="#33CC66" stroke="#000" stroke-opacity="0.8" stroke-width="0.6"/>
<rect x="405.47" y="413.87" width="6.14" height="12.43" fill="#6699FF" stroke="#000" stroke-opacity="0.8" stroke-width="0.6"/>
<rect x="405.47" y="413.52" width="6.14" height="0.35" fill="#FF9933" stroke="#000" stroke-opacity="0.8" stroke-width="0.6"/>
<rect x="405.47" y="411.82" width="6.14" height="1.7" fill="#FF0066" stroke="#000" stroke-opacity="0.8" stroke-width="0.6"/>
<rect x="405.47" y="407.26" width="6.14" height="4.56" fill="#33CC66" stroke="#000" stroke-opacity="0.8" stroke-width="0.6"/>
<rect x="415.71" y="414.44" width="6.14" height="11.86" fill="#6699FF" stroke="#000" stroke-opacity="0.8" stroke-width="0.6"/>
<rect x="415.71" y="414.09" width="6.14" height="0.35" fill="#FF9933" stroke="#000" stroke-opacity="0.8" stroke-width="0.6"/>
<rect x="415.71" y="412.16" width="6.14" height="1.93" fill="#FF0066" stroke="#000" stroke-opacity="0.8" stroke-width="0.6"/>
<rect x="415.71" y="407.49" width="6.14" height="4.67" fill="#33CC66" stroke="#000" stroke-opacity="0.8" stroke-width="0.6"/>
<rect x="425.94" y="413.52" width="6.14" height="12.78" fill="#6699FF" stroke="#000" stroke-opacity="0.8" stroke-width="0.6"/>
<rect x="425.94" y="413.18" width="6.14" height="0.34" fill="#FF9933" stroke="#000" stroke-opacity="0.8" stroke-width="0.6"/>
<rect x="425.94" y="411.47" width="6.14" height="1.71" fill="#FF0066" stroke="#000" stroke-opacity="0.8" stroke-width="0.6"/>
<rect x="425.94" y="407.26" width="6.14" height="4.21" fill="#33CC66" stroke="#000" stroke-opacity="0.8" stroke-width="0.6"/>
<rect x="436.18" y="415.8" width="6.14" height="10.5" fill="#6699FF" stroke="#000" stroke-opacity="0.8" stroke-width="0.6"/>
<rect x="436.18" y="415.46" width="6.14" height="0.34" fill="#FF9933" stroke="#000" stroke-opacity="0.8" stroke-width="0.6"/>
<rect x="436.18" y="413.87" width="6.14" height="1.59" fill="#FF0066" stroke="#000" stroke-opacity="0.8" stroke-width="0.6"/>
<rect x="436.18" y="409.31" width="6.14" height="4.56" fill="#33CC66" stroke="#000" stroke-opacity="0.8" stroke-width="0.6"/>
<rect x="446.41" y="416.6" width="6.14" height="9.7" fill="#6699FF" stroke="#000" stroke-opacity="0.8" stroke-width="0.6"/>
<rect x="446.41" y="416.26" width="6.14" height="0.34" fill="#FF9933" stroke="#000" stroke-opacity="0.8" stroke-width="0.6"/>
<rect x="446.41" y="414.44" width="6.14" height="1.82" fill="#FF0066" stroke="#000" stroke-opacity="0.8" stroke-width="0.6"/>
<rect x="446.41" y="409.88" width="6.14" height="4.56" fill="#33CC66" stroke="#000" stroke-opacity="0.8" stroke-width="0.6"/>
<rect x="456.65" y="414.44" width="6.14" height="11.86" fill="#6699FF" stroke="#000" stroke-opacity="0.8" stroke-width="0.6"/>
<rect x="456.65" y="414.09" width="6.14" height="0.35" fill="#FF9933" stroke="#000" stroke-opacity="0.8" stroke-width="0.6"/>
<rect x="456.65" y="412.39" width="6.14" height="1.7" fill="#FF0066" stroke="#000" stroke-opacity="0.8" stroke-width="0.6"/>
<rect x="456.65" y="407.6" width="6.14" height="4.79" fill="#33CC66" stroke="#000" stroke-opacity="0.8" stroke-width="0.6"/>
<rect x="466.89" y="411.59" width="6.14" height="14.71" fill="#6699FF" stroke="#000" stroke-opacity="0.8" stroke-width="0.6"/>
<rect x="466.89" y="411.25" width="6.14" height="0.34" fill="#FF9933" stroke="#000" stroke-opacity="0.8" stroke-width="0.6"/>
<rect x="466.89" y="409.54" width="6.14" height="1.71" fill="#FF0066" stroke="#000" stroke-opacity="0.8" stroke-width="0.6"/>
<rect x="466.89" y="404.98" width="6.14" height="4.56" fill="#33CC66" stroke="#000" stroke-opacity="0.8" stroke-width="0.6"/>
<rect x="477.12" y="410.68" width="6.14" height="15.62" fill="#6699FF" stroke="#000" stroke-opacity="0.8" stroke-width="0.6"/>
<rect x="477.12" y="410.33" width="6.14" height="0.35" fill="#FF9933" stroke="#000" stroke-opacity="0.8" stroke-width="0.6"/>
<rect x="477.12" y="408.63" width="6.14" height="1.7" fill="#FF0066" stroke="#000" stroke-opacity="0.8" stroke-width="0.6"/>
<rect x="477.12" y="404.07" width="6.14" height="4.56" fill="#33CC66" stroke="#000" stroke-opacity="0.8" stroke-width="0.6"/>
<rect x="487.36" y="410.45" width="6.14" height="15.85" fill="#6699FF" stroke="#000" stroke-opacity="0.8" stroke-width="0.6"/>
<rect x="487.36" y="410.11" width="6.14" height="0.34" fill="#FF9933" stroke="#000" stroke-opacity="0.8" stroke-width="0.6"/>
<rect x="487.36" y="408.4" width="6.14" height="1.71" fill="#FF0066" stroke="#000" stroke-opacity="0.8" stroke-width="0.6"/>
<rect x="487.36" y="401.33" width="6.14" height="7.07" fill="#33CC66" stroke="#000" stroke-opacity="0.8" stroke-width="0.6"/>
<rect x="497.59" y="411.02" width="6.14" height="15.28" fill="#6699FF" stroke="#000" stroke-opacity="0.8" stroke-width="0.6"/>
<rect x="497.59" y="410.68" width="6.14" height="0.34" fill="#FF9933" stroke="#000" stroke-opacity="0.8" stroke-width="0.6"/>
<rect x="497.59" y="408.97" width="6.14" height="1.71" fill="#FF0066" stroke="#000" stroke-opacity="0.8" stroke-width="0.6"/>
<rect x="497.59" y="402.36" width="6.14" height="6.61" fill="#33CC66" stroke="#000" stroke-opacity="0.8" stroke-width="0.6"/>
<line x1="377.84" y1="426.3" x2="377.84" y2="422" stroke="#111" stroke-width="0.9"/>
<line x1="398.31" y1="426.3" x2="398.31" y2="422" stroke="#111" stroke-width="0.9"/>
<line x1="418.78" y1="426.3" x2="418.78" y2="422" stroke="#111" stroke-width="0.9"/>
<line x1="439.25" y1="426.3" x2="439.25" y2="422" stroke="#111" stroke-width="0.9"/>
<line x1="459.72" y1="426.3" x2="459.72" y2="422" stroke="#111" stroke-width="0.9"/>
<line x1="480.19" y1="426.3" x2="480.19" y2="422" stroke="#111" stroke-width="0.9"/>
<line x1="500.66" y1="426.3" x2="500.66" y2="422" stroke="#111" stroke-width="0.9"/>
<rect x="367.6" y="353.4" width="143.3" height="72.9" fill="none" stroke="#888" stroke-width="1"/>
<line x1="367.6" y1="426.3" x2="372" y2="426.3" stroke="#111" stroke-width="1"/>
<text x="365" y="430.3" font-size="10.3" text-anchor="end">0</text>
<line x1="367.6" y1="389.85" x2="370.2" y2="389.85" stroke="#111" stroke-width="1"/>
<text x="365" y="357.4" font-size="10.3" text-anchor="end">20</text>
<line x1="367.1" y1="426.3" x2="511.4" y2="426.3" stroke="#333" stroke-width="1"/>
<line x1="367.6" y1="352.9" x2="367.6" y2="426.8" stroke="#333" stroke-width="1"/>
<text x="377.84" y="437.9" font-size="10.1" text-anchor="middle">2008</text>
<text x="418.78" y="437.9" font-size="10.1" text-anchor="middle">2012</text>
<text x="459.72" y="437.9" font-size="10.1" text-anchor="middle">2016</text>
<text x="500.66" y="437.9" font-size="10.1" text-anchor="middle">2020</text>
<text x="352.8" y="389.85" font-size="10" text-anchor="middle" transform="rotate(-90 352.8 389.85)">Index</text>
<text x="444" y="348" font-size="16.7" text-anchor="middle">Qinghuangdao</text>
<rect x="539.6" y="353.4" width="143" height="72.9" fill="#E5E5E5"/>
<rect x="546.75" y="409.88" width="6.13" height="16.42" fill="#6699FF" stroke="#000" stroke-opacity="0.8" stroke-width="0.6"/>
<rect x="546.75" y="409.54" width="6.13" height="0.34" fill="#FF9933" stroke="#000" stroke-opacity="0.8" stroke-width="0.6"/>
<rect x="546.75" y="408.06" width="6.13" height="1.48" fill="#FF0066" stroke="#000" stroke-opacity="0.8" stroke-width="0.6"/>
<rect x="546.75" y="407.71" width="6.13" height="0.35" fill="#33CC66" stroke="#000" stroke-opacity="0.8" stroke-width="0.6"/>
<rect x="556.96" y="410.68" width="6.13" height="15.62" fill="#6699FF" stroke="#000" stroke-opacity="0.8" stroke-width="0.6"/>
<rect x="556.96" y="410.33" width="6.13" height="0.35" fill="#FF9933" stroke="#000" stroke-opacity="0.8" stroke-width="0.6"/>
<rect x="556.96" y="408.63" width="6.13" height="1.7" fill="#FF0066" stroke="#000" stroke-opacity="0.8" stroke-width="0.6"/>
<rect x="556.96" y="408.28" width="6.13" height="0.35" fill="#33CC66" stroke="#000" stroke-opacity="0.8" stroke-width="0.6"/>
<rect x="567.18" y="407.49" width="6.13" height="18.81" fill="#6699FF" stroke="#000" stroke-opacity="0.8" stroke-width="0.6"/>
<rect x="567.18" y="407.14" width="6.13" height="0.35" fill="#FF9933" stroke="#000" stroke-opacity="0.8" stroke-width="0.6"/>
<rect x="567.18" y="404.64" width="6.13" height="2.5" fill="#FF0066" stroke="#000" stroke-opacity="0.8" stroke-width="0.6"/>
<rect x="567.18" y="404.18" width="6.13" height="0.46" fill="#33CC66" stroke="#000" stroke-opacity="0.8" stroke-width="0.6"/>
<rect x="577.39" y="406.12" width="6.13" height="20.18" fill="#6699FF" stroke="#000" stroke-opacity="0.8" stroke-width="0.6"/>
<rect x="577.39" y="404.64" width="6.13" height="1.48" fill="#FF9933" stroke="#000" stroke-opacity="0.8" stroke-width="0.6"/>
<rect x="577.39" y="400.99" width="6.13" height="3.65" fill="#FF0066" stroke="#000" stroke-opacity="0.8" stroke-width="0.6"/>
<rect x="577.39" y="398.14" width="6.13" height="2.85" fill="#33CC66" stroke="#000" stroke-opacity="0.8" stroke-width="0.6"/>
<rect x="587.61" y="403.61" width="6.13" height="22.69" fill="#6699FF" stroke="#000" stroke-opacity="0.8" stroke-width="0.6"/>
<rect x="587.61" y="401.79" width="6.13" height="1.82" fill="#FF9933" stroke="#000" stroke-opacity="0.8" stroke-width="0.6"/>
<rect x="587.61" y="398.37" width="6.13" height="3.42" fill="#FF0066" stroke="#000" stroke-opacity="0.8" stroke-width="0.6"/>
<rect x="587.61" y="393.24" width="6.13" height="5.13" fill="#33CC66" stroke="#000" stroke-opacity="0.8" stroke-width="0.6"/>
<rect x="597.82" y="408.63" width="6.13" height="17.67" fill="#6699FF" stroke="#000" stroke-opacity="0.8" stroke-width="0.6"/>
<rect x="597.82" y="408.28" width="6.13" height="0.35" fill="#FF9933" stroke="#000" stroke-opacity="0.8" stroke-width="0.6"/>
<rect x="597.82" y="404.64" width="6.13" height="3.64" fill="#FF0066" stroke="#000" stroke-opacity="0.8" stroke-width="0.6"/>
<rect x="597.82" y="399.28" width="6.13" height="5.36" fill="#33CC66" stroke="#000" stroke-opacity="0.8" stroke-width="0.6"/>
<rect x="608.04" y="410.68" width="6.13" height="15.62" fill="#6699FF" stroke="#000" stroke-opacity="0.8" stroke-width="0.6"/>
<rect x="608.04" y="410.33" width="6.13" height="0.35" fill="#FF9933" stroke="#000" stroke-opacity="0.8" stroke-width="0.6"/>
<rect x="608.04" y="406.12" width="6.13" height="4.21" fill="#FF0066" stroke="#000" stroke-opacity="0.8" stroke-width="0.6"/>
<rect x="608.04" y="401.22" width="6.13" height="4.9" fill="#33CC66" stroke="#000" stroke-opacity="0.8" stroke-width="0.6"/>
<rect x="618.25" y="413.52" width="6.13" height="12.78" fill="#6699FF" stroke="#000" stroke-opacity="0.8" stroke-width="0.6"/>
<rect x="618.25" y="413.18" width="6.13" height="0.34" fill="#FF9933" stroke="#000" stroke-opacity="0.8" stroke-width="0.6"/>
<rect x="618.25" y="408.74" width="6.13" height="4.44" fill="#FF0066" stroke="#000" stroke-opacity="0.8" stroke-width="0.6"/>
<rect x="618.25" y="404.07" width="6.13" height="4.67" fill="#33CC66" stroke="#000" stroke-opacity="0.8" stroke-width="0.6"/>
<rect x="628.46" y="413.87" width="6.13" height="12.43" fill="#6699FF" stroke="#000" stroke-opacity="0.8" stroke-width="0.6"/>
<rect x="628.46" y="413.52" width="6.13" height="0.35" fill="#FF9933" stroke="#000" stroke-opacity="0.8" stroke-width="0.6"/>
<rect x="628.46" y="409.31" width="6.13" height="4.21" fill="#FF0066" stroke="#000" stroke-opacity="0.8" stroke-width="0.6"/>
<rect x="628.46" y="404.41" width="6.13" height="4.9" fill="#33CC66" stroke="#000" stroke-opacity="0.8" stroke-width="0.6"/>
<rect x="638.68" y="410.45" width="6.13" height="15.85" fill="#6699FF" stroke="#000" stroke-opacity="0.8" stroke-width="0.6"/>
<rect x="638.68" y="410.11" width="6.13" height="0.34" fill="#FF9933" stroke="#000" stroke-opacity="0.8" stroke-width="0.6"/>
<rect x="638.68" y="405.89" width="6.13" height="4.22" fill="#FF0066" stroke="#000" stroke-opacity="0.8" stroke-width="0.6"/>
<rect x="638.68" y="398.37" width="6.13" height="7.52" fill="#33CC66" stroke="#000" stroke-opacity="0.8" stroke-width="0.6"/>
<rect x="648.89" y="407.03" width="6.13" height="19.27" fill="#6699FF" stroke="#000" stroke-opacity="0.8" stroke-width="0.6"/>
<rect x="648.89" y="406.69" width="6.13" height="0.34" fill="#FF9933" stroke="#000" stroke-opacity="0.8" stroke-width="0.6"/>
<rect x="648.89" y="402.36" width="6.13" height="4.33" fill="#FF0066" stroke="#000" stroke-opacity="0.8" stroke-width="0.6"/>
<rect x="648.89" y="395.29" width="6.13" height="7.07" fill="#33CC66" stroke="#000" stroke-opacity="0.8" stroke-width="0.6"/>
<rect x="659.11" y="404.64" width="6.13" height="21.66" fill="#6699FF" stroke="#000" stroke-opacity="0.8" stroke-width="0.6"/>
<rect x="659.11" y="404.3" width="6.13" height="0.34" fill="#FF9933" stroke="#000" stroke-opacity="0.8" stroke-width="0.6"/>
<rect x="659.11" y="400.42" width="6.13" height="3.88" fill="#FF0066" stroke="#000" stroke-opacity="0.8" stroke-width="0.6"/>
<rect x="659.11" y="392.79" width="6.13" height="7.63" fill="#33CC66" stroke="#000" stroke-opacity="0.8" stroke-width="0.6"/>
<rect x="669.32" y="404.64" width="6.13" height="21.66" fill="#6699FF" stroke="#000" stroke-opacity="0.8" stroke-width="0.6"/>
<rect x="669.32" y="404.3" width="6.13" height="0.34" fill="#FF9933" stroke="#000" stroke-opacity="0.8" stroke-width="0.6"/>
<rect x="669.32" y="400.42" width="6.13" height="3.88" fill="#FF0066" stroke="#000" stroke-opacity="0.8" stroke-width="0.6"/>
<rect x="669.32" y="393.24" width="6.13" height="7.18" fill="#33CC66" stroke="#000" stroke-opacity="0.8" stroke-width="0.6"/>
<line x1="549.81" y1="426.3" x2="549.81" y2="422" stroke="#111" stroke-width="0.9"/>
<line x1="570.24" y1="426.3" x2="570.24" y2="422" stroke="#111" stroke-width="0.9"/>
<line x1="590.67" y1="426.3" x2="590.67" y2="422" stroke="#111" stroke-width="0.9"/>
<line x1="611.1" y1="426.3" x2="611.1" y2="422" stroke="#111" stroke-width="0.9"/>
<line x1="631.53" y1="426.3" x2="631.53" y2="422" stroke="#111" stroke-width="0.9"/>
<line x1="651.96" y1="426.3" x2="651.96" y2="422" stroke="#111" stroke-width="0.9"/>
<line x1="672.39" y1="426.3" x2="672.39" y2="422" stroke="#111" stroke-width="0.9"/>
<rect x="539.6" y="353.4" width="143" height="72.9" fill="none" stroke="#888" stroke-width="1"/>
<line x1="539.6" y1="426.3" x2="544" y2="426.3" stroke="#111" stroke-width="1"/>
<text x="537" y="430.3" font-size="10.3" text-anchor="end">0</text>
<line x1="539.6" y1="389.85" x2="542.2" y2="389.85" stroke="#111" stroke-width="1"/>
<text x="537" y="357.4" font-size="10.3" text-anchor="end">20</text>
<line x1="539.1" y1="426.3" x2="683.1" y2="426.3" stroke="#333" stroke-width="1"/>
<line x1="539.6" y1="352.9" x2="539.6" y2="426.8" stroke="#333" stroke-width="1"/>
<text x="549.81" y="437.9" font-size="10.1" text-anchor="middle">2008</text>
<text x="590.67" y="437.9" font-size="10.1" text-anchor="middle">2012</text>
<text x="631.53" y="437.9" font-size="10.1" text-anchor="middle">2016</text>
<text x="672.39" y="437.9" font-size="10.1" text-anchor="middle">2020</text>
<text x="524.8" y="389.85" font-size="10" text-anchor="middle" transform="rotate(-90 524.8 389.85)">Index</text>
<text x="614.9" y="348" font-size="16.7" text-anchor="middle">Zhoushan</text>
<rect x="24.3" y="465.4" width="143.1" height="73" fill="#E5E5E5"/>
<rect x="31.46" y="528.94" width="6.13" height="9.46" fill="#6699FF" stroke="#000" stroke-opacity="0.8" stroke-width="0.6"/>
<rect x="31.46" y="528.6" width="6.13" height="0.34" fill="#FF9933" stroke="#000" stroke-opacity="0.8" stroke-width="0.6"/>
<rect x="31.46" y="528.26" width="6.13" height="0.34" fill="#FF0066" stroke="#000" stroke-opacity="0.8" stroke-width="0.6"/>
<rect x="31.46" y="523.25" width="6.13" height="5.01" fill="#33CC66" stroke="#000" stroke-opacity="0.8" stroke-width="0.6"/>
<rect x="41.68" y="529.74" width="6.13" height="8.66" fill="#6699FF" stroke="#000" stroke-opacity="0.8" stroke-width="0.6"/>
<rect x="41.68" y="529.4" width="6.13" height="0.34" fill="#FF9933" stroke="#000" stroke-opacity="0.8" stroke-width="0.6"/>
<rect x="41.68" y="529.06" width="6.13" height="0.34" fill="#FF0066" stroke="#000" stroke-opacity="0.8" stroke-width="0.6"/>
<rect x="41.68" y="524.04" width="6.13" height="5.02" fill="#33CC66" stroke="#000" stroke-opacity="0.8" stroke-width="0.6"/>
<rect x="51.9" y="528.71" width="6.13" height="9.69" fill="#6699FF" stroke="#000" stroke-opacity="0.8" stroke-width="0.6"/>
<rect x="51.9" y="528.37" width="6.13" height="0.34" fill="#FF9933" stroke="#000" stroke-opacity="0.8" stroke-width="0.6"/>
<rect x="51.9" y="528.03" width="6.13" height="0.34" fill="#FF0066" stroke="#000" stroke-opacity="0.8" stroke-width="0.6"/>
<rect x="51.9" y="523.13" width="6.13" height="4.9" fill="#33CC66" stroke="#000" stroke-opacity="0.8" stroke-width="0.6"/>
<rect x="62.12" y="527.8" width="6.13" height="10.6" fill="#6699FF" stroke="#000" stroke-opacity="0.8" stroke-width="0.6"/>
<rect x="62.12" y="527.23" width="6.13" height="0.57" fill="#FF9933" stroke="#000" stroke-opacity="0.8" stroke-width="0.6"/>
<rect x="62.12" y="526.66" width="6.13" height="0.57" fill="#FF0066" stroke="#000" stroke-opacity="0.8" stroke-width="0.6"/>
<rect x="62.12" y="521.88" width="6.13" height="4.78" fill="#33CC66" stroke="#000" stroke-opacity="0.8" stroke-width="0.6"/>
<rect x="72.34" y="532.02" width="6.13" height="6.38" fill="#6699FF" stroke="#000" stroke-opacity="0.8" stroke-width="0.6"/>
<rect x="72.34" y="530.42" width="6.13" height="1.6" fill="#FF9933" stroke="#000" stroke-opacity="0.8" stroke-width="0.6"/>
<rect x="72.34" y="529.85" width="6.13" height="0.57" fill="#FF0066" stroke="#000" stroke-opacity="0.8" stroke-width="0.6"/>
<rect x="72.34" y="524.39" width="6.13" height="5.46" fill="#33CC66" stroke="#000" stroke-opacity="0.8" stroke-width="0.6"/>
<rect x="82.56" y="532.36" width="6.13" height="6.04" fill="#6699FF" stroke="#000" stroke-opacity="0.8" stroke-width="0.6"/>
<rect x="82.56" y="530.99" width="6.13" height="1.37" fill="#FF9933" stroke="#000" stroke-opacity="0.8" stroke-width="0.6"/>
<rect x="82.56" y="530.31" width="6.13" height="0.68" fill="#FF0066" stroke="#000" stroke-opacity="0.8" stroke-width="0.6"/>
<rect x="82.56" y="525.18" width="6.13" height="5.13" fill="#33CC66" stroke="#000" stroke-opacity="0.8" stroke-width="0.6"/>
<rect x="92.78" y="532.36" width="6.13" height="6.04" fill="#6699FF" stroke="#000" stroke-opacity="0.8" stroke-width="0.6"/>
<rect x="92.78" y="530.99" width="6.13" height="1.37" fill="#FF9933" stroke="#000" stroke-opacity="0.8" stroke-width="0.6"/>
<rect x="92.78" y="530.31" width="6.13" height="0.68" fill="#FF0066" stroke="#000" stroke-opacity="0.8" stroke-width="0.6"/>
<rect x="92.78" y="525.18" width="6.13" height="5.13" fill="#33CC66" stroke="#000" stroke-opacity="0.8" stroke-width="0.6"/>
<rect x="103" y="532.36" width="6.13" height="6.04" fill="#6699FF" stroke="#000" stroke-opacity="0.8" stroke-width="0.6"/>
<rect x="103" y="530.88" width="6.13" height="1.48" fill="#FF9933" stroke="#000" stroke-opacity="0.8" stroke-width="0.6"/>
<rect x="103" y="530.08" width="6.13" height="0.8" fill="#FF0066" stroke="#000" stroke-opacity="0.8" stroke-width="0.6"/>
<rect x="103" y="525.3" width="6.13" height="4.78" fill="#33CC66" stroke="#000" stroke-opacity="0.8" stroke-width="0.6"/>
<rect x="113.23" y="534.07" width="6.13" height="4.33" fill="#6699FF" stroke="#000" stroke-opacity="0.8" stroke-width="0.6"/>
<rect x="113.23" y="532.93" width="6.13" height="1.14" fill="#FF9933" stroke="#000" stroke-opacity="0.8" stroke-width="0.6"/>
<rect x="113.23" y="532.36" width="6.13" height="0.57" fill="#FF0066" stroke="#000" stroke-opacity="0.8" stroke-width="0.6"/>
<rect x="113.23" y="527.23" width="6.13" height="5.13" fill="#33CC66" stroke="#000" stroke-opacity="0.8" stroke-width="0.6"/>
<rect x="123.45" y="532.93" width="6.13" height="5.47" fill="#6699FF" stroke="#000" stroke-opacity="0.8" stroke-width="0.6"/>
<rect x="123.45" y="531.22" width="6.13" height="1.71" fill="#FF9933" stroke="#000" stroke-opacity="0.8" stroke-width="0.6"/>
<rect x="123.45" y="530.65" width="6.13" height="0.57" fill="#FF0066" stroke="#000" stroke-opacity="0.8" stroke-width="0.6"/>
<rect x="123.45" y="525.87" width="6.13" height="4.78" fill="#33CC66" stroke="#000" stroke-opacity="0.8" stroke-width="0.6"/>
<rect x="133.67" y="534.98" width="6.13" height="3.42" fill="#6699FF" stroke="#000" stroke-opacity="0.8" stroke-width="0.6"/>
<rect x="133.67" y="533.73" width="6.13" height="1.25" fill="#FF9933" stroke="#000" stroke-opacity="0.8" stroke-width="0.6"/>
<rect x="133.67" y="533.16" width="6.13" height="0.57" fill="#FF0066" stroke="#000" stroke-opacity="0.8" stroke-width="0.6"/>
<rect x="133.67" y="528.03" width="6.13" height="5.13" fill="#33CC66" stroke="#000" stroke-opacity="0.8" stroke-width="0.6"/>
<rect x="143.89" y="535.21" width="6.13" height="3.19" fill="#6699FF" stroke="#000" stroke-opacity="0.8" stroke-width="0.6"/>
<rect x="143.89" y="532.93" width="6.13" height="2.28" fill="#FF9933" stroke="#000" stroke-opacity="0.8" stroke-width="0.6"/>
<rect x="143.89" y="532.36" width="6.13" height="0.57" fill="#FF0066" stroke="#000" stroke-opacity="0.8" stroke-width="0.6"/>
<rect x="143.89" y="525.52" width="6.13" height="6.84" fill="#33CC66" stroke="#000" stroke-opacity="0.8" stroke-width="0.6"/>
<rect x="154.11" y="535.55" width="6.13" height="2.85" fill="#6699FF" stroke="#000" stroke-opacity="0.8" stroke-width="0.6"/>
<rect x="154.11" y="534.07" width="6.13" height="1.48" fill="#FF9933" stroke="#000" stroke-opacity="0.8" stroke-width="0.6"/>
<rect x="154.11" y="533.27" width="6.13" height="0.8" fill="#FF0066" stroke="#000" stroke-opacity="0.8" stroke-width="0.6"/>
<rect x="154.11" y="523.59" width="6.13" height="9.68" fill="#33CC66" stroke="#000" stroke-opacity="0.8" stroke-width="0.6"/>
<line x1="34.52" y1="538.4" x2="34.52" y2="534.1" stroke="#111" stroke-width="0.9"/>
<line x1="54.96" y1="538.4" x2="54.96" y2="534.1" stroke="#111" stroke-width="0.9"/>
<line x1="75.41" y1="538.4" x2="75.41" y2="534.1" stroke="#111" stroke-width="0.9"/>
<line x1="95.85" y1="538.4" x2="95.85" y2="534.1" stroke="#111" stroke-width="0.9"/>
<line x1="116.29" y1="538.4" x2="116.29" y2="534.1" stroke="#111" stroke-width="0.9"/>
<line x1="136.74" y1="538.4" x2="136.74" y2="534.1" stroke="#111" stroke-width="0.9"/>
<line x1="157.18" y1="538.4" x2="157.18" y2="534.1" stroke="#111" stroke-width="0.9"/>
<rect x="24.3" y="465.4" width="143.1" height="73" fill="none" stroke="#888" stroke-width="1"/>
<line x1="24.3" y1="538.4" x2="28.7" y2="538.4" stroke="#111" stroke-width="1"/>
<text x="21.7" y="542.4" font-size="10.3" text-anchor="end">0</text>
<line x1="24.3" y1="501.9" x2="26.9" y2="501.9" stroke="#111" stroke-width="1"/>
<text x="21.7" y="469.4" font-size="10.3" text-anchor="end">20</text>
<line x1="23.8" y1="538.4" x2="167.9" y2="538.4" stroke="#333" stroke-width="1"/>
<line x1="24.3" y1="464.9" x2="24.3" y2="538.9" stroke="#333" stroke-width="1"/>
<text x="34.52" y="550" font-size="10.1" text-anchor="middle">2008</text>
<text x="75.41" y="550" font-size="10.1" text-anchor="middle">2012</text>
<text x="116.29" y="550" font-size="10.1" text-anchor="middle">2016</text>
<text x="157.18" y="550" font-size="10.1" text-anchor="middle">2020</text>
<text x="9.5" y="501.9" font-size="10" text-anchor="middle" transform="rotate(-90 9.5 501.9)">Index</text>
<text x="90.9" y="459.5" font-size="16.7" text-anchor="middle">Shantou</text>
<rect x="196.6" y="465.4" width="143" height="73" fill="#E5E5E5"/>
<rect x="203.75" y="527.58" width="6.13" height="10.82" fill="#6699FF" stroke="#000" stroke-opacity="0.8" stroke-width="0.6"/>
<rect x="203.75" y="527.23" width="6.13" height="0.35" fill="#FF9933" stroke="#000" stroke-opacity="0.8" stroke-width="0.6"/>
<rect x="203.75" y="526.89" width="6.13" height="0.34" fill="#FF0066" stroke="#000" stroke-opacity="0.8" stroke-width="0.6"/>
<rect x="203.75" y="524.73" width="6.13" height="2.16" fill="#33CC66" stroke="#000" stroke-opacity="0.8" stroke-width="0.6"/>
<rect x="213.96" y="528.6" width="6.13" height="9.8" fill="#6699FF" stroke="#000" stroke-opacity="0.8" stroke-width="0.6"/>
<rect x="213.96" y="528.26" width="6.13" height="0.34" fill="#FF9933" stroke="#000" stroke-opacity="0.8" stroke-width="0.6"/>
<rect x="213.96" y="527.92" width="6.13" height="0.34" fill="#FF0066" stroke="#000" stroke-opacity="0.8" stroke-width="0.6"/>
<rect x="213.96" y="525.75" width="6.13" height="2.17" fill="#33CC66" stroke="#000" stroke-opacity="0.8" stroke-width="0.6"/>
<rect x="224.18" y="527.23" width="6.13" height="11.17" fill="#6699FF" stroke="#000" stroke-opacity="0.8" stroke-width="0.6"/>
<rect x="224.18" y="526.66" width="6.13" height="0.57" fill="#FF9933" stroke="#000" stroke-opacity="0.8" stroke-width="0.6"/>
<rect x="224.18" y="526.09" width="6.13" height="0.57" fill="#FF0066" stroke="#000" stroke-opacity="0.8" stroke-width="0.6"/>
<rect x="224.18" y="521.54" width="6.13" height="4.55" fill="#33CC66" stroke="#000" stroke-opacity="0.8" stroke-width="0.6"/>
<rect x="234.39" y="525.3" width="6.13" height="13.1" fill="#6699FF" stroke="#000" stroke-opacity="0.8" stroke-width="0.6"/>
<rect x="234.39" y="524.73" width="6.13" height="0.57" fill="#FF9933" stroke="#000" stroke-opacity="0.8" stroke-width="0.6"/>
<rect x="234.39" y="524.16" width="6.13" height="0.57" fill="#FF0066" stroke="#000" stroke-opacity="0.8" stroke-width="0.6"/>
<rect x="234.39" y="519.49" width="6.13" height="4.67" fill="#33CC66" stroke="#000" stroke-opacity="0.8" stroke-width="0.6"/>
<rect x="244.61" y="523.59" width="6.13" height="14.81" fill="#6699FF" stroke="#000" stroke-opacity="0.8" stroke-width="0.6"/>
<rect x="244.61" y="523.02" width="6.13" height="0.57" fill="#FF9933" stroke="#000" stroke-opacity="0.8" stroke-width="0.6"/>
<rect x="244.61" y="522.33" width="6.13" height="0.69" fill="#FF0066" stroke="#000" stroke-opacity="0.8" stroke-width="0.6"/>
<rect x="244.61" y="515.5" width="6.13" height="6.83" fill="#33CC66" stroke="#000" stroke-opacity="0.8" stroke-width="0.6"/>
<rect x="254.82" y="524.39" width="6.13" height="14.01" fill="#6699FF" stroke="#000" stroke-opacity="0.8" stroke-width="0.6"/>
<rect x="254.82" y="523.82" width="6.13" height="0.57" fill="#FF9933" stroke="#000" stroke-opacity="0.8" stroke-width="0.6"/>
<rect x="254.82" y="523.25" width="6.13" height="0.57" fill="#FF0066" stroke="#000" stroke-opacity="0.8" stroke-width="0.6"/>
<rect x="254.82" y="516.41" width="6.13" height="6.84" fill="#33CC66" stroke="#000" stroke-opacity="0.8" stroke-width="0.6"/>
<rect x="265.04" y="524.61" width="6.13" height="13.79" fill="#6699FF" stroke="#000" stroke-opacity="0.8" stroke-width="0.6"/>
<rect x="265.04" y="524.04" width="6.13" height="0.57" fill="#FF9933" stroke="#000" stroke-opacity="0.8" stroke-width="0.6"/>
<rect x="265.04" y="523.47" width="6.13" height="0.57" fill="#FF0066" stroke="#000" stroke-opacity="0.8" stroke-width="0.6"/>
<rect x="265.04" y="516.41" width="6.13" height="7.06" fill="#33CC66" stroke="#000" stroke-opacity="0.8" stroke-width="0.6"/>
<rect x="275.25" y="525.52" width="6.13" height="12.88" fill="#6699FF" stroke="#000" stroke-opacity="0.8" stroke-width="0.6"/>
<rect x="275.25" y="524.95" width="6.13" height="0.57" fill="#FF9933" stroke="#000" stroke-opacity="0.8" stroke-width="0.6"/>
<rect x="275.25" y="524.39" width="6.13" height="0.56" fill="#FF0066" stroke="#000" stroke-opacity="0.8" stroke-width="0.6"/>
<rect x="275.25" y="517.32" width="6.13" height="7.07" fill="#33CC66" stroke="#000" stroke-opacity="0.8" stroke-width="0.6"/>
<rect x="285.46" y="529.17" width="6.13" height="9.23" fill="#6699FF" stroke="#000" stroke-opacity="0.8" stroke-width="0.6"/>
<rect x="285.46" y="528.6" width="6.13" height="0.57" fill="#FF9933" stroke="#000" stroke-opacity="0.8" stroke-width="0.6"/>
<rect x="285.46" y="528.03" width="6.13" height="0.57" fill="#FF0066" stroke="#000" stroke-opacity="0.8" stroke-width="0.6"/>
<rect x="285.46" y="521.19" width="6.13" height="6.84" fill="#33CC66" stroke="#000" stroke-opacity="0.8" stroke-width="0.6"/>
<rect x="295.68" y="532.36" width="6.13" height="6.04" fill="#6699FF" stroke="#000" stroke-opacity="0.8" stroke-width="0.6"/>
<rect x="295.68" y="531.79" width="6.13" height="0.57" fill="#FF9933" stroke="#000" stroke-opacity="0.8" stroke-width="0.6"/>
<rect x="295.68" y="531.22" width="6.13" height="0.57" fill="#FF0066" stroke="#000" stroke-opacity="0.8" stroke-width="0.6"/>
<rect x="295.68" y="524.16" width="6.13" height="7.06" fill="#33CC66" stroke="#000" stroke-opacity="0.8" stroke-width="0.6"/>
<rect x="305.89" y="528.03" width="6.13" height="10.37" fill="#6699FF" stroke="#000" stroke-opacity="0.8" stroke-width="0.6"/>
<rect x="305.89" y="527.46" width="6.13" height="0.57" fill="#FF9933" stroke="#000" stroke-opacity="0.8" stroke-width="0.6"/>
<rect x="305.89" y="526.66" width="6.13" height="0.8" fill="#FF0066" stroke="#000" stroke-opacity="0.8" stroke-width="0.6"/>
<rect x="305.89" y="519.6" width="6.13" height="7.06" fill="#33CC66" stroke="#000" stroke-opacity="0.8" stroke-width="0.6"/>
<rect x="316.11" y="534.87" width="6.13" height="3.53" fill="#6699FF" stroke="#000" stroke-opacity="0.8" stroke-width="0.6"/>
<rect x="316.11" y="534.3" width="6.13" height="0.57" fill="#FF9933" stroke="#000" stroke-opacity="0.8" stroke-width="0.6"/>
<rect x="316.11" y="533.73" width="6.13" height="0.57" fill="#FF0066" stroke="#000" stroke-opacity="0.8" stroke-width="0.6"/>
<rect x="316.11" y="524.39" width="6.13" height="9.34" fill="#33CC66" stroke="#000" stroke-opacity="0.8" stroke-width="0.6"/>
<rect x="326.32" y="532.7" width="6.13" height="5.7" fill="#6699FF" stroke="#000" stroke-opacity="0.8" stroke-width="0.6"/>
<rect x="326.32" y="532.13" width="6.13" height="0.57" fill="#FF9933" stroke="#000" stroke-opacity="0.8" stroke-width="0.6"/>
<rect x="326.32" y="531.79" width="6.13" height="0.34" fill="#FF0066" stroke="#000" stroke-opacity="0.8" stroke-width="0.6"/>
<rect x="326.32" y="520.17" width="6.13" height="11.62" fill="#33CC66" stroke="#000" stroke-opacity="0.8" stroke-width="0.6"/>
<line x1="206.81" y1="538.4" x2="206.81" y2="534.1" stroke="#111" stroke-width="0.9"/>
<line x1="227.24" y1="538.4" x2="227.24" y2="534.1" stroke="#111" stroke-width="0.9"/>
<line x1="247.67" y1="538.4" x2="247.67" y2="534.1" stroke="#111" stroke-width="0.9"/>
<line x1="268.1" y1="538.4" x2="268.1" y2="534.1" stroke="#111" stroke-width="0.9"/>
<line x1="288.53" y1="538.4" x2="288.53" y2="534.1" stroke="#111" stroke-width="0.9"/>
<line x1="308.96" y1="538.4" x2="308.96" y2="534.1" stroke="#111" stroke-width="0.9"/>
<line x1="329.39" y1="538.4" x2="329.39" y2="534.1" stroke="#111" stroke-width="0.9"/>
<rect x="196.6" y="465.4" width="143" height="73" fill="none" stroke="#888" stroke-width="1"/>
<line x1="196.6" y1="538.4" x2="201" y2="538.4" stroke="#111" stroke-width="1"/>
<text x="194" y="542.4" font-size="10.3" text-anchor="end">0</text>
<line x1="196.6" y1="501.9" x2="199.2" y2="501.9" stroke="#111" stroke-width="1"/>
<text x="194" y="469.4" font-size="10.3" text-anchor="end">20</text>
<line x1="196.1" y1="538.4" x2="340.1" y2="538.4" stroke="#333" stroke-width="1"/>
<line x1="196.6" y1="464.9" x2="196.6" y2="538.9" stroke="#333" stroke-width="1"/>
<text x="206.81" y="550" font-size="10.1" text-anchor="middle">2008</text>
<text x="247.67" y="550" font-size="10.1" text-anchor="middle">2012</text>
<text x="288.53" y="550" font-size="10.1" text-anchor="middle">2016</text>
<text x="329.39" y="550" font-size="10.1" text-anchor="middle">2020</text>
<text x="181.8" y="501.9" font-size="10" text-anchor="middle" transform="rotate(-90 181.8 501.9)">Index</text>
<text x="265.1" y="459.5" font-size="16.7" text-anchor="middle">Qinzhou</text>
<rect x="367.6" y="465.4" width="143.3" height="73" fill="#E5E5E5"/>
<rect x="374.76" y="530.99" width="6.14" height="7.41" fill="#6699FF" stroke="#000" stroke-opacity="0.8" stroke-width="0.6"/>
<rect x="374.76" y="530.31" width="6.14" height="0.68" fill="#FF9933" stroke="#000" stroke-opacity="0.8" stroke-width="0.6"/>
<rect x="374.76" y="527.8" width="6.14" height="2.51" fill="#FF0066" stroke="#000" stroke-opacity="0.8" stroke-width="0.6"/>
<rect x="374.76" y="525.52" width="6.14" height="2.28" fill="#33CC66" stroke="#000" stroke-opacity="0.8" stroke-width="0.6"/>
<rect x="385" y="531.79" width="6.14" height="6.61" fill="#6699FF" stroke="#000" stroke-opacity="0.8" stroke-width="0.6"/>
<rect x="385" y="529.85" width="6.14" height="1.94" fill="#FF9933" stroke="#000" stroke-opacity="0.8" stroke-width="0.6"/>
<rect x="385" y="527.8" width="6.14" height="2.05" fill="#FF0066" stroke="#000" stroke-opacity="0.8" stroke-width="0.6"/>
<rect x="385" y="525.52" width="6.14" height="2.28" fill="#33CC66" stroke="#000" stroke-opacity="0.8" stroke-width="0.6"/>
<rect x="395.24" y="531.79" width="6.14" height="6.61" fill="#6699FF" stroke="#000" stroke-opacity="0.8" stroke-width="0.6"/>
<rect x="395.24" y="529.85" width="6.14" height="1.94" fill="#FF9933" stroke="#000" stroke-opacity="0.8" stroke-width="0.6"/>
<rect x="395.24" y="527.58" width="6.14" height="2.27" fill="#FF0066" stroke="#000" stroke-opacity="0.8" stroke-width="0.6"/>
<rect x="395.24" y="525.18" width="6.14" height="2.4" fill="#33CC66" stroke="#000" stroke-opacity="0.8" stroke-width="0.6"/>
<rect x="405.47" y="532.13" width="6.14" height="6.27" fill="#6699FF" stroke="#000" stroke-opacity="0.8" stroke-width="0.6"/>
<rect x="405.47" y="530.08" width="6.14" height="2.05" fill="#FF9933" stroke="#000" stroke-opacity="0.8" stroke-width="0.6"/>
<rect x="405.47" y="527.8" width="6.14" height="2.28" fill="#FF0066" stroke="#000" stroke-opacity="0.8" stroke-width="0.6"/>
<rect x="405.47" y="525.52" width="6.14" height="2.28" fill="#33CC66" stroke="#000" stroke-opacity="0.8" stroke-width="0.6"/>
<rect x="415.71" y="531.45" width="6.14" height="6.95" fill="#6699FF" stroke="#000" stroke-opacity="0.8" stroke-width="0.6"/>
<rect x="415.71" y="529.17" width="6.14" height="2.28" fill="#FF9933" stroke="#000" stroke-opacity="0.8" stroke-width="0.6"/>
<rect x="415.71" y="527.01" width="6.14" height="2.16" fill="#FF0066" stroke="#000" stroke-opacity="0.8" stroke-width="0.6"/>
<rect x="415.71" y="524.39" width="6.14" height="2.62" fill="#33CC66" stroke="#000" stroke-opacity="0.8" stroke-width="0.6"/>
<rect x="425.94" y="531.9" width="6.14" height="6.5" fill="#6699FF" stroke="#000" stroke-opacity="0.8" stroke-width="0.6"/>
<rect x="425.94" y="530.08" width="6.14" height="1.82" fill="#FF9933" stroke="#000" stroke-opacity="0.8" stroke-width="0.6"/>
<rect x="425.94" y="527.8" width="6.14" height="2.28" fill="#FF0066" stroke="#000" stroke-opacity="0.8" stroke-width="0.6"/>
<rect x="425.94" y="525.52" width="6.14" height="2.28" fill="#33CC66" stroke="#000" stroke-opacity="0.8" stroke-width="0.6"/>
<rect x="436.18" y="532.36" width="6.14" height="6.04" fill="#6699FF" stroke="#000" stroke-opacity="0.8" stroke-width="0.6"/>
<rect x="436.18" y="529.85" width="6.14" height="2.51" fill="#FF9933" stroke="#000" stroke-opacity="0.8" stroke-width="0.6"/>
<rect x="436.18" y="527.8" width="6.14" height="2.05" fill="#FF0066" stroke="#000" stroke-opacity="0.8" stroke-width="0.6"/>
<rect x="436.18" y="525.52" width="6.14" height="2.28" fill="#33CC66" stroke="#000" stroke-opacity="0.8" stroke-width="0.6"/>
<rect x="446.41" y="533.5" width="6.14" height="4.9" fill="#6699FF" stroke="#000" stroke-opacity="0.8" stroke-width="0.6"/>
<rect x="446.41" y="530.88" width="6.14" height="2.62" fill="#FF9933" stroke="#000" stroke-opacity="0.8" stroke-width="0.6"/>
<rect x="446.41" y="527.58" width="6.14" height="3.3" fill="#FF0066" stroke="#000" stroke-opacity="0.8" stroke-width="0.6"/>
<rect x="446.41" y="524.95" width="6.14" height="2.63" fill="#33CC66" stroke="#000" stroke-opacity="0.8" stroke-width="0.6"/>
<rect x="456.65" y="534.41" width="6.14" height="3.99" fill="#6699FF" stroke="#000" stroke-opacity="0.8" stroke-width="0.6"/>
<rect x="456.65" y="531.79" width="6.14" height="2.62" fill="#FF9933" stroke="#000" stroke-opacity="0.8" stroke-width="0.6"/>
<rect x="456.65" y="528.37" width="6.14" height="3.42" fill="#FF0066" stroke="#000" stroke-opacity="0.8" stroke-width="0.6"/>
<rect x="456.65" y="525.87" width="6.14" height="2.5" fill="#33CC66" stroke="#000" stroke-opacity="0.8" stroke-width="0.6"/>
<rect x="466.89" y="533.73" width="6.14" height="4.67" fill="#6699FF" stroke="#000" stroke-opacity="0.8" stroke-width="0.6"/>
<rect x="466.89" y="530.88" width="6.14" height="2.85" fill="#FF9933" stroke="#000" stroke-opacity="0.8" stroke-width="0.6"/>
<rect x="466.89" y="527.58" width="6.14" height="3.3" fill="#FF0066" stroke="#000" stroke-opacity="0.8" stroke-width="0.6"/>
<rect x="466.89" y="524.95" width="6.14" height="2.63" fill="#33CC66" stroke="#000" stroke-opacity="0.8" stroke-width="0.6"/>
<rect x="477.12" y="532.93" width="6.14" height="5.47" fill="#6699FF" stroke="#000" stroke-opacity="0.8" stroke-width="0.6"/>
<rect x="477.12" y="530.65" width="6.14" height="2.28" fill="#FF9933" stroke="#000" stroke-opacity="0.8" stroke-width="0.6"/>
<rect x="477.12" y="527.46" width="6.14" height="3.19" fill="#FF0066" stroke="#000" stroke-opacity="0.8" stroke-width="0.6"/>
<rect x="477.12" y="524.95" width="6.14" height="2.51" fill="#33CC66" stroke="#000" stroke-opacity="0.8" stroke-width="0.6"/>
<rect x="487.36" y="531.22" width="6.14" height="7.18" fill="#6699FF" stroke="#000" stroke-opacity="0.8" stroke-width="0.6"/>
<rect x="487.36" y="529.74" width="6.14" height="1.48" fill="#FF9933" stroke="#000" stroke-opacity="0.8" stroke-width="0.6"/>
<rect x="487.36" y="526.66" width="6.14" height="3.08" fill="#FF0066" stroke="#000" stroke-opacity="0.8" stroke-width="0.6"/>
<rect x="487.36" y="521.88" width="6.14" height="4.78" fill="#33CC66" stroke="#000" stroke-opacity="0.8" stroke-width="0.6"/>
<rect x="497.59" y="532.36" width="6.14" height="6.04" fill="#6699FF" stroke="#000" stroke-opacity="0.8" stroke-width="0.6"/>
<rect x="497.59" y="531.79" width="6.14" height="0.57" fill="#FF9933" stroke="#000" stroke-opacity="0.8" stroke-width="0.6"/>
<rect x="497.59" y="528.6" width="6.14" height="3.19" fill="#FF0066" stroke="#000" stroke-opacity="0.8" stroke-width="0.6"/>
<rect x="497.59" y="521.54" width="6.14" height="7.06" fill="#33CC66" stroke="#000" stroke-opacity="0.8" stroke-width="0.6"/>
<line x1="377.84" y1="538.4" x2="377.84" y2="534.1" stroke="#111" stroke-width="0.9"/>
<line x1="398.31" y1="538.4" x2="398.31" y2="534.1" stroke="#111" stroke-width="0.9"/>
<line x1="418.78" y1="538.4" x2="418.78" y2="534.1" stroke="#111" stroke-width="0.9"/>
<line x1="439.25" y1="538.4" x2="439.25" y2="534.1" stroke="#111" stroke-width="0.9"/>
<line x1="459.72" y1="538.4" x2="459.72" y2="534.1" stroke="#111" stroke-width="0.9"/>
<line x1="480.19" y1="538.4" x2="480.19" y2="534.1" stroke="#111" stroke-width="0.9"/>
<line x1="500.66" y1="538.4" x2="500.66" y2="534.1" stroke="#111" stroke-width="0.9"/>
<rect x="367.6" y="465.4" width="143.3" height="73" fill="none" stroke="#888" stroke-width="1"/>
<line x1="367.6" y1="538.4" x2="372" y2="538.4" stroke="#111" stroke-width="1"/>
<text x="365" y="542.4" font-size="10.3" text-anchor="end">0</text>
<line x1="367.6" y1="501.9" x2="370.2" y2="501.9" stroke="#111" stroke-width="1"/>
<text x="365" y="469.4" font-size="10.3" text-anchor="end">20</text>
<line x1="367.1" y1="538.4" x2="511.4" y2="538.4" stroke="#333" stroke-width="1"/>
<line x1="367.6" y1="464.9" x2="367.6" y2="538.9" stroke="#333" stroke-width="1"/>
<text x="377.84" y="550" font-size="10.1" text-anchor="middle">2008</text>
<text x="418.78" y="550" font-size="10.1" text-anchor="middle">2012</text>
<text x="459.72" y="550" font-size="10.1" text-anchor="middle">2016</text>
<text x="500.66" y="550" font-size="10.1" text-anchor="middle">2020</text>
<text x="352.8" y="501.9" font-size="10" text-anchor="middle" transform="rotate(-90 352.8 501.9)">Index</text>
<text x="444.75" y="459.5" font-size="16.7" text-anchor="middle">Wenzhou</text>
<rect x="539.6" y="465.4" width="143" height="73" fill="#E5E5E5"/>
<rect x="546.75" y="528.03" width="6.13" height="10.37" fill="#6699FF" stroke="#000" stroke-opacity="0.8" stroke-width="0.6"/>
<rect x="546.75" y="527.8" width="6.13" height="0.23" fill="#FF9933" stroke="#000" stroke-opacity="0.8" stroke-width="0.6"/>
<rect x="546.75" y="527.35" width="6.13" height="0.45" fill="#FF0066" stroke="#000" stroke-opacity="0.8" stroke-width="0.6"/>
<rect x="546.75" y="527.01" width="6.13" height="0.34" fill="#33CC66" stroke="#000" stroke-opacity="0.8" stroke-width="0.6"/>
<rect x="556.96" y="528.37" width="6.13" height="10.03" fill="#6699FF" stroke="#000" stroke-opacity="0.8" stroke-width="0.6"/>
<rect x="556.96" y="528.14" width="6.13" height="0.23" fill="#FF9933" stroke="#000" stroke-opacity="0.8" stroke-width="0.6"/>
<rect x="556.96" y="527.69" width="6.13" height="0.45" fill="#FF0066" stroke="#000" stroke-opacity="0.8" stroke-width="0.6"/>
<rect x="556.96" y="527.23" width="6.13" height="0.46" fill="#33CC66" stroke="#000" stroke-opacity="0.8" stroke-width="0.6"/>
<rect x="567.18" y="527.8" width="6.13" height="10.6" fill="#6699FF" stroke="#000" stroke-opacity="0.8" stroke-width="0.6"/>
<rect x="567.18" y="527.46" width="6.13" height="0.34" fill="#FF9933" stroke="#000" stroke-opacity="0.8" stroke-width="0.6"/>
<rect x="567.18" y="526.44" width="6.13" height="1.02" fill="#FF0066" stroke="#000" stroke-opacity="0.8" stroke-width="0.6"/>
<rect x="567.18" y="524.16" width="6.13" height="2.28" fill="#33CC66" stroke="#000" stroke-opacity="0.8" stroke-width="0.6"/>
<rect x="577.39" y="526.66" width="6.13" height="11.74" fill="#6699FF" stroke="#000" stroke-opacity="0.8" stroke-width="0.6"/>
<rect x="577.39" y="526.32" width="6.13" height="0.34" fill="#FF9933" stroke="#000" stroke-opacity="0.8" stroke-width="0.6"/>
<rect x="577.39" y="524.95" width="6.13" height="1.37" fill="#FF0066" stroke="#000" stroke-opacity="0.8" stroke-width="0.6"/>
<rect x="577.39" y="522.68" width="6.13" height="2.27" fill="#33CC66" stroke="#000" stroke-opacity="0.8" stroke-width="0.6"/>
<rect x="587.61" y="525.52" width="6.13" height="12.88" fill="#6699FF" stroke="#000" stroke-opacity="0.8" stroke-width="0.6"/>
<rect x="587.61" y="525.18" width="6.13" height="0.34" fill="#FF9933" stroke="#000" stroke-opacity="0.8" stroke-width="0.6"/>
<rect x="587.61" y="523.47" width="6.13" height="1.71" fill="#FF0066" stroke="#000" stroke-opacity="0.8" stroke-width="0.6"/>
<rect x="587.61" y="518.69" width="6.13" height="4.78" fill="#33CC66" stroke="#000" stroke-opacity="0.8" stroke-width="0.6"/>
<rect x="597.82" y="530.08" width="6.13" height="8.32" fill="#6699FF" stroke="#000" stroke-opacity="0.8" stroke-width="0.6"/>
<rect x="597.82" y="529.74" width="6.13" height="0.34" fill="#FF9933" stroke="#000" stroke-opacity="0.8" stroke-width="0.6"/>
<rect x="597.82" y="528.14" width="6.13" height="1.6" fill="#FF0066" stroke="#000" stroke-opacity="0.8" stroke-width="0.6"/>
<rect x="597.82" y="523.47" width="6.13" height="4.67" fill="#33CC66" stroke="#000" stroke-opacity="0.8" stroke-width="0.6"/>
<rect x="608.04" y="532.7" width="6.13" height="5.7" fill="#6699FF" stroke="#000" stroke-opacity="0.8" stroke-width="0.6"/>
<rect x="608.04" y="532.36" width="6.13" height="0.34" fill="#FF9933" stroke="#000" stroke-opacity="0.8" stroke-width="0.6"/>
<rect x="608.04" y="530.65" width="6.13" height="1.71" fill="#FF0066" stroke="#000" stroke-opacity="0.8" stroke-width="0.6"/>
<rect x="608.04" y="526.09" width="6.13" height="4.56" fill="#33CC66" stroke="#000" stroke-opacity="0.8" stroke-width="0.6"/>
<rect x="618.25" y="533.84" width="6.13" height="4.56" fill="#6699FF" stroke="#000" stroke-opacity="0.8" stroke-width="0.6"/>
<rect x="618.25" y="533.5" width="6.13" height="0.34" fill="#FF9933" stroke="#000" stroke-opacity="0.8" stroke-width="0.6"/>
<rect x="618.25" y="532.02" width="6.13" height="1.48" fill="#FF0066" stroke="#000" stroke-opacity="0.8" stroke-width="0.6"/>
<rect x="618.25" y="527.23" width="6.13" height="4.79" fill="#33CC66" stroke="#000" stroke-opacity="0.8" stroke-width="0.6"/>
<rect x="628.46" y="534.41" width="6.13" height="3.99" fill="#6699FF" stroke="#000" stroke-opacity="0.8" stroke-width="0.6"/>
<rect x="628.46" y="534.07" width="6.13" height="0.34" fill="#FF9933" stroke="#000" stroke-opacity="0.8" stroke-width="0.6"/>
<rect x="628.46" y="532.36" width="6.13" height="1.71" fill="#FF0066" stroke="#000" stroke-opacity="0.8" stroke-width="0.6"/>
<rect x="628.46" y="527.8" width="6.13" height="4.56" fill="#33CC66" stroke="#000" stroke-opacity="0.8" stroke-width="0.6"/>
<rect x="638.68" y="534.64" width="6.13" height="3.76" fill="#6699FF" stroke="#000" stroke-opacity="0.8" stroke-width="0.6"/>
<rect x="638.68" y="534.3" width="6.13" height="0.34" fill="#FF9933" stroke="#000" stroke-opacity="0.8" stroke-width="0.6"/>
<rect x="638.68" y="532.7" width="6.13" height="1.6" fill="#FF0066" stroke="#000" stroke-opacity="0.8" stroke-width="0.6"/>
<rect x="638.68" y="528.14" width="6.13" height="4.56" fill="#33CC66" stroke="#000" stroke-opacity="0.8" stroke-width="0.6"/>
<rect x="648.89" y="533.73" width="6.13" height="4.67" fill="#6699FF" stroke="#000" stroke-opacity="0.8" stroke-width="0.6"/>
<rect x="648.89" y="533.39" width="6.13" height="0.34" fill="#FF9933" stroke="#000" stroke-opacity="0.8" stroke-width="0.6"/>
<rect x="648.89" y="531.79" width="6.13" height="1.6" fill="#FF0066" stroke="#000" stroke-opacity="0.8" stroke-width="0.6"/>
<rect x="648.89" y="527.01" width="6.13" height="4.78" fill="#33CC66" stroke="#000" stroke-opacity="0.8" stroke-width="0.6"/>
<rect x="659.11" y="534.07" width="6.13" height="4.33" fill="#6699FF" stroke="#000" stroke-opacity="0.8" stroke-width="0.6"/>
<rect x="659.11" y="533.73" width="6.13" height="0.34" fill="#FF9933" stroke="#000" stroke-opacity="0.8" stroke-width="0.6"/>
<rect x="659.11" y="532.13" width="6.13" height="1.6" fill="#FF0066" stroke="#000" stroke-opacity="0.8" stroke-width="0.6"/>
<rect x="659.11" y="527.23" width="6.13" height="4.9" fill="#33CC66" stroke="#000" stroke-opacity="0.8" stroke-width="0.6"/>
<rect x="669.32" y="533.73" width="6.13" height="4.67" fill="#6699FF" stroke="#000" stroke-opacity="0.8" stroke-width="0.6"/>
<rect x="669.32" y="533.39" width="6.13" height="0.34" fill="#FF9933" stroke="#000" stroke-opacity="0.8" stroke-width="0.6"/>
<rect x="669.32" y="531.79" width="6.13" height="1.6" fill="#FF0066" stroke="#000" stroke-opacity="0.8" stroke-width="0.6"/>
<rect x="669.32" y="524.95" width="6.13" height="6.84" fill="#33CC66" stroke="#000" stroke-opacity="0.8" stroke-width="0.6"/>
<line x1="549.81" y1="538.4" x2="549.81" y2="534.1" stroke="#111" stroke-width="0.9"/>
<line x1="570.24" y1="538.4" x2="570.24" y2="534.1" stroke="#111" stroke-width="0.9"/>
<line x1="590.67" y1="538.4" x2="590.67" y2="534.1" stroke="#111" stroke-width="0.9"/>
<line x1="611.1" y1="538.4" x2="611.1" y2="534.1" stroke="#111" stroke-width="0.9"/>
<line x1="631.53" y1="538.4" x2="631.53" y2="534.1" stroke="#111" stroke-width="0.9"/>
<line x1="651.96" y1="538.4" x2="651.96" y2="534.1" stroke="#111" stroke-width="0.9"/>
<line x1="672.39" y1="538.4" x2="672.39" y2="534.1" stroke="#111" stroke-width="0.9"/>
<rect x="539.6" y="465.4" width="143" height="73" fill="none" stroke="#888" stroke-width="1"/>
<line x1="539.6" y1="538.4" x2="544" y2="538.4" stroke="#111" stroke-width="1"/>
<text x="537" y="542.4" font-size="10.3" text-anchor="end">0</text>
<line x1="539.6" y1="501.9" x2="542.2" y2="501.9" stroke="#111" stroke-width="1"/>
<text x="537" y="469.4" font-size="10.3" text-anchor="end">20</text>
<line x1="539.1" y1="538.4" x2="683.1" y2="538.4" stroke="#333" stroke-width="1"/>
<line x1="539.6" y1="464.9" x2="539.6" y2="538.9" stroke="#333" stroke-width="1"/>
<text x="549.81" y="550" font-size="10.1" text-anchor="middle">2008</text>
<text x="590.67" y="550" font-size="10.1" text-anchor="middle">2012</text>
<text x="631.53" y="550" font-size="10.1" text-anchor="middle">2016</text>
<text x="672.39" y="550" font-size="10.1" text-anchor="middle">2020</text>
<text x="524.8" y="501.9" font-size="10" text-anchor="middle" transform="rotate(-90 524.8 501.9)">Index</text>
<text x="615.25" y="459.5" font-size="16.7" text-anchor="middle">Yancheng</text>
<rect x="24.3" y="576" width="143.1" height="72.8" fill="#E5E5E5"/>
<rect x="31.46" y="642.7" width="6.13" height="6.1" fill="#6699FF" stroke="#000" stroke-opacity="0.8" stroke-width="0.6"/>
<rect x="31.46" y="642.47" width="6.13" height="0.23" fill="#FF9933" stroke="#000" stroke-opacity="0.8" stroke-width="0.6"/>
<rect x="31.46" y="642.25" width="6.13" height="0.22" fill="#FF0066" stroke="#000" stroke-opacity="0.8" stroke-width="0.6"/>
<rect x="31.46" y="640.08" width="6.13" height="2.17" fill="#33CC66" stroke="#000" stroke-opacity="0.8" stroke-width="0.6"/>
<rect x="41.68" y="645.44" width="6.13" height="3.36" fill="#6699FF" stroke="#000" stroke-opacity="0.8" stroke-width="0.6"/>
<rect x="41.68" y="645.21" width="6.13" height="0.23" fill="#FF9933" stroke="#000" stroke-opacity="0.8" stroke-width="0.6"/>
<rect x="41.68" y="644.98" width="6.13" height="0.23" fill="#FF0066" stroke="#000" stroke-opacity="0.8" stroke-width="0.6"/>
<rect x="41.68" y="643.16" width="6.13" height="1.82" fill="#33CC66" stroke="#000" stroke-opacity="0.8" stroke-width="0.6"/>
<rect x="51.9" y="643.5" width="6.13" height="5.3" fill="#6699FF" stroke="#000" stroke-opacity="0.8" stroke-width="0.6"/>
<rect x="51.9" y="643.27" width="6.13" height="0.23" fill="#FF9933" stroke="#000" stroke-opacity="0.8" stroke-width="0.6"/>
<rect x="51.9" y="643.04" width="6.13" height="0.23" fill="#FF0066" stroke="#000" stroke-opacity="0.8" stroke-width="0.6"/>
<rect x="51.9" y="640.42" width="6.13" height="2.62" fill="#33CC66" stroke="#000" stroke-opacity="0.8" stroke-width="0.6"/>
<rect x="62.12" y="644.64" width="6.13" height="4.16" fill="#6699FF" stroke="#000" stroke-opacity="0.8" stroke-width="0.6"/>
<rect x="62.12" y="644.41" width="6.13" height="0.23" fill="#FF9933" stroke="#000" stroke-opacity="0.8" stroke-width="0.6"/>
<rect x="62.12" y="644.18" width="6.13" height="0.23" fill="#FF0066" stroke="#000" stroke-opacity="0.8" stroke-width="0.6"/>
<rect x="62.12" y="642.13" width="6.13" height="2.05" fill="#33CC66" stroke="#000" stroke-opacity="0.8" stroke-width="0.6"/>
<rect x="72.34" y="646.69" width="6.13" height="2.11" fill="#6699FF" stroke="#000" stroke-opacity="0.8" stroke-width="0.6"/>
<rect x="72.34" y="646.46" width="6.13" height="0.23" fill="#FF9933" stroke="#000" stroke-opacity="0.8" stroke-width="0.6"/>
<rect x="72.34" y="646.23" width="6.13" height="0.23" fill="#FF0066" stroke="#000" stroke-opacity="0.8" stroke-width="0.6"/>
<rect x="72.34" y="643.5" width="6.13" height="2.73" fill="#33CC66" stroke="#000" stroke-opacity="0.8" stroke-width="0.6"/>
<rect x="82.56" y="645.44" width="6.13" height="3.36" fill="#6699FF" stroke="#000" stroke-opacity="0.8" stroke-width="0.6"/>
<rect x="82.56" y="645.21" width="6.13" height="0.23" fill="#FF9933" stroke="#000" stroke-opacity="0.8" stroke-width="0.6"/>
<rect x="82.56" y="644.98" width="6.13" height="0.23" fill="#FF0066" stroke="#000" stroke-opacity="0.8" stroke-width="0.6"/>
<rect x="82.56" y="642.93" width="6.13" height="2.05" fill="#33CC66" stroke="#000" stroke-opacity="0.8" stroke-width="0.6"/>
<rect x="92.78" y="644.64" width="6.13" height="4.16" fill="#6699FF" stroke="#000" stroke-opacity="0.8" stroke-width="0.6"/>
<rect x="92.78" y="644.41" width="6.13" height="0.23" fill="#FF9933" stroke="#000" stroke-opacity="0.8" stroke-width="0.6"/>
<rect x="92.78" y="644.18" width="6.13" height="0.23" fill="#FF0066" stroke="#000" stroke-opacity="0.8" stroke-width="0.6"/>
<rect x="92.78" y="642.02" width="6.13" height="2.16" fill="#33CC66" stroke="#000" stroke-opacity="0.8" stroke-width="0.6"/>
<rect x="103" y="642.93" width="6.13" height="5.87" fill="#6699FF" stroke="#000" stroke-opacity="0.8" stroke-width="0.6"/>
<rect x="103" y="642.7" width="6.13" height="0.23" fill="#FF9933" stroke="#000" stroke-opacity="0.8" stroke-width="0.6"/>
<rect x="103" y="642.47" width="6.13" height="0.23" fill="#FF0066" stroke="#000" stroke-opacity="0.8" stroke-width="0.6"/>
<rect x="103" y="640.31" width="6.13" height="2.16" fill="#33CC66" stroke="#000" stroke-opacity="0.8" stroke-width="0.6"/>
<rect x="113.23" y="645.55" width="6.13" height="3.25" fill="#6699FF" stroke="#000" stroke-opacity="0.8" stroke-width="0.6"/>
<rect x="113.23" y="645.32" width="6.13" height="0.23" fill="#FF9933" stroke="#000" stroke-opacity="0.8" stroke-width="0.6"/>
<rect x="113.23" y="645.09" width="6.13" height="0.23" fill="#FF0066" stroke="#000" stroke-opacity="0.8" stroke-width="0.6"/>
<rect x="113.23" y="642.93" width="6.13" height="2.16" fill="#33CC66" stroke="#000" stroke-opacity="0.8" stroke-width="0.6"/>
<rect x="123.45" y="646.58" width="6.13" height="2.22" fill="#6699FF" stroke="#000" stroke-opacity="0.8" stroke-width="0.6"/>
<rect x="123.45" y="646.35" width="6.13" height="0.23" fill="#FF9933" stroke="#000" stroke-opacity="0.8" stroke-width="0.6"/>
<rect x="123.45" y="646.12" width="6.13" height="0.23" fill="#FF0066" stroke="#000" stroke-opacity="0.8" stroke-width="0.6"/>
<rect x="123.45" y="643.84" width="6.13" height="2.28" fill="#33CC66" stroke="#000" stroke-opacity="0.8" stroke-width="0.6"/>
<rect x="133.67" y="645.55" width="6.13" height="3.25" fill="#6699FF" stroke="#000" stroke-opacity="0.8" stroke-width="0.6"/>
<rect x="133.67" y="645.32" width="6.13" height="0.23" fill="#FF9933" stroke="#000" stroke-opacity="0.8" stroke-width="0.6"/>
<rect x="133.67" y="645.09" width="6.13" height="0.23" fill="#FF0066" stroke="#000" stroke-opacity="0.8" stroke-width="0.6"/>
<rect x="133.67" y="640.65" width="6.13" height="4.44" fill="#33CC66" stroke="#000" stroke-opacity="0.8" stroke-width="0.6"/>
<rect x="143.89" y="645.55" width="6.13" height="3.25" fill="#6699FF" stroke="#000" stroke-opacity="0.8" stroke-width="0.6"/>
<rect x="143.89" y="645.32" width="6.13" height="0.23" fill="#FF9933" stroke="#000" stroke-opacity="0.8" stroke-width="0.6"/>
<rect x="143.89" y="645.09" width="6.13" height="0.23" fill="#FF0066" stroke="#000" stroke-opacity="0.8" stroke-width="0.6"/>
<rect x="143.89" y="640.42" width="6.13" height="4.67" fill="#33CC66" stroke="#000" stroke-opacity="0.8" stroke-width="0.6"/>
<rect x="154.11" y="645.55" width="6.13" height="3.25" fill="#6699FF" stroke="#000" stroke-opacity="0.8" stroke-width="0.6"/>
<rect x="154.11" y="645.32" width="6.13" height="0.23" fill="#FF9933" stroke="#000" stroke-opacity="0.8" stroke-width="0.6"/>
<rect x="154.11" y="645.09" width="6.13" height="0.23" fill="#FF0066" stroke="#000" stroke-opacity="0.8" stroke-width="0.6"/>
<rect x="154.11" y="640.99" width="6.13" height="4.1" fill="#33CC66" stroke="#000" stroke-opacity="0.8" stroke-width="0.6"/>
<line x1="34.52" y1="648.8" x2="34.52" y2="644.5" stroke="#111" stroke-width="0.9"/>
<line x1="54.96" y1="648.8" x2="54.96" y2="644.5" stroke="#111" stroke-width="0.9"/>
<line x1="75.41" y1="648.8" x2="75.41" y2="644.5" stroke="#111" stroke-width="0.9"/>
<line x1="95.85" y1="648.8" x2="95.85" y2="644.5" stroke="#111" stroke-width="0.9"/>
<line x1="116.29" y1="648.8" x2="116.29" y2="644.5" stroke="#111" stroke-width="0.9"/>
<line x1="136.74" y1="648.8" x2="136.74" y2="644.5" stroke="#111" stroke-width="0.9"/>
<line x1="157.18" y1="648.8" x2="157.18" y2="644.5" stroke="#111" stroke-width="0.9"/>
<rect x="24.3" y="576" width="143.1" height="72.8" fill="none" stroke="#888" stroke-width="1"/>
<line x1="24.3" y1="648.8" x2="28.7" y2="648.8" stroke="#111" stroke-width="1"/>
<text x="21.7" y="652.8" font-size="10.3" text-anchor="end">0</text>
<line x1="24.3" y1="612.4" x2="26.9" y2="612.4" stroke="#111" stroke-width="1"/>
<text x="21.7" y="580" font-size="10.3" text-anchor="end">20</text>
<line x1="23.8" y1="648.8" x2="167.9" y2="648.8" stroke="#333" stroke-width="1"/>
<line x1="24.3" y1="575.5" x2="24.3" y2="649.3" stroke="#333" stroke-width="1"/>
<text x="34.52" y="660.4" font-size="10.1" text-anchor="middle">2008</text>
<text x="75.41" y="660.4" font-size="10.1" text-anchor="middle">2012</text>
<text x="116.29" y="660.4" font-size="10.1" text-anchor="middle">2016</text>
<text x="157.18" y="660.4" font-size="10.1" text-anchor="middle">2020</text>
<text x="9.5" y="612.4" font-size="10" text-anchor="middle" transform="rotate(-90 9.5 612.4)">Index</text>
<text x="86.5" y="571.5" font-size="16.7" text-anchor="middle">Beihai</text>
<rect x="196.6" y="576" width="143" height="72.8" fill="#E5E5E5"/>
<rect x="203.75" y="644.64" width="6.13" height="4.16" fill="#6699FF" stroke="#000" stroke-opacity="0.8" stroke-width="0.6"/>
<rect x="203.75" y="643.73" width="6.13" height="0.91" fill="#FF9933" stroke="#000" stroke-opacity="0.8" stroke-width="0.6"/>
<rect x="203.75" y="642.93" width="6.13" height="0.8" fill="#FF0066" stroke="#000" stroke-opacity="0.8" stroke-width="0.6"/>
<rect x="203.75" y="640.31" width="6.13" height="2.62" fill="#33CC66" stroke="#000" stroke-opacity="0.8" stroke-width="0.6"/>
<rect x="213.96" y="646.79" width="6.13" height="2.01" fill="#6699FF" stroke="#000" stroke-opacity="0.8" stroke-width="0.6"/>
<rect x="213.96" y="646.49" width="6.13" height="0.3" fill="#FF9933" stroke="#000" stroke-opacity="0.8" stroke-width="0.6"/>
<rect x="213.96" y="646.19" width="6.13" height="0.3" fill="#FF0066" stroke="#000" stroke-opacity="0.8" stroke-width="0.6"/>
<rect x="213.96" y="644.41" width="6.13" height="1.78" fill="#33CC66" stroke="#000" stroke-opacity="0.8" stroke-width="0.6"/>
<rect x="224.18" y="646.79" width="6.13" height="2.01" fill="#6699FF" stroke="#000" stroke-opacity="0.8" stroke-width="0.6"/>
<rect x="224.18" y="646.49" width="6.13" height="0.3" fill="#FF9933" stroke="#000" stroke-opacity="0.8" stroke-width="0.6"/>
<rect x="224.18" y="646.19" width="6.13" height="0.3" fill="#FF0066" stroke="#000" stroke-opacity="0.8" stroke-width="0.6"/>
<rect x="224.18" y="644.07" width="6.13" height="2.12" fill="#33CC66" stroke="#000" stroke-opacity="0.8" stroke-width="0.6"/>
<rect x="234.39" y="646.56" width="6.13" height="2.24" fill="#6699FF" stroke="#000" stroke-opacity="0.8" stroke-width="0.6"/>
<rect x="234.39" y="646.26" width="6.13" height="0.3" fill="#FF9933" stroke="#000" stroke-opacity="0.8" stroke-width="0.6"/>
<rect x="234.39" y="645.96" width="6.13" height="0.3" fill="#FF0066" stroke="#000" stroke-opacity="0.8" stroke-width="0.6"/>
<rect x="234.39" y="643.5" width="6.13" height="2.46" fill="#33CC66" stroke="#000" stroke-opacity="0.8" stroke-width="0.6"/>
<rect x="244.61" y="646.45" width="6.13" height="2.35" fill="#6699FF" stroke="#000" stroke-opacity="0.8" stroke-width="0.6"/>
<rect x="244.61" y="646.15" width="6.13" height="0.3" fill="#FF9933" stroke="#000" stroke-opacity="0.8" stroke-width="0.6"/>
<rect x="244.61" y="645.78" width="6.13" height="0.37" fill="#FF0066" stroke="#000" stroke-opacity="0.8" stroke-width="0.6"/>
<rect x="244.61" y="643.16" width="6.13" height="2.62" fill="#33CC66" stroke="#000" stroke-opacity="0.8" stroke-width="0.6"/>
<rect x="254.82" y="646.45" width="6.13" height="2.35" fill="#6699FF" stroke="#000" stroke-opacity="0.8" stroke-width="0.6"/>
<rect x="254.82" y="646.15" width="6.13" height="0.3" fill="#FF9933" stroke="#000" stroke-opacity="0.8" stroke-width="0.6"/>
<rect x="254.82" y="645.55" width="6.13" height="0.6" fill="#FF0066" stroke="#000" stroke-opacity="0.8" stroke-width="0.6"/>
<rect x="254.82" y="643.16" width="6.13" height="2.39" fill="#33CC66" stroke="#000" stroke-opacity="0.8" stroke-width="0.6"/>
<rect x="265.04" y="646.45" width="6.13" height="2.35" fill="#6699FF" stroke="#000" stroke-opacity="0.8" stroke-width="0.6"/>
<rect x="265.04" y="646.15" width="6.13" height="0.3" fill="#FF9933" stroke="#000" stroke-opacity="0.8" stroke-width="0.6"/>
<rect x="265.04" y="645.55" width="6.13" height="0.6" fill="#FF0066" stroke="#000" stroke-opacity="0.8" stroke-width="0.6"/>
<rect x="265.04" y="642.93" width="6.13" height="2.62" fill="#33CC66" stroke="#000" stroke-opacity="0.8" stroke-width="0.6"/>
<rect x="275.25" y="646.56" width="6.13" height="2.24" fill="#6699FF" stroke="#000" stroke-opacity="0.8" stroke-width="0.6"/>
<rect x="275.25" y="646.26" width="6.13" height="0.3" fill="#FF9933" stroke="#000" stroke-opacity="0.8" stroke-width="0.6"/>
<rect x="275.25" y="645.96" width="6.13" height="0.3" fill="#FF0066" stroke="#000" stroke-opacity="0.8" stroke-width="0.6"/>
<rect x="275.25" y="643.16" width="6.13" height="2.8" fill="#33CC66" stroke="#000" stroke-opacity="0.8" stroke-width="0.6"/>
<rect x="285.46" y="647.13" width="6.13" height="1.67" fill="#6699FF" stroke="#000" stroke-opacity="0.8" stroke-width="0.6"/>
<rect x="285.46" y="646.83" width="6.13" height="0.3" fill="#FF9933" stroke="#000" stroke-opacity="0.8" stroke-width="0.6"/>
<rect x="285.46" y="646.53" width="6.13" height="0.3" fill="#FF0066" stroke="#000" stroke-opacity="0.8" stroke-width="0.6"/>
<rect x="285.46" y="644.3" width="6.13" height="2.23" fill="#33CC66" stroke="#000" stroke-opacity="0.8" stroke-width="0.6"/>
<rect x="295.68" y="647.13" width="6.13" height="1.67" fill="#6699FF" stroke="#000" stroke-opacity="0.8" stroke-width="0.6"/>
<rect x="295.68" y="646.83" width="6.13" height="0.3" fill="#FF9933" stroke="#000" stroke-opacity="0.8" stroke-width="0.6"/>
<rect x="295.68" y="646.53" width="6.13" height="0.3" fill="#FF0066" stroke="#000" stroke-opacity="0.8" stroke-width="0.6"/>
<rect x="295.68" y="644.3" width="6.13" height="2.23" fill="#33CC66" stroke="#000" stroke-opacity="0.8" stroke-width="0.6"/>
<rect x="305.89" y="647.13" width="6.13" height="1.67" fill="#6699FF" stroke="#000" stroke-opacity="0.8" stroke-width="0.6"/>
<rect x="305.89" y="646.83" width="6.13" height="0.3" fill="#FF9933" stroke="#000" stroke-opacity="0.8" stroke-width="0.6"/>
<rect x="305.89" y="646.53" width="6.13" height="0.3" fill="#FF0066" stroke="#000" stroke-opacity="0.8" stroke-width="0.6"/>
<rect x="305.89" y="643.84" width="6.13" height="2.69" fill="#33CC66" stroke="#000" stroke-opacity="0.8" stroke-width="0.6"/>
<rect x="316.11" y="646.56" width="6.13" height="2.24" fill="#6699FF" stroke="#000" stroke-opacity="0.8" stroke-width="0.6"/>
<rect x="316.11" y="646.26" width="6.13" height="0.3" fill="#FF9933" stroke="#000" stroke-opacity="0.8" stroke-width="0.6"/>
<rect x="316.11" y="645.78" width="6.13" height="0.48" fill="#FF0066" stroke="#000" stroke-opacity="0.8" stroke-width="0.6"/>
<rect x="316.11" y="642.7" width="6.13" height="3.08" fill="#33CC66" stroke="#000" stroke-opacity="0.8" stroke-width="0.6"/>
<rect x="326.32" y="645.78" width="6.13" height="3.02" fill="#6699FF" stroke="#000" stroke-opacity="0.8" stroke-width="0.6"/>
<rect x="326.32" y="645.44" width="6.13" height="0.34" fill="#FF9933" stroke="#000" stroke-opacity="0.8" stroke-width="0.6"/>
<rect x="326.32" y="645.09" width="6.13" height="0.35" fill="#FF0066" stroke="#000" stroke-opacity="0.8" stroke-width="0.6"/>
<rect x="326.32" y="640.31" width="6.13" height="4.78" fill="#33CC66" stroke="#000" stroke-opacity="0.8" stroke-width="0.6"/>
<line x1="206.81" y1="648.8" x2="206.81" y2="644.5" stroke="#111" stroke-width="0.9"/>
<line x1="227.24" y1="648.8" x2="227.24" y2="644.5" stroke="#111" stroke-width="0.9"/>
<line x1="247.67" y1="648.8" x2="247.67" y2="644.5" stroke="#111" stroke-width="0.9"/>
<line x1="268.1" y1="648.8" x2="268.1" y2="644.5" stroke="#111" stroke-width="0.9"/>
<line x1="288.53" y1="648.8" x2="288.53" y2="644.5" stroke="#111" stroke-width="0.9"/>
<line x1="308.96" y1="648.8" x2="308.96" y2="644.5" stroke="#111" stroke-width="0.9"/>
<line x1="329.39" y1="648.8" x2="329.39" y2="644.5" stroke="#111" stroke-width="0.9"/>
<rect x="196.6" y="576" width="143" height="72.8" fill="none" stroke="#888" stroke-width="1"/>
<line x1="196.6" y1="648.8" x2="201" y2="648.8" stroke="#111" stroke-width="1"/>
<text x="194" y="652.8" font-size="10.3" text-anchor="end">0</text>
<line x1="196.6" y1="612.4" x2="199.2" y2="612.4" stroke="#111" stroke-width="1"/>
<text x="194" y="580" font-size="10.3" text-anchor="end">20</text>
<line x1="196.1" y1="648.8" x2="340.1" y2="648.8" stroke="#333" stroke-width="1"/>
<line x1="196.6" y1="575.5" x2="196.6" y2="649.3" stroke="#333" stroke-width="1"/>
<text x="206.81" y="660.4" font-size="10.1" text-anchor="middle">2008</text>
<text x="247.67" y="660.4" font-size="10.1" text-anchor="middle">2012</text>
<text x="288.53" y="660.4" font-size="10.1" text-anchor="middle">2016</text>
<text x="329.39" y="660.4" font-size="10.1" text-anchor="middle">2020</text>
<text x="181.8" y="612.4" font-size="10" text-anchor="middle" transform="rotate(-90 181.8 612.4)">Index</text>
<text x="270.4" y="571.5" font-size="16.7" text-anchor="middle">Zhanjiang</text>
<rect x="358.5" y="556.5" width="325" height="108.3" fill="#fff" stroke="#555" stroke-width="1"/>
<text x="408.2" y="570.7" font-size="14.8">Sub Index</text>
<rect x="369.6" y="579.0" width="27.8" height="16.2" fill="#6699FF" stroke="#000" stroke-opacity="0.6" stroke-width="0.8"/>
<text x="404.1" y="592.3" font-size="13.85">Economic</text>
<rect x="369.6" y="599.0" width="27.8" height="16.2" fill="#FF9933" stroke="#000" stroke-opacity="0.6" stroke-width="0.8"/>
<text x="404.1" y="611.9" font-size="13.85">Social</text>
<rect x="369.6" y="619.2" width="27.8" height="16.2" fill="#FF0066" stroke="#000" stroke-opacity="0.6" stroke-width="0.8"/>
<text x="404.1" y="632.4" font-size="13.85">Science and Technology</text>
<rect x="369.6" y="639.2" width="27.8" height="16.2" fill="#33CC66" stroke="#000" stroke-opacity="0.6" stroke-width="0.8"/>
<text x="404.1" y="652.1" font-size="13.85">Policy</text>
<rect x="548.2" y="579.2" width="28.2" height="16.2" fill="#FFCCE0" stroke="#000" stroke-opacity="0.5" stroke-width="0.8"/>
<text x="582.3" y="591.7" font-size="14.8">First echelon</text>
<rect x="548.2" y="599.6" width="28.2" height="16.2" fill="#FFFF66" stroke="#000" stroke-opacity="0.5" stroke-width="0.8"/>
<text x="582.3" y="612.6" font-size="14.8">Second echelon</text>
<rect x="548.2" y="619.6" width="28.2" height="16.2" fill="#CCFFCC" stroke="#000" stroke-opacity="0.5" stroke-width="0.8"/>
<text x="582.3" y="633.4" font-size="14.8">Third echelon</text>
<rect x="548.2" y="639.6" width="28.2" height="16.2" fill="#E5E5E5" stroke="#000" stroke-opacity="0.5" stroke-width="0.8"/>
<text x="581.6" y="654.9" font-size="14.8">Fourth echelon</text>
</svg>
</body></html>
